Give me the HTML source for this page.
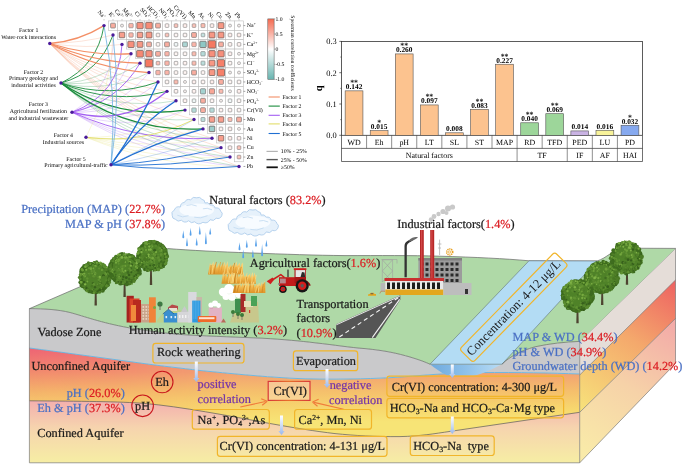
<!DOCTYPE html><html><head><meta charset="utf-8"><title>Cr(VI) factors</title><style>html,body{margin:0;padding:0;background:#fff;}svg{display:block;}text{font-family:'Liberation Serif', serif;text-rendering:geometricPrecision;}</style></head><body>
<svg width="685" height="466" viewBox="0 0 685 466">
<rect width="685" height="466" fill="#ffffff"/>
<path d="M49.80,43.50 Q81.91,43.04 113.00,34.99" fill="none" stroke="#f38f66" stroke-width="0.45" stroke-opacity="0.55"/>
<path d="M49.80,43.50 Q85.84,48.99 122.00,44.38" fill="none" stroke="#f38f66" stroke-width="0.45" stroke-opacity="0.55"/>
<path d="M49.80,43.50 Q99.29,75.70 158.00,81.94" fill="none" stroke="#f38f66" stroke-width="0.45" stroke-opacity="0.55"/>
<path d="M49.80,43.50 Q102.66,81.48 167.00,91.33" fill="none" stroke="#f38f66" stroke-width="0.45" stroke-opacity="0.55"/>
<path d="M49.80,43.50 Q106.03,87.25 176.00,100.72" fill="none" stroke="#f38f66" stroke-width="0.45" stroke-opacity="0.55"/>
<path d="M49.80,43.50 Q112.78,98.80 194.00,119.50" fill="none" stroke="#f38f66" stroke-width="0.45" stroke-opacity="0.55"/>
<path d="M49.80,43.50 Q119.53,110.35 212.00,138.28" fill="none" stroke="#f38f66" stroke-width="0.45" stroke-opacity="0.55"/>
<path d="M49.80,43.50 Q122.90,116.13 221.00,147.67" fill="none" stroke="#f38f66" stroke-width="0.45" stroke-opacity="0.55"/>
<path d="M49.80,43.50 Q126.27,121.90 230.00,157.06" fill="none" stroke="#f38f66" stroke-width="0.45" stroke-opacity="0.55"/>
<path d="M49.80,43.50 Q129.65,127.68 239.00,166.45" fill="none" stroke="#f38f66" stroke-width="0.45" stroke-opacity="0.55"/>
<path d="M61.00,83.00 Q101.85,82.39 131.00,53.77" fill="none" stroke="#1a8c3c" stroke-width="0.45" stroke-opacity="0.55"/>
<path d="M61.00,83.00 Q104.07,87.30 140.00,63.16" fill="none" stroke="#1a8c3c" stroke-width="0.45" stroke-opacity="0.55"/>
<path d="M61.00,83.00 Q106.88,93.62 149.00,72.55" fill="none" stroke="#1a8c3c" stroke-width="0.45" stroke-opacity="0.55"/>
<path d="M61.00,83.00 Q115.49,111.41 176.00,100.72" fill="none" stroke="#1a8c3c" stroke-width="0.45" stroke-opacity="0.55"/>
<path d="M61.00,83.00 Q121.30,123.86 194.00,119.50" fill="none" stroke="#1a8c3c" stroke-width="0.45" stroke-opacity="0.55"/>
<path d="M61.00,83.00 Q128.21,133.29 212.00,138.28" fill="none" stroke="#1a8c3c" stroke-width="0.45" stroke-opacity="0.55"/>
<path d="M61.00,83.00 Q131.30,139.34 221.00,147.67" fill="none" stroke="#1a8c3c" stroke-width="0.45" stroke-opacity="0.55"/>
<path d="M61.00,83.00 Q134.39,145.38 230.00,157.06" fill="none" stroke="#1a8c3c" stroke-width="0.45" stroke-opacity="0.55"/>
<path d="M61.00,83.00 Q137.48,151.43 239.00,166.45" fill="none" stroke="#1a8c3c" stroke-width="0.45" stroke-opacity="0.55"/>
<path d="M72.00,112.20 Q115.66,85.89 113.00,34.99" fill="none" stroke="#a35ef2" stroke-width="0.45" stroke-opacity="0.55"/>
<path d="M72.00,112.20 Q119.03,100.69 131.00,53.77" fill="none" stroke="#a35ef2" stroke-width="0.45" stroke-opacity="0.55"/>
<path d="M72.00,112.20 Q119.22,109.31 149.00,72.55" fill="none" stroke="#a35ef2" stroke-width="0.45" stroke-opacity="0.55"/>
<path d="M72.00,112.20 Q121.05,114.27 158.00,81.94" fill="none" stroke="#a35ef2" stroke-width="0.45" stroke-opacity="0.55"/>
<path d="M72.00,112.20 Q126.30,127.26 176.00,100.72" fill="none" stroke="#a35ef2" stroke-width="0.45" stroke-opacity="0.55"/>
<path d="M72.00,112.20 Q128.92,133.75 185.00,110.11" fill="none" stroke="#a35ef2" stroke-width="0.45" stroke-opacity="0.55"/>
<path d="M72.00,112.20 Q142.24,147.81 221.00,147.67" fill="none" stroke="#a35ef2" stroke-width="0.45" stroke-opacity="0.55"/>
<path d="M72.00,112.20 Q145.62,153.59 230.00,157.06" fill="none" stroke="#a35ef2" stroke-width="0.45" stroke-opacity="0.55"/>
<path d="M72.00,112.20 Q148.99,159.37 239.00,166.45" fill="none" stroke="#a35ef2" stroke-width="0.45" stroke-opacity="0.55"/>
<path d="M86.00,137.30 Q111.78,89.39 113.00,34.99" fill="none" stroke="#e2de6a" stroke-width="0.45" stroke-opacity="0.55"/>
<path d="M86.00,137.30 Q139.58,138.56 185.00,110.11" fill="none" stroke="#e2de6a" stroke-width="0.45" stroke-opacity="0.55"/>
<path d="M86.00,137.30 Q145.34,144.80 203.00,128.89" fill="none" stroke="#e2de6a" stroke-width="0.45" stroke-opacity="0.55"/>
<path d="M86.00,137.30 Q148.90,150.39 212.00,138.28" fill="none" stroke="#e2de6a" stroke-width="0.45" stroke-opacity="0.55"/>
<path d="M86.00,137.30 Q152.46,155.99 221.00,147.67" fill="none" stroke="#e2de6a" stroke-width="0.45" stroke-opacity="0.55"/>
<path d="M86.00,137.30 Q156.02,161.58 230.00,157.06" fill="none" stroke="#e2de6a" stroke-width="0.45" stroke-opacity="0.55"/>
<path d="M86.00,137.30 Q159.59,167.18 239.00,166.45" fill="none" stroke="#e2de6a" stroke-width="0.45" stroke-opacity="0.55"/>
<path d="M111.00,164.80 Q153.41,143.81 194.00,119.50" fill="none" stroke="#1f6fd2" stroke-width="0.45" stroke-opacity="0.55"/>
<path d="M111.00,164.80 Q162.30,154.57 212.00,138.28" fill="none" stroke="#1f6fd2" stroke-width="0.45" stroke-opacity="0.55"/>
<path d="M61.00,83.00 Q97.42,65.48 104.00,25.60" fill="none" stroke="#1a8c3c" stroke-width="0.95" stroke-opacity="0.95"/>
<path d="M61.00,83.00 Q99.48,72.52 113.00,34.99" fill="none" stroke="#1a8c3c" stroke-width="0.95" stroke-opacity="0.95"/>
<path d="M61.00,83.00 Q109.68,98.96 158.00,81.94" fill="none" stroke="#1a8c3c" stroke-width="0.95" stroke-opacity="0.95"/>
<path d="M61.00,83.00 Q112.58,105.19 167.00,91.33" fill="none" stroke="#1a8c3c" stroke-width="0.95" stroke-opacity="0.95"/>
<path d="M72.00,112.20 Q119.38,94.79 122.00,44.38" fill="none" stroke="#a35ef2" stroke-width="0.95" stroke-opacity="0.95"/>
<path d="M72.00,112.20 Q116.79,102.64 140.00,63.16" fill="none" stroke="#a35ef2" stroke-width="0.95" stroke-opacity="0.95"/>
<path d="M72.00,112.20 Q138.87,142.04 212.00,138.28" fill="none" stroke="#a35ef2" stroke-width="0.95" stroke-opacity="0.95"/>
<path d="M86.00,137.30 Q142.67,144.60 194.00,119.50" fill="none" stroke="#e2de6a" stroke-width="0.95" stroke-opacity="0.95"/>
<path d="M111.00,164.80 Q166.86,161.74 221.00,147.67" fill="none" stroke="#1f6fd2" stroke-width="0.95" stroke-opacity="0.95"/>
<path d="M111.00,164.80 Q170.89,166.88 230.00,157.06" fill="none" stroke="#1f6fd2" stroke-width="0.95" stroke-opacity="0.95"/>
<path d="M111.00,164.80 Q174.92,172.03 239.00,166.45" fill="none" stroke="#1f6fd2" stroke-width="0.95" stroke-opacity="0.95"/>
<path d="M49.80,43.50 Q79.05,41.05 104.00,25.60" fill="none" stroke="#f38f66" stroke-width="1.3" stroke-opacity="1.0"/>
<path d="M49.80,43.50 Q89.48,55.94 131.00,53.77" fill="none" stroke="#f38f66" stroke-width="1.3" stroke-opacity="1.0"/>
<path d="M49.80,43.50 Q92.93,62.35 140.00,63.16" fill="none" stroke="#f38f66" stroke-width="1.3" stroke-opacity="1.0"/>
<path d="M49.80,43.50 Q96.20,68.94 149.00,72.55" fill="none" stroke="#f38f66" stroke-width="1.3" stroke-opacity="1.0"/>
<path d="M61.00,83.00 Q117.85,120.12 185.00,110.11" fill="none" stroke="#1a8c3c" stroke-width="1.3" stroke-opacity="1.0"/>
<path d="M61.00,83.00 Q123.28,132.93 203.00,128.89" fill="none" stroke="#1a8c3c" stroke-width="1.3" stroke-opacity="1.0"/>
<path d="M72.00,112.20 Q124.93,126.47 167.00,91.33" fill="none" stroke="#a35ef2" stroke-width="1.3" stroke-opacity="1.0"/>
<path d="M111.00,164.80 Q138.64,125.72 158.00,81.94" fill="none" stroke="#1f6fd2" stroke-width="1.3" stroke-opacity="1.0"/>
<path d="M111.00,164.80 Q137.09,126.26 176.00,100.72" fill="none" stroke="#1f6fd2" stroke-width="1.3" stroke-opacity="1.0"/>
<path d="M111.00,164.80 Q155.20,142.25 203.00,128.89" fill="none" stroke="#1f6fd2" stroke-width="1.3" stroke-opacity="1.0"/>
<path d="M111.00,164.80 Q117.24,94.71 104.00,25.60" fill="none" stroke="#5fa9de" stroke-width="0.85" stroke-opacity="0.85"/>
<path d="M111.00,164.80 Q121.09,100.04 113.00,34.99" fill="none" stroke="#5fa9de" stroke-width="0.85" stroke-opacity="0.85"/>
<circle cx="49.8" cy="43.5" r="1.7" fill="#4a1a9a"/>
<circle cx="61.0" cy="83.0" r="1.7" fill="#4a1a9a"/>
<circle cx="72.0" cy="112.2" r="1.7" fill="#4a1a9a"/>
<circle cx="86.0" cy="137.3" r="1.7" fill="#4a1a9a"/>
<circle cx="111.0" cy="164.8" r="1.7" fill="#4a1a9a"/>
<circle cx="104.00" cy="25.60" r="1.7" fill="#4a1a9a"/>
<circle cx="113.00" cy="34.99" r="1.7" fill="#4a1a9a"/>
<circle cx="122.00" cy="44.38" r="1.7" fill="#4a1a9a"/>
<circle cx="131.00" cy="53.77" r="1.7" fill="#4a1a9a"/>
<circle cx="140.00" cy="63.16" r="1.7" fill="#4a1a9a"/>
<circle cx="149.00" cy="72.55" r="1.7" fill="#4a1a9a"/>
<circle cx="158.00" cy="81.94" r="1.7" fill="#4a1a9a"/>
<circle cx="167.00" cy="91.33" r="1.7" fill="#4a1a9a"/>
<circle cx="176.00" cy="100.72" r="1.7" fill="#4a1a9a"/>
<circle cx="185.00" cy="110.11" r="1.7" fill="#4a1a9a"/>
<circle cx="194.00" cy="119.50" r="1.7" fill="#4a1a9a"/>
<circle cx="203.00" cy="128.89" r="1.7" fill="#4a1a9a"/>
<circle cx="212.00" cy="138.28" r="1.7" fill="#4a1a9a"/>
<circle cx="221.00" cy="147.67" r="1.7" fill="#4a1a9a"/>
<circle cx="230.00" cy="157.06" r="1.7" fill="#4a1a9a"/>
<circle cx="239.00" cy="166.45" r="1.7" fill="#4a1a9a"/>
<rect x="108.50" y="20.91" width="9.00" height="9.39" fill="#fff" stroke="#bdbdbd" stroke-width="0.6"/>
<rect x="117.50" y="20.91" width="9.00" height="9.39" fill="#fff" stroke="#bdbdbd" stroke-width="0.6"/>
<rect x="126.50" y="20.91" width="9.00" height="9.39" fill="#fff" stroke="#bdbdbd" stroke-width="0.6"/>
<rect x="135.50" y="20.91" width="9.00" height="9.39" fill="#fff" stroke="#bdbdbd" stroke-width="0.6"/>
<rect x="144.50" y="20.91" width="9.00" height="9.39" fill="#fff" stroke="#bdbdbd" stroke-width="0.6"/>
<rect x="153.50" y="20.91" width="9.00" height="9.39" fill="#fff" stroke="#bdbdbd" stroke-width="0.6"/>
<rect x="162.50" y="20.91" width="9.00" height="9.39" fill="#fff" stroke="#bdbdbd" stroke-width="0.6"/>
<rect x="171.50" y="20.91" width="9.00" height="9.39" fill="#fff" stroke="#bdbdbd" stroke-width="0.6"/>
<rect x="180.50" y="20.91" width="9.00" height="9.39" fill="#fff" stroke="#bdbdbd" stroke-width="0.6"/>
<rect x="189.50" y="20.91" width="9.00" height="9.39" fill="#fff" stroke="#bdbdbd" stroke-width="0.6"/>
<rect x="198.50" y="20.91" width="9.00" height="9.39" fill="#fff" stroke="#bdbdbd" stroke-width="0.6"/>
<rect x="207.50" y="20.91" width="9.00" height="9.39" fill="#fff" stroke="#bdbdbd" stroke-width="0.6"/>
<rect x="216.50" y="20.91" width="9.00" height="9.39" fill="#fff" stroke="#bdbdbd" stroke-width="0.6"/>
<rect x="225.50" y="20.91" width="9.00" height="9.39" fill="#fff" stroke="#bdbdbd" stroke-width="0.6"/>
<rect x="234.50" y="20.91" width="9.00" height="9.39" fill="#fff" stroke="#bdbdbd" stroke-width="0.6"/>
<rect x="117.50" y="30.30" width="9.00" height="9.39" fill="#fff" stroke="#bdbdbd" stroke-width="0.6"/>
<rect x="126.50" y="30.30" width="9.00" height="9.39" fill="#fff" stroke="#bdbdbd" stroke-width="0.6"/>
<rect x="135.50" y="30.30" width="9.00" height="9.39" fill="#fff" stroke="#bdbdbd" stroke-width="0.6"/>
<rect x="144.50" y="30.30" width="9.00" height="9.39" fill="#fff" stroke="#bdbdbd" stroke-width="0.6"/>
<rect x="153.50" y="30.30" width="9.00" height="9.39" fill="#fff" stroke="#bdbdbd" stroke-width="0.6"/>
<rect x="162.50" y="30.30" width="9.00" height="9.39" fill="#fff" stroke="#bdbdbd" stroke-width="0.6"/>
<rect x="171.50" y="30.30" width="9.00" height="9.39" fill="#fff" stroke="#bdbdbd" stroke-width="0.6"/>
<rect x="180.50" y="30.30" width="9.00" height="9.39" fill="#fff" stroke="#bdbdbd" stroke-width="0.6"/>
<rect x="189.50" y="30.30" width="9.00" height="9.39" fill="#fff" stroke="#bdbdbd" stroke-width="0.6"/>
<rect x="198.50" y="30.30" width="9.00" height="9.39" fill="#fff" stroke="#bdbdbd" stroke-width="0.6"/>
<rect x="207.50" y="30.30" width="9.00" height="9.39" fill="#fff" stroke="#bdbdbd" stroke-width="0.6"/>
<rect x="216.50" y="30.30" width="9.00" height="9.39" fill="#fff" stroke="#bdbdbd" stroke-width="0.6"/>
<rect x="225.50" y="30.30" width="9.00" height="9.39" fill="#fff" stroke="#bdbdbd" stroke-width="0.6"/>
<rect x="234.50" y="30.30" width="9.00" height="9.39" fill="#fff" stroke="#bdbdbd" stroke-width="0.6"/>
<rect x="126.50" y="39.69" width="9.00" height="9.39" fill="#fff" stroke="#bdbdbd" stroke-width="0.6"/>
<rect x="135.50" y="39.69" width="9.00" height="9.39" fill="#fff" stroke="#bdbdbd" stroke-width="0.6"/>
<rect x="144.50" y="39.69" width="9.00" height="9.39" fill="#fff" stroke="#bdbdbd" stroke-width="0.6"/>
<rect x="153.50" y="39.69" width="9.00" height="9.39" fill="#fff" stroke="#bdbdbd" stroke-width="0.6"/>
<rect x="162.50" y="39.69" width="9.00" height="9.39" fill="#fff" stroke="#bdbdbd" stroke-width="0.6"/>
<rect x="171.50" y="39.69" width="9.00" height="9.39" fill="#fff" stroke="#bdbdbd" stroke-width="0.6"/>
<rect x="180.50" y="39.69" width="9.00" height="9.39" fill="#fff" stroke="#bdbdbd" stroke-width="0.6"/>
<rect x="189.50" y="39.69" width="9.00" height="9.39" fill="#fff" stroke="#bdbdbd" stroke-width="0.6"/>
<rect x="198.50" y="39.69" width="9.00" height="9.39" fill="#fff" stroke="#bdbdbd" stroke-width="0.6"/>
<rect x="207.50" y="39.69" width="9.00" height="9.39" fill="#fff" stroke="#bdbdbd" stroke-width="0.6"/>
<rect x="216.50" y="39.69" width="9.00" height="9.39" fill="#fff" stroke="#bdbdbd" stroke-width="0.6"/>
<rect x="225.50" y="39.69" width="9.00" height="9.39" fill="#fff" stroke="#bdbdbd" stroke-width="0.6"/>
<rect x="234.50" y="39.69" width="9.00" height="9.39" fill="#fff" stroke="#bdbdbd" stroke-width="0.6"/>
<rect x="135.50" y="49.08" width="9.00" height="9.39" fill="#fff" stroke="#bdbdbd" stroke-width="0.6"/>
<rect x="144.50" y="49.08" width="9.00" height="9.39" fill="#fff" stroke="#bdbdbd" stroke-width="0.6"/>
<rect x="153.50" y="49.08" width="9.00" height="9.39" fill="#fff" stroke="#bdbdbd" stroke-width="0.6"/>
<rect x="162.50" y="49.08" width="9.00" height="9.39" fill="#fff" stroke="#bdbdbd" stroke-width="0.6"/>
<rect x="171.50" y="49.08" width="9.00" height="9.39" fill="#fff" stroke="#bdbdbd" stroke-width="0.6"/>
<rect x="180.50" y="49.08" width="9.00" height="9.39" fill="#fff" stroke="#bdbdbd" stroke-width="0.6"/>
<rect x="189.50" y="49.08" width="9.00" height="9.39" fill="#fff" stroke="#bdbdbd" stroke-width="0.6"/>
<rect x="198.50" y="49.08" width="9.00" height="9.39" fill="#fff" stroke="#bdbdbd" stroke-width="0.6"/>
<rect x="207.50" y="49.08" width="9.00" height="9.39" fill="#fff" stroke="#bdbdbd" stroke-width="0.6"/>
<rect x="216.50" y="49.08" width="9.00" height="9.39" fill="#fff" stroke="#bdbdbd" stroke-width="0.6"/>
<rect x="225.50" y="49.08" width="9.00" height="9.39" fill="#fff" stroke="#bdbdbd" stroke-width="0.6"/>
<rect x="234.50" y="49.08" width="9.00" height="9.39" fill="#fff" stroke="#bdbdbd" stroke-width="0.6"/>
<rect x="144.50" y="58.47" width="9.00" height="9.39" fill="#fff" stroke="#bdbdbd" stroke-width="0.6"/>
<rect x="153.50" y="58.47" width="9.00" height="9.39" fill="#fff" stroke="#bdbdbd" stroke-width="0.6"/>
<rect x="162.50" y="58.47" width="9.00" height="9.39" fill="#fff" stroke="#bdbdbd" stroke-width="0.6"/>
<rect x="171.50" y="58.47" width="9.00" height="9.39" fill="#fff" stroke="#bdbdbd" stroke-width="0.6"/>
<rect x="180.50" y="58.47" width="9.00" height="9.39" fill="#fff" stroke="#bdbdbd" stroke-width="0.6"/>
<rect x="189.50" y="58.47" width="9.00" height="9.39" fill="#fff" stroke="#bdbdbd" stroke-width="0.6"/>
<rect x="198.50" y="58.47" width="9.00" height="9.39" fill="#fff" stroke="#bdbdbd" stroke-width="0.6"/>
<rect x="207.50" y="58.47" width="9.00" height="9.39" fill="#fff" stroke="#bdbdbd" stroke-width="0.6"/>
<rect x="216.50" y="58.47" width="9.00" height="9.39" fill="#fff" stroke="#bdbdbd" stroke-width="0.6"/>
<rect x="225.50" y="58.47" width="9.00" height="9.39" fill="#fff" stroke="#bdbdbd" stroke-width="0.6"/>
<rect x="234.50" y="58.47" width="9.00" height="9.39" fill="#fff" stroke="#bdbdbd" stroke-width="0.6"/>
<rect x="153.50" y="67.86" width="9.00" height="9.39" fill="#fff" stroke="#bdbdbd" stroke-width="0.6"/>
<rect x="162.50" y="67.86" width="9.00" height="9.39" fill="#fff" stroke="#bdbdbd" stroke-width="0.6"/>
<rect x="171.50" y="67.86" width="9.00" height="9.39" fill="#fff" stroke="#bdbdbd" stroke-width="0.6"/>
<rect x="180.50" y="67.86" width="9.00" height="9.39" fill="#fff" stroke="#bdbdbd" stroke-width="0.6"/>
<rect x="189.50" y="67.86" width="9.00" height="9.39" fill="#fff" stroke="#bdbdbd" stroke-width="0.6"/>
<rect x="198.50" y="67.86" width="9.00" height="9.39" fill="#fff" stroke="#bdbdbd" stroke-width="0.6"/>
<rect x="207.50" y="67.86" width="9.00" height="9.39" fill="#fff" stroke="#bdbdbd" stroke-width="0.6"/>
<rect x="216.50" y="67.86" width="9.00" height="9.39" fill="#fff" stroke="#bdbdbd" stroke-width="0.6"/>
<rect x="225.50" y="67.86" width="9.00" height="9.39" fill="#fff" stroke="#bdbdbd" stroke-width="0.6"/>
<rect x="234.50" y="67.86" width="9.00" height="9.39" fill="#fff" stroke="#bdbdbd" stroke-width="0.6"/>
<rect x="162.50" y="77.25" width="9.00" height="9.39" fill="#fff" stroke="#bdbdbd" stroke-width="0.6"/>
<rect x="171.50" y="77.25" width="9.00" height="9.39" fill="#fff" stroke="#bdbdbd" stroke-width="0.6"/>
<rect x="180.50" y="77.25" width="9.00" height="9.39" fill="#fff" stroke="#bdbdbd" stroke-width="0.6"/>
<rect x="189.50" y="77.25" width="9.00" height="9.39" fill="#fff" stroke="#bdbdbd" stroke-width="0.6"/>
<rect x="198.50" y="77.25" width="9.00" height="9.39" fill="#fff" stroke="#bdbdbd" stroke-width="0.6"/>
<rect x="207.50" y="77.25" width="9.00" height="9.39" fill="#fff" stroke="#bdbdbd" stroke-width="0.6"/>
<rect x="216.50" y="77.25" width="9.00" height="9.39" fill="#fff" stroke="#bdbdbd" stroke-width="0.6"/>
<rect x="225.50" y="77.25" width="9.00" height="9.39" fill="#fff" stroke="#bdbdbd" stroke-width="0.6"/>
<rect x="234.50" y="77.25" width="9.00" height="9.39" fill="#fff" stroke="#bdbdbd" stroke-width="0.6"/>
<rect x="171.50" y="86.64" width="9.00" height="9.39" fill="#fff" stroke="#bdbdbd" stroke-width="0.6"/>
<rect x="180.50" y="86.64" width="9.00" height="9.39" fill="#fff" stroke="#bdbdbd" stroke-width="0.6"/>
<rect x="189.50" y="86.64" width="9.00" height="9.39" fill="#fff" stroke="#bdbdbd" stroke-width="0.6"/>
<rect x="198.50" y="86.64" width="9.00" height="9.39" fill="#fff" stroke="#bdbdbd" stroke-width="0.6"/>
<rect x="207.50" y="86.64" width="9.00" height="9.39" fill="#fff" stroke="#bdbdbd" stroke-width="0.6"/>
<rect x="216.50" y="86.64" width="9.00" height="9.39" fill="#fff" stroke="#bdbdbd" stroke-width="0.6"/>
<rect x="225.50" y="86.64" width="9.00" height="9.39" fill="#fff" stroke="#bdbdbd" stroke-width="0.6"/>
<rect x="234.50" y="86.64" width="9.00" height="9.39" fill="#fff" stroke="#bdbdbd" stroke-width="0.6"/>
<rect x="180.50" y="96.03" width="9.00" height="9.39" fill="#fff" stroke="#bdbdbd" stroke-width="0.6"/>
<rect x="189.50" y="96.03" width="9.00" height="9.39" fill="#fff" stroke="#bdbdbd" stroke-width="0.6"/>
<rect x="198.50" y="96.03" width="9.00" height="9.39" fill="#fff" stroke="#bdbdbd" stroke-width="0.6"/>
<rect x="207.50" y="96.03" width="9.00" height="9.39" fill="#fff" stroke="#bdbdbd" stroke-width="0.6"/>
<rect x="216.50" y="96.03" width="9.00" height="9.39" fill="#fff" stroke="#bdbdbd" stroke-width="0.6"/>
<rect x="225.50" y="96.03" width="9.00" height="9.39" fill="#fff" stroke="#bdbdbd" stroke-width="0.6"/>
<rect x="234.50" y="96.03" width="9.00" height="9.39" fill="#fff" stroke="#bdbdbd" stroke-width="0.6"/>
<rect x="189.50" y="105.42" width="9.00" height="9.39" fill="#fff" stroke="#bdbdbd" stroke-width="0.6"/>
<rect x="198.50" y="105.42" width="9.00" height="9.39" fill="#fff" stroke="#bdbdbd" stroke-width="0.6"/>
<rect x="207.50" y="105.42" width="9.00" height="9.39" fill="#fff" stroke="#bdbdbd" stroke-width="0.6"/>
<rect x="216.50" y="105.42" width="9.00" height="9.39" fill="#fff" stroke="#bdbdbd" stroke-width="0.6"/>
<rect x="225.50" y="105.42" width="9.00" height="9.39" fill="#fff" stroke="#bdbdbd" stroke-width="0.6"/>
<rect x="234.50" y="105.42" width="9.00" height="9.39" fill="#fff" stroke="#bdbdbd" stroke-width="0.6"/>
<rect x="198.50" y="114.81" width="9.00" height="9.39" fill="#fff" stroke="#bdbdbd" stroke-width="0.6"/>
<rect x="207.50" y="114.81" width="9.00" height="9.39" fill="#fff" stroke="#bdbdbd" stroke-width="0.6"/>
<rect x="216.50" y="114.81" width="9.00" height="9.39" fill="#fff" stroke="#bdbdbd" stroke-width="0.6"/>
<rect x="225.50" y="114.81" width="9.00" height="9.39" fill="#fff" stroke="#bdbdbd" stroke-width="0.6"/>
<rect x="234.50" y="114.81" width="9.00" height="9.39" fill="#fff" stroke="#bdbdbd" stroke-width="0.6"/>
<rect x="207.50" y="124.20" width="9.00" height="9.39" fill="#fff" stroke="#bdbdbd" stroke-width="0.6"/>
<rect x="216.50" y="124.20" width="9.00" height="9.39" fill="#fff" stroke="#bdbdbd" stroke-width="0.6"/>
<rect x="225.50" y="124.20" width="9.00" height="9.39" fill="#fff" stroke="#bdbdbd" stroke-width="0.6"/>
<rect x="234.50" y="124.20" width="9.00" height="9.39" fill="#fff" stroke="#bdbdbd" stroke-width="0.6"/>
<rect x="216.50" y="133.59" width="9.00" height="9.39" fill="#fff" stroke="#bdbdbd" stroke-width="0.6"/>
<rect x="225.50" y="133.59" width="9.00" height="9.39" fill="#fff" stroke="#bdbdbd" stroke-width="0.6"/>
<rect x="234.50" y="133.59" width="9.00" height="9.39" fill="#fff" stroke="#bdbdbd" stroke-width="0.6"/>
<rect x="225.50" y="142.98" width="9.00" height="9.39" fill="#fff" stroke="#bdbdbd" stroke-width="0.6"/>
<rect x="234.50" y="142.98" width="9.00" height="9.39" fill="#fff" stroke="#bdbdbd" stroke-width="0.6"/>
<rect x="234.50" y="152.37" width="9.00" height="9.39" fill="#fff" stroke="#bdbdbd" stroke-width="0.6"/>
<rect x="110.61" y="23.21" width="4.78" height="4.78" rx="0.7" fill="#f9ad9f" stroke="#7d7d7d" stroke-width="0.75"/>
<rect x="120.70" y="24.30" width="2.60" height="2.60" rx="0.7" fill="#fef7f6" stroke="#7d7d7d" stroke-width="0.6"/>
<rect x="128.80" y="23.40" width="4.40" height="4.40" rx="0.7" fill="#fab4a8" stroke="#7d7d7d" stroke-width="0.6"/>
<rect x="136.85" y="22.45" width="6.30" height="6.30" rx="0.7" fill="#f78f7c" stroke="#6e5f5b" stroke-width="0.75"/>
<rect x="145.74" y="22.34" width="6.53" height="6.53" rx="0.7" fill="#f68b76" stroke="#6e5f5b" stroke-width="0.75"/>
<rect x="155.61" y="23.21" width="4.78" height="4.78" rx="0.7" fill="#f9ad9f" stroke="#7d7d7d" stroke-width="0.75"/>
<rect x="165.20" y="23.80" width="3.60" height="3.60" rx="0.7" fill="#fef2f0" stroke="#7d7d7d" stroke-width="0.6"/>
<rect x="174.18" y="23.78" width="3.64" height="3.64" rx="0.7" fill="#fbc3b9" stroke="#7d7d7d" stroke-width="0.6"/>
<rect x="183.20" y="23.80" width="3.60" height="3.60" rx="0.7" fill="#feedea" stroke="#7d7d7d" stroke-width="0.6"/>
<rect x="192.18" y="23.78" width="3.64" height="3.64" rx="0.7" fill="#fbc3b9" stroke="#7d7d7d" stroke-width="0.6"/>
<rect x="200.99" y="23.59" width="4.02" height="4.02" rx="0.7" fill="#fabcb0" stroke="#7d7d7d" stroke-width="0.6"/>
<rect x="210.20" y="23.80" width="3.60" height="3.60" rx="0.7" fill="#feedea" stroke="#7d7d7d" stroke-width="0.6"/>
<rect x="218.04" y="22.64" width="5.92" height="5.92" rx="0.7" fill="#f79784" stroke="#6e5f5b" stroke-width="0.75"/>
<rect x="228.70" y="24.30" width="2.60" height="2.60" rx="0.7" fill="#fff9f8" stroke="#7d7d7d" stroke-width="0.6"/>
<rect x="237.70" y="24.30" width="2.60" height="2.60" rx="0.7" fill="#fef7f6" stroke="#7d7d7d" stroke-width="0.6"/>
<rect x="119.23" y="32.22" width="5.54" height="5.54" rx="0.7" fill="#f89e8d" stroke="#6e5f5b" stroke-width="0.75"/>
<rect x="128.80" y="32.79" width="4.40" height="4.40" rx="0.7" fill="#fab4a8" stroke="#7d7d7d" stroke-width="0.6"/>
<rect x="137.23" y="32.22" width="5.54" height="5.54" rx="0.7" fill="#f89e8d" stroke="#6e5f5b" stroke-width="0.75"/>
<rect x="146.04" y="32.03" width="5.92" height="5.92" rx="0.7" fill="#f79784" stroke="#6e5f5b" stroke-width="0.75"/>
<rect x="156.20" y="33.19" width="3.60" height="3.60" rx="0.7" fill="#feedea" stroke="#7d7d7d" stroke-width="0.6"/>
<rect x="165.18" y="33.17" width="3.64" height="3.64" rx="0.7" fill="#fbc3b9" stroke="#7d7d7d" stroke-width="0.6"/>
<rect x="174.20" y="33.19" width="3.60" height="3.60" rx="0.7" fill="#fef5f3" stroke="#7d7d7d" stroke-width="0.6"/>
<rect x="183.20" y="33.19" width="3.60" height="3.60" rx="0.7" fill="#fef5f3" stroke="#7d7d7d" stroke-width="0.6"/>
<rect x="191.61" y="32.60" width="4.78" height="4.78" rx="0.7" fill="#f9ad9f" stroke="#7d7d7d" stroke-width="0.75"/>
<rect x="201.18" y="33.17" width="3.64" height="3.64" rx="0.7" fill="#c3e1df" stroke="#7d7d7d" stroke-width="0.6"/>
<rect x="209.04" y="32.03" width="5.92" height="5.92" rx="0.7" fill="#f79784" stroke="#6e5f5b" stroke-width="0.75"/>
<rect x="218.04" y="32.03" width="5.92" height="5.92" rx="0.7" fill="#f79784" stroke="#6e5f5b" stroke-width="0.75"/>
<rect x="228.20" y="33.19" width="3.60" height="3.60" rx="0.7" fill="#feedea" stroke="#7d7d7d" stroke-width="0.6"/>
<rect x="237.20" y="33.19" width="3.60" height="3.60" rx="0.7" fill="#feedea" stroke="#7d7d7d" stroke-width="0.6"/>
<rect x="127.85" y="41.23" width="6.30" height="6.30" rx="0.7" fill="#f78f7c" stroke="#6e5f5b" stroke-width="0.75"/>
<rect x="137.04" y="41.42" width="5.92" height="5.92" rx="0.7" fill="#f79784" stroke="#6e5f5b" stroke-width="0.75"/>
<rect x="146.61" y="41.99" width="4.78" height="4.78" rx="0.7" fill="#f9ad9f" stroke="#7d7d7d" stroke-width="0.75"/>
<rect x="156.20" y="42.58" width="3.60" height="3.60" rx="0.7" fill="#fef5f3" stroke="#7d7d7d" stroke-width="0.6"/>
<rect x="164.61" y="41.99" width="4.78" height="4.78" rx="0.7" fill="#f9ad9f" stroke="#7d7d7d" stroke-width="0.75"/>
<rect x="174.20" y="42.58" width="3.60" height="3.60" rx="0.7" fill="#f2f8f8" stroke="#7d7d7d" stroke-width="0.6"/>
<rect x="182.61" y="41.99" width="4.78" height="4.78" rx="0.7" fill="#acd6d4" stroke="#7d7d7d" stroke-width="0.75"/>
<rect x="191.80" y="42.18" width="4.40" height="4.40" rx="0.7" fill="#fab4a8" stroke="#7d7d7d" stroke-width="0.6"/>
<rect x="199.85" y="41.23" width="6.30" height="6.30" rx="0.7" fill="#8ec7c4" stroke="#6e5f5b" stroke-width="0.75"/>
<rect x="208.28" y="40.66" width="7.44" height="7.44" rx="0.7" fill="#f57962" stroke="#6e5f5b" stroke-width="0.75"/>
<rect x="218.61" y="41.99" width="4.78" height="4.78" rx="0.7" fill="#f9ad9f" stroke="#7d7d7d" stroke-width="0.75"/>
<rect x="228.20" y="42.58" width="3.60" height="3.60" rx="0.7" fill="#fef2f0" stroke="#7d7d7d" stroke-width="0.6"/>
<rect x="237.20" y="42.58" width="3.60" height="3.60" rx="0.7" fill="#fef2f0" stroke="#7d7d7d" stroke-width="0.6"/>
<rect x="136.66" y="50.43" width="6.68" height="6.68" rx="0.7" fill="#f68873" stroke="#6e5f5b" stroke-width="0.75"/>
<rect x="145.85" y="50.62" width="6.30" height="6.30" rx="0.7" fill="#f78f7c" stroke="#6e5f5b" stroke-width="0.75"/>
<rect x="155.61" y="51.38" width="4.78" height="4.78" rx="0.7" fill="#f9ad9f" stroke="#7d7d7d" stroke-width="0.75"/>
<rect x="164.80" y="51.57" width="4.40" height="4.40" rx="0.7" fill="#fab4a8" stroke="#7d7d7d" stroke-width="0.6"/>
<rect x="174.20" y="51.97" width="3.60" height="3.60" rx="0.7" fill="#fef5f3" stroke="#7d7d7d" stroke-width="0.6"/>
<rect x="183.20" y="51.97" width="3.60" height="3.60" rx="0.7" fill="#fef5f3" stroke="#7d7d7d" stroke-width="0.6"/>
<rect x="191.99" y="51.76" width="4.02" height="4.02" rx="0.7" fill="#fabcb0" stroke="#7d7d7d" stroke-width="0.6"/>
<rect x="200.80" y="51.57" width="4.40" height="4.40" rx="0.7" fill="#b4dad8" stroke="#7d7d7d" stroke-width="0.6"/>
<rect x="208.85" y="50.62" width="6.30" height="6.30" rx="0.7" fill="#f78f7c" stroke="#6e5f5b" stroke-width="0.75"/>
<rect x="217.85" y="50.62" width="6.30" height="6.30" rx="0.7" fill="#f78f7c" stroke="#6e5f5b" stroke-width="0.75"/>
<rect x="228.20" y="51.97" width="3.60" height="3.60" rx="0.7" fill="#feefed" stroke="#7d7d7d" stroke-width="0.6"/>
<rect x="237.70" y="52.47" width="2.60" height="2.60" rx="0.7" fill="#fef7f6" stroke="#7d7d7d" stroke-width="0.6"/>
<rect x="145.28" y="59.44" width="7.44" height="7.44" rx="0.7" fill="#f57962" stroke="#6e5f5b" stroke-width="0.75"/>
<rect x="156.18" y="61.34" width="3.64" height="3.64" rx="0.7" fill="#fbc3b9" stroke="#7d7d7d" stroke-width="0.6"/>
<rect x="164.80" y="60.96" width="4.40" height="4.40" rx="0.7" fill="#fab4a8" stroke="#7d7d7d" stroke-width="0.6"/>
<rect x="174.20" y="61.36" width="3.60" height="3.60" rx="0.7" fill="#fef5f3" stroke="#7d7d7d" stroke-width="0.6"/>
<rect x="183.20" y="61.36" width="3.60" height="3.60" rx="0.7" fill="#fef2f0" stroke="#7d7d7d" stroke-width="0.6"/>
<rect x="191.99" y="61.15" width="4.02" height="4.02" rx="0.7" fill="#fabcb0" stroke="#7d7d7d" stroke-width="0.6"/>
<rect x="200.99" y="61.15" width="4.02" height="4.02" rx="0.7" fill="#bbdddb" stroke="#7d7d7d" stroke-width="0.6"/>
<rect x="209.04" y="60.20" width="5.92" height="5.92" rx="0.7" fill="#f79784" stroke="#6e5f5b" stroke-width="0.75"/>
<rect x="217.47" y="59.63" width="7.06" height="7.06" rx="0.7" fill="#f6806a" stroke="#6e5f5b" stroke-width="0.75"/>
<rect x="228.20" y="61.36" width="3.60" height="3.60" rx="0.7" fill="#fef5f3" stroke="#7d7d7d" stroke-width="0.6"/>
<rect x="237.70" y="61.86" width="2.60" height="2.60" rx="0.7" fill="#fef7f6" stroke="#7d7d7d" stroke-width="0.6"/>
<rect x="155.80" y="70.35" width="4.40" height="4.40" rx="0.7" fill="#fab4a8" stroke="#7d7d7d" stroke-width="0.6"/>
<rect x="164.80" y="70.35" width="4.40" height="4.40" rx="0.7" fill="#fab4a8" stroke="#7d7d7d" stroke-width="0.6"/>
<rect x="174.20" y="70.75" width="3.60" height="3.60" rx="0.7" fill="#fef5f3" stroke="#7d7d7d" stroke-width="0.6"/>
<rect x="183.20" y="70.75" width="3.60" height="3.60" rx="0.7" fill="#fef5f3" stroke="#7d7d7d" stroke-width="0.6"/>
<rect x="191.61" y="70.16" width="4.78" height="4.78" rx="0.7" fill="#f9ad9f" stroke="#7d7d7d" stroke-width="0.75"/>
<rect x="201.20" y="70.75" width="3.60" height="3.60" rx="0.7" fill="#fef5f3" stroke="#7d7d7d" stroke-width="0.6"/>
<rect x="209.04" y="69.59" width="5.92" height="5.92" rx="0.7" fill="#f79784" stroke="#6e5f5b" stroke-width="0.75"/>
<rect x="217.47" y="69.02" width="7.06" height="7.06" rx="0.7" fill="#f6806a" stroke="#6e5f5b" stroke-width="0.75"/>
<rect x="228.70" y="71.25" width="2.60" height="2.60" rx="0.7" fill="#fef7f6" stroke="#7d7d7d" stroke-width="0.6"/>
<rect x="237.70" y="71.25" width="2.60" height="2.60" rx="0.7" fill="#fef7f6" stroke="#7d7d7d" stroke-width="0.6"/>
<rect x="165.20" y="80.14" width="3.60" height="3.60" rx="0.7" fill="#fef5f3" stroke="#7d7d7d" stroke-width="0.6"/>
<rect x="173.99" y="79.93" width="4.02" height="4.02" rx="0.7" fill="#fabcb0" stroke="#7d7d7d" stroke-width="0.6"/>
<rect x="183.70" y="80.64" width="2.60" height="2.60" rx="0.7" fill="#fef7f6" stroke="#7d7d7d" stroke-width="0.6"/>
<rect x="192.20" y="80.14" width="3.60" height="3.60" rx="0.7" fill="#feefed" stroke="#7d7d7d" stroke-width="0.6"/>
<rect x="201.20" y="80.14" width="3.60" height="3.60" rx="0.7" fill="#fef5f3" stroke="#7d7d7d" stroke-width="0.6"/>
<rect x="210.20" y="80.14" width="3.60" height="3.60" rx="0.7" fill="#feedea" stroke="#7d7d7d" stroke-width="0.6"/>
<rect x="218.61" y="79.55" width="4.78" height="4.78" rx="0.7" fill="#f9ad9f" stroke="#7d7d7d" stroke-width="0.75"/>
<rect x="228.20" y="80.14" width="3.60" height="3.60" rx="0.7" fill="#fef5f3" stroke="#7d7d7d" stroke-width="0.6"/>
<rect x="237.20" y="80.14" width="3.60" height="3.60" rx="0.7" fill="#fef5f3" stroke="#7d7d7d" stroke-width="0.6"/>
<rect x="174.20" y="89.53" width="3.60" height="3.60" rx="0.7" fill="#fef2f0" stroke="#7d7d7d" stroke-width="0.6"/>
<rect x="183.70" y="90.03" width="2.60" height="2.60" rx="0.7" fill="#fef7f6" stroke="#7d7d7d" stroke-width="0.6"/>
<rect x="192.20" y="89.53" width="3.60" height="3.60" rx="0.7" fill="#fef2f0" stroke="#7d7d7d" stroke-width="0.6"/>
<rect x="200.42" y="88.75" width="5.16" height="5.16" rx="0.7" fill="#a4d2d0" stroke="#7d7d7d" stroke-width="0.75"/>
<rect x="209.42" y="88.75" width="5.16" height="5.16" rx="0.7" fill="#f8a696" stroke="#7d7d7d" stroke-width="0.75"/>
<rect x="218.99" y="89.32" width="4.02" height="4.02" rx="0.7" fill="#fabcb0" stroke="#7d7d7d" stroke-width="0.6"/>
<rect x="228.70" y="90.03" width="2.60" height="2.60" rx="0.7" fill="#fef7f6" stroke="#7d7d7d" stroke-width="0.6"/>
<rect x="237.20" y="89.53" width="3.60" height="3.60" rx="0.7" fill="#feefed" stroke="#7d7d7d" stroke-width="0.6"/>
<rect x="183.20" y="98.92" width="3.60" height="3.60" rx="0.7" fill="#fef2f0" stroke="#7d7d7d" stroke-width="0.6"/>
<rect x="192.20" y="98.92" width="3.60" height="3.60" rx="0.7" fill="#edf6f5" stroke="#7d7d7d" stroke-width="0.6"/>
<rect x="200.61" y="98.33" width="4.78" height="4.78" rx="0.7" fill="#f9ad9f" stroke="#7d7d7d" stroke-width="0.75"/>
<rect x="210.20" y="98.92" width="3.60" height="3.60" rx="0.7" fill="#fef5f3" stroke="#7d7d7d" stroke-width="0.6"/>
<rect x="219.70" y="99.42" width="2.60" height="2.60" rx="0.7" fill="#fef7f6" stroke="#7d7d7d" stroke-width="0.6"/>
<rect x="228.20" y="98.92" width="3.60" height="3.60" rx="0.7" fill="#f2f8f8" stroke="#7d7d7d" stroke-width="0.6"/>
<rect x="237.20" y="98.92" width="3.60" height="3.60" rx="0.7" fill="#fef5f3" stroke="#7d7d7d" stroke-width="0.6"/>
<rect x="191.80" y="107.91" width="4.40" height="4.40" rx="0.7" fill="#b4dad8" stroke="#7d7d7d" stroke-width="0.6"/>
<rect x="200.61" y="107.72" width="4.78" height="4.78" rx="0.7" fill="#f9ad9f" stroke="#7d7d7d" stroke-width="0.75"/>
<rect x="209.80" y="107.91" width="4.40" height="4.40" rx="0.7" fill="#b4dad8" stroke="#7d7d7d" stroke-width="0.6"/>
<rect x="219.20" y="108.31" width="3.60" height="3.60" rx="0.7" fill="#fef2f0" stroke="#7d7d7d" stroke-width="0.6"/>
<rect x="228.20" y="108.31" width="3.60" height="3.60" rx="0.7" fill="#fef2f0" stroke="#7d7d7d" stroke-width="0.6"/>
<rect x="237.20" y="108.31" width="3.60" height="3.60" rx="0.7" fill="#fef5f3" stroke="#7d7d7d" stroke-width="0.6"/>
<rect x="200.99" y="117.49" width="4.02" height="4.02" rx="0.7" fill="#bbdddb" stroke="#7d7d7d" stroke-width="0.6"/>
<rect x="209.23" y="116.73" width="5.54" height="5.54" rx="0.7" fill="#f89e8d" stroke="#6e5f5b" stroke-width="0.75"/>
<rect x="218.23" y="116.73" width="5.54" height="5.54" rx="0.7" fill="#f89e8d" stroke="#6e5f5b" stroke-width="0.75"/>
<rect x="227.99" y="117.49" width="4.02" height="4.02" rx="0.7" fill="#fabcb0" stroke="#7d7d7d" stroke-width="0.6"/>
<rect x="236.61" y="117.11" width="4.78" height="4.78" rx="0.7" fill="#f9ad9f" stroke="#7d7d7d" stroke-width="0.75"/>
<rect x="209.23" y="126.12" width="5.54" height="5.54" rx="0.7" fill="#9dcecc" stroke="#6e5f5b" stroke-width="0.75"/>
<rect x="219.20" y="127.09" width="3.60" height="3.60" rx="0.7" fill="#fef2f0" stroke="#7d7d7d" stroke-width="0.6"/>
<rect x="228.20" y="127.09" width="3.60" height="3.60" rx="0.7" fill="#feefed" stroke="#7d7d7d" stroke-width="0.6"/>
<rect x="237.70" y="127.59" width="2.60" height="2.60" rx="0.7" fill="#fef7f6" stroke="#7d7d7d" stroke-width="0.6"/>
<rect x="218.23" y="135.51" width="5.54" height="5.54" rx="0.7" fill="#f89e8d" stroke="#6e5f5b" stroke-width="0.75"/>
<rect x="228.20" y="136.48" width="3.60" height="3.60" rx="0.7" fill="#feedea" stroke="#7d7d7d" stroke-width="0.6"/>
<rect x="237.20" y="136.48" width="3.60" height="3.60" rx="0.7" fill="#feedea" stroke="#7d7d7d" stroke-width="0.6"/>
<rect x="228.20" y="145.87" width="3.60" height="3.60" rx="0.7" fill="#feefed" stroke="#7d7d7d" stroke-width="0.6"/>
<rect x="237.18" y="145.85" width="3.64" height="3.64" rx="0.7" fill="#fbc3b9" stroke="#7d7d7d" stroke-width="0.6"/>
<rect x="237.18" y="155.24" width="3.64" height="3.64" rx="0.7" fill="#fbc3b9" stroke="#7d7d7d" stroke-width="0.6"/>
<line x1="243.5" y1="25.60" x2="245.3" y2="25.60" stroke="#444" stroke-width="0.5"/>
<text x="246.8" y="27.40" font-size="5.9">Na<tspan baseline-shift="2.01" font-size="3.66">+</tspan></text>
<line x1="243.5" y1="34.99" x2="245.3" y2="34.99" stroke="#444" stroke-width="0.5"/>
<text x="246.8" y="36.79" font-size="5.9">K<tspan baseline-shift="2.01" font-size="3.66">+</tspan></text>
<line x1="243.5" y1="44.38" x2="245.3" y2="44.38" stroke="#444" stroke-width="0.5"/>
<text x="246.8" y="46.18" font-size="5.9">Ca<tspan baseline-shift="2.01" font-size="3.66">2+</tspan></text>
<line x1="243.5" y1="53.77" x2="245.3" y2="53.77" stroke="#444" stroke-width="0.5"/>
<text x="246.8" y="55.57" font-size="5.9">Mg<tspan baseline-shift="2.01" font-size="3.66">2+</tspan></text>
<line x1="243.5" y1="63.16" x2="245.3" y2="63.16" stroke="#444" stroke-width="0.5"/>
<text x="246.8" y="64.96" font-size="5.9">Cl<tspan baseline-shift="2.01" font-size="3.66">−</tspan></text>
<line x1="243.5" y1="72.55" x2="245.3" y2="72.55" stroke="#444" stroke-width="0.5"/>
<text x="246.8" y="74.35" font-size="5.9">SO<tspan baseline-shift="-0.83" font-size="3.78">4</tspan><tspan baseline-shift="2.01" font-size="3.66">2-</tspan></text>
<line x1="243.5" y1="81.94" x2="245.3" y2="81.94" stroke="#444" stroke-width="0.5"/>
<text x="246.8" y="83.74" font-size="5.9">HCO<tspan baseline-shift="-0.83" font-size="3.78">3</tspan><tspan baseline-shift="2.01" font-size="3.66">-</tspan></text>
<line x1="243.5" y1="91.33" x2="245.3" y2="91.33" stroke="#444" stroke-width="0.5"/>
<text x="246.8" y="93.13" font-size="5.9">NO<tspan baseline-shift="-0.83" font-size="3.78">3</tspan><tspan baseline-shift="2.01" font-size="3.66">-</tspan></text>
<line x1="243.5" y1="100.72" x2="245.3" y2="100.72" stroke="#444" stroke-width="0.5"/>
<text x="246.8" y="102.52" font-size="5.9">PO<tspan baseline-shift="-0.83" font-size="3.78">4</tspan><tspan baseline-shift="2.01" font-size="3.66">3-</tspan></text>
<line x1="243.5" y1="110.11" x2="245.3" y2="110.11" stroke="#444" stroke-width="0.5"/>
<text x="246.8" y="111.91" font-size="5.9">Cr(VI)</text>
<line x1="243.5" y1="119.50" x2="245.3" y2="119.50" stroke="#444" stroke-width="0.5"/>
<text x="246.8" y="121.30" font-size="5.9">Mn</text>
<line x1="243.5" y1="128.89" x2="245.3" y2="128.89" stroke="#444" stroke-width="0.5"/>
<text x="246.8" y="130.69" font-size="5.9">As</text>
<line x1="243.5" y1="138.28" x2="245.3" y2="138.28" stroke="#444" stroke-width="0.5"/>
<text x="246.8" y="140.08" font-size="5.9">Ni</text>
<line x1="243.5" y1="147.67" x2="245.3" y2="147.67" stroke="#444" stroke-width="0.5"/>
<text x="246.8" y="149.47" font-size="5.9">Cu</text>
<line x1="243.5" y1="157.06" x2="245.3" y2="157.06" stroke="#444" stroke-width="0.5"/>
<text x="246.8" y="158.86" font-size="5.9">Zn</text>
<line x1="243.5" y1="166.45" x2="245.3" y2="166.45" stroke="#444" stroke-width="0.5"/>
<text x="246.8" y="168.25" font-size="5.9">Pb</text>
<line x1="104.00" y1="19.2" x2="104.00" y2="20.4" stroke="#666" stroke-width="0.4"/>
<text transform="translate(103.60,18.8) rotate(45)" text-anchor="end" font-size="5.9">Na<tspan baseline-shift="2.01" font-size="3.66">+</tspan></text>
<line x1="113.00" y1="19.2" x2="113.00" y2="20.4" stroke="#666" stroke-width="0.4"/>
<text transform="translate(112.60,18.8) rotate(45)" text-anchor="end" font-size="5.9">K<tspan baseline-shift="2.01" font-size="3.66">+</tspan></text>
<line x1="122.00" y1="19.2" x2="122.00" y2="20.4" stroke="#666" stroke-width="0.4"/>
<text transform="translate(121.60,18.8) rotate(45)" text-anchor="end" font-size="5.9">Ca<tspan baseline-shift="2.01" font-size="3.66">2+</tspan></text>
<line x1="131.00" y1="19.2" x2="131.00" y2="20.4" stroke="#666" stroke-width="0.4"/>
<text transform="translate(130.60,18.8) rotate(45)" text-anchor="end" font-size="5.9">Mg<tspan baseline-shift="2.01" font-size="3.66">2+</tspan></text>
<line x1="140.00" y1="19.2" x2="140.00" y2="20.4" stroke="#666" stroke-width="0.4"/>
<text transform="translate(139.60,18.8) rotate(45)" text-anchor="end" font-size="5.9">Cl<tspan baseline-shift="2.01" font-size="3.66">−</tspan></text>
<line x1="149.00" y1="19.2" x2="149.00" y2="20.4" stroke="#666" stroke-width="0.4"/>
<text transform="translate(148.60,18.8) rotate(45)" text-anchor="end" font-size="5.9">SO<tspan baseline-shift="-0.83" font-size="3.78">4</tspan><tspan baseline-shift="2.01" font-size="3.66">2-</tspan></text>
<line x1="158.00" y1="19.2" x2="158.00" y2="20.4" stroke="#666" stroke-width="0.4"/>
<text transform="translate(157.60,18.8) rotate(45)" text-anchor="end" font-size="5.9">HCO<tspan baseline-shift="-0.83" font-size="3.78">3</tspan><tspan baseline-shift="2.01" font-size="3.66">-</tspan></text>
<line x1="167.00" y1="19.2" x2="167.00" y2="20.4" stroke="#666" stroke-width="0.4"/>
<text transform="translate(166.60,18.8) rotate(45)" text-anchor="end" font-size="5.9">NO<tspan baseline-shift="-0.83" font-size="3.78">3</tspan><tspan baseline-shift="2.01" font-size="3.66">-</tspan></text>
<line x1="176.00" y1="19.2" x2="176.00" y2="20.4" stroke="#666" stroke-width="0.4"/>
<text transform="translate(175.60,18.8) rotate(45)" text-anchor="end" font-size="5.9">PO<tspan baseline-shift="-0.83" font-size="3.78">4</tspan><tspan baseline-shift="2.01" font-size="3.66">3-</tspan></text>
<line x1="185.00" y1="19.2" x2="185.00" y2="20.4" stroke="#666" stroke-width="0.4"/>
<text transform="translate(184.60,18.8) rotate(45)" text-anchor="end" font-size="5.9">Cr(VI)</text>
<line x1="194.00" y1="19.2" x2="194.00" y2="20.4" stroke="#666" stroke-width="0.4"/>
<text transform="translate(193.60,18.8) rotate(45)" text-anchor="end" font-size="5.9">Mn</text>
<line x1="203.00" y1="19.2" x2="203.00" y2="20.4" stroke="#666" stroke-width="0.4"/>
<text transform="translate(202.60,18.8) rotate(45)" text-anchor="end" font-size="5.9">As</text>
<line x1="212.00" y1="19.2" x2="212.00" y2="20.4" stroke="#666" stroke-width="0.4"/>
<text transform="translate(211.60,18.8) rotate(45)" text-anchor="end" font-size="5.9">Ni</text>
<line x1="221.00" y1="19.2" x2="221.00" y2="20.4" stroke="#666" stroke-width="0.4"/>
<text transform="translate(220.60,18.8) rotate(45)" text-anchor="end" font-size="5.9">Cu</text>
<line x1="230.00" y1="19.2" x2="230.00" y2="20.4" stroke="#666" stroke-width="0.4"/>
<text transform="translate(229.60,18.8) rotate(45)" text-anchor="end" font-size="5.9">Zn</text>
<line x1="239.00" y1="19.2" x2="239.00" y2="20.4" stroke="#666" stroke-width="0.4"/>
<text transform="translate(238.60,18.8) rotate(45)" text-anchor="end" font-size="5.9">Pb</text>
<text x="28.7" y="32.4" text-anchor="middle" font-size="5.85">Factor 1</text>
<text x="28.7" y="38.6" text-anchor="middle" font-size="5.85">Water-rock interactions</text>
<text x="33.5" y="73.5" text-anchor="middle" font-size="5.85">Factor 2</text>
<text x="33.5" y="80.3" text-anchor="middle" font-size="5.85">Primary geology and</text>
<text x="33.5" y="86.9" text-anchor="middle" font-size="5.85">industrial activities</text>
<text x="38.4" y="106.4" text-anchor="middle" font-size="5.85">Factor 3</text>
<text x="38.4" y="113.2" text-anchor="middle" font-size="5.85">Agricultural fertilization</text>
<text x="38.4" y="120.0" text-anchor="middle" font-size="5.85">and industrial wastewater</text>
<text x="63.4" y="137.0" text-anchor="middle" font-size="5.85">Factor 4</text>
<text x="63.4" y="143.7" text-anchor="middle" font-size="5.85">Industrial sources</text>
<text x="76.0" y="160.5" text-anchor="middle" font-size="5.85">Factor 5</text>
<text x="76.0" y="167.3" text-anchor="middle" font-size="5.85">Primary agricultural-traffic</text>
<defs><linearGradient id="cb" x1="0" y1="0" x2="0" y2="1"><stop offset="0" stop-color="#f46a50"/><stop offset="0.5" stop-color="#ffffff"/><stop offset="1" stop-color="#68b4b0"/></linearGradient></defs>
<rect x="267.8" y="18.9" width="6.3" height="60.5" fill="url(#cb)" stroke="#555" stroke-width="0.5"/>
<line x1="274.1" y1="18.90" x2="275.3" y2="18.90" stroke="#555" stroke-width="0.4"/>
<text x="275.4" y="20.90" font-size="5.7">1.0</text>
<line x1="274.1" y1="34.02" x2="275.3" y2="34.02" stroke="#555" stroke-width="0.4"/>
<text x="275.4" y="36.02" font-size="5.7">0.5</text>
<line x1="274.1" y1="49.15" x2="275.3" y2="49.15" stroke="#555" stroke-width="0.4"/>
<text x="275.4" y="51.15" font-size="5.7">0</text>
<line x1="274.1" y1="64.28" x2="275.3" y2="64.28" stroke="#555" stroke-width="0.4"/>
<text x="275.4" y="66.28" font-size="5.7">-0.5</text>
<line x1="274.1" y1="79.40" x2="275.3" y2="79.40" stroke="#555" stroke-width="0.4"/>
<text x="275.4" y="81.40" font-size="5.7">-1.0</text>
<text transform="translate(290.6,15.3) rotate(90)" font-size="5.6">Spearman correlation coefficients</text>
<line x1="268.6" y1="97.0" x2="279.8" y2="97.0" stroke="#f38f66" stroke-width="1.1"/>
<text x="282.4" y="99.00" font-size="5.75">Factor 1</text>
<line x1="268.6" y1="106.1" x2="279.8" y2="106.1" stroke="#1a8c3c" stroke-width="1.1"/>
<text x="282.4" y="108.10" font-size="5.75">Factor 2</text>
<line x1="268.6" y1="115.3" x2="279.8" y2="115.3" stroke="#a35ef2" stroke-width="1.1"/>
<text x="282.4" y="117.30" font-size="5.75">Factor 3</text>
<line x1="268.6" y1="123.9" x2="279.8" y2="123.9" stroke="#e2de6a" stroke-width="1.1"/>
<text x="282.4" y="125.90" font-size="5.75">Factor 4</text>
<line x1="268.6" y1="133.5" x2="279.8" y2="133.5" stroke="#1f6fd2" stroke-width="1.1"/>
<text x="282.4" y="135.50" font-size="5.75">Factor 5</text>
<line x1="266.5" y1="151.4" x2="277.8" y2="151.4" stroke="#b4b4b4" stroke-width="1.2"/>
<text x="280.8" y="153.40" font-size="5.8">10% - 25%</text>
<line x1="266.5" y1="159.6" x2="277.8" y2="159.6" stroke="#5a5a5a" stroke-width="1.4"/>
<text x="280.8" y="161.60" font-size="5.8">25% - 50%</text>
<line x1="266.5" y1="167.3" x2="277.8" y2="167.3" stroke="#111111" stroke-width="1.8"/>
<text x="280.8" y="169.30" font-size="5.8">≥50%</text>
<rect x="341.5" y="41.4" width="301.0" height="93.9" fill="none" stroke="#333" stroke-width="0.8"/>
<rect x="345.14" y="90.85" width="17.8" height="44.45" fill="#fcc38f" stroke="#555" stroke-width="0.6"/>
<text x="354.04" y="89" text-anchor="middle" font-weight="bold" font-size="7.4">0.142</text>
<text x="354.04" y="85" text-anchor="middle" font-weight="bold" font-size="7.8">**</text>
<text x="354.04" y="144.6" text-anchor="middle" font-size="7.9">WD</text>
<rect x="370.23" y="130.61" width="17.8" height="4.69" fill="#fcc38f" stroke="#555" stroke-width="0.6"/>
<text x="379.12" y="129" text-anchor="middle" font-weight="bold" font-size="7.4">0.015</text>
<text x="379.12" y="125" text-anchor="middle" font-weight="bold" font-size="7.8">*</text>
<text x="379.12" y="144.6" text-anchor="middle" font-size="7.9">Eh</text>
<rect x="395.31" y="53.92" width="17.8" height="81.38" fill="#fcc38f" stroke="#555" stroke-width="0.6"/>
<text x="404.21" y="52" text-anchor="middle" font-weight="bold" font-size="7.4">0.260</text>
<text x="404.21" y="48" text-anchor="middle" font-weight="bold" font-size="7.8">**</text>
<text x="404.21" y="144.6" text-anchor="middle" font-size="7.9">pH</text>
<rect x="420.39" y="104.94" width="17.8" height="30.36" fill="#fcc38f" stroke="#555" stroke-width="0.6"/>
<text x="429.29" y="103" text-anchor="middle" font-weight="bold" font-size="7.4">0.097</text>
<text x="429.29" y="99" text-anchor="middle" font-weight="bold" font-size="7.8">**</text>
<text x="429.29" y="144.6" text-anchor="middle" font-size="7.9">LT</text>
<rect x="445.48" y="132.80" width="17.8" height="2.50" fill="#fcc38f" stroke="#555" stroke-width="0.6"/>
<text x="454.38" y="131" text-anchor="middle" font-weight="bold" font-size="7.4">0.008</text>
<text x="454.38" y="144.6" text-anchor="middle" font-size="7.9">SL</text>
<rect x="470.56" y="109.32" width="17.8" height="25.98" fill="#fcc38f" stroke="#555" stroke-width="0.6"/>
<text x="479.46" y="108" text-anchor="middle" font-weight="bold" font-size="7.4">0.083</text>
<text x="479.46" y="104" text-anchor="middle" font-weight="bold" font-size="7.8">**</text>
<text x="479.46" y="144.6" text-anchor="middle" font-size="7.9">ST</text>
<rect x="495.64" y="64.25" width="17.8" height="71.05" fill="#fcc38f" stroke="#555" stroke-width="0.6"/>
<text x="504.54" y="63" text-anchor="middle" font-weight="bold" font-size="7.4">0.227</text>
<text x="504.54" y="59" text-anchor="middle" font-weight="bold" font-size="7.8">**</text>
<text x="504.54" y="144.6" text-anchor="middle" font-size="7.9">MAP</text>
<rect x="520.73" y="122.78" width="17.8" height="12.52" fill="#9dd69a" stroke="#555" stroke-width="0.6"/>
<text x="529.62" y="121" text-anchor="middle" font-weight="bold" font-size="7.4">0.040</text>
<text x="529.62" y="117" text-anchor="middle" font-weight="bold" font-size="7.8">**</text>
<text x="529.62" y="144.6" text-anchor="middle" font-size="7.9">RD</text>
<rect x="545.81" y="113.70" width="17.8" height="21.60" fill="#9dd69a" stroke="#555" stroke-width="0.6"/>
<text x="554.71" y="112" text-anchor="middle" font-weight="bold" font-size="7.4">0.069</text>
<text x="554.71" y="108" text-anchor="middle" font-weight="bold" font-size="7.8">**</text>
<text x="554.71" y="144.6" text-anchor="middle" font-size="7.9">TFD</text>
<rect x="570.89" y="130.92" width="17.8" height="4.38" fill="#c9b3e3" stroke="#555" stroke-width="0.6"/>
<text x="579.79" y="129" text-anchor="middle" font-weight="bold" font-size="7.4">0.014</text>
<text x="579.79" y="144.6" text-anchor="middle" font-size="7.9">PED</text>
<rect x="595.98" y="130.29" width="17.8" height="5.01" fill="#f8f39a" stroke="#555" stroke-width="0.6"/>
<text x="604.88" y="129" text-anchor="middle" font-weight="bold" font-size="7.4">0.016</text>
<text x="604.88" y="144.6" text-anchor="middle" font-size="7.9">LU</text>
<rect x="621.06" y="125.28" width="17.8" height="10.02" fill="#86a9ef" stroke="#555" stroke-width="0.6"/>
<text x="629.96" y="124" text-anchor="middle" font-weight="bold" font-size="7.4">0.032</text>
<text x="629.96" y="120" text-anchor="middle" font-weight="bold" font-size="7.8">*</text>
<text x="629.96" y="144.6" text-anchor="middle" font-size="7.9">PD</text>
<path d="M341.5,135.3 V161.5 H642.5 V135.3 M341.5,148.4 H642.5" fill="none" stroke="#333" stroke-width="0.7"/>
<line x1="366.58" y1="135.3" x2="366.58" y2="148.4" stroke="#444" stroke-width="0.6"/>
<line x1="391.67" y1="135.3" x2="391.67" y2="148.4" stroke="#444" stroke-width="0.6"/>
<line x1="416.75" y1="135.3" x2="416.75" y2="148.4" stroke="#444" stroke-width="0.6"/>
<line x1="441.83" y1="135.3" x2="441.83" y2="148.4" stroke="#444" stroke-width="0.6"/>
<line x1="466.92" y1="135.3" x2="466.92" y2="148.4" stroke="#444" stroke-width="0.6"/>
<line x1="492.00" y1="135.3" x2="492.00" y2="148.4" stroke="#444" stroke-width="0.6"/>
<line x1="517.08" y1="135.3" x2="517.08" y2="148.4" stroke="#444" stroke-width="0.6"/>
<line x1="542.17" y1="135.3" x2="542.17" y2="148.4" stroke="#444" stroke-width="0.6"/>
<line x1="567.25" y1="135.3" x2="567.25" y2="148.4" stroke="#444" stroke-width="0.6"/>
<line x1="592.33" y1="135.3" x2="592.33" y2="148.4" stroke="#444" stroke-width="0.6"/>
<line x1="617.42" y1="135.3" x2="617.42" y2="148.4" stroke="#444" stroke-width="0.6"/>
<line x1="517.08" y1="148.4" x2="517.08" y2="161.5" stroke="#444" stroke-width="0.6"/>
<line x1="567.25" y1="148.4" x2="567.25" y2="161.5" stroke="#444" stroke-width="0.6"/>
<line x1="592.33" y1="148.4" x2="592.33" y2="161.5" stroke="#444" stroke-width="0.6"/>
<line x1="617.42" y1="148.4" x2="617.42" y2="161.5" stroke="#444" stroke-width="0.6"/>
<text x="429.29" y="157.7" text-anchor="middle" font-size="7.9">Natural factors</text>
<text x="542.17" y="157.7" text-anchor="middle" font-size="7.9">TF</text>
<text x="579.79" y="157.7" text-anchor="middle" font-size="7.9">IF</text>
<text x="604.88" y="157.7" text-anchor="middle" font-size="7.9">AF</text>
<text x="629.96" y="157.7" text-anchor="middle" font-size="7.9">HAI</text>
<line x1="339.3" y1="135.30" x2="341.5" y2="135.30" stroke="#333" stroke-width="0.7"/>
<text x="336.8" y="138.20" text-anchor="end" font-size="8.4">0.0</text>
<line x1="340.3" y1="119.65" x2="341.5" y2="119.65" stroke="#333" stroke-width="0.6"/>
<line x1="339.3" y1="104.00" x2="341.5" y2="104.00" stroke="#333" stroke-width="0.7"/>
<text x="336.8" y="106.90" text-anchor="end" font-size="8.4">0.1</text>
<line x1="340.3" y1="88.35" x2="341.5" y2="88.35" stroke="#333" stroke-width="0.6"/>
<line x1="339.3" y1="72.70" x2="341.5" y2="72.70" stroke="#333" stroke-width="0.7"/>
<text x="336.8" y="75.60" text-anchor="end" font-size="8.4">0.2</text>
<line x1="340.3" y1="57.05" x2="341.5" y2="57.05" stroke="#333" stroke-width="0.6"/>
<line x1="339.3" y1="41.40" x2="341.5" y2="41.40" stroke="#333" stroke-width="0.7"/>
<text x="336.8" y="44.30" text-anchor="end" font-size="8.4">0.3</text>
<text transform="translate(321.8,88.4) rotate(-90)" text-anchor="middle" font-weight="bold" font-size="10.5">q</text>
<defs>
<linearGradient id="gUnc" gradientUnits="userSpaceOnUse" x1="0" y1="350" x2="0" y2="402">
 <stop offset="0" stop-color="#ee6674"/><stop offset="0.4" stop-color="#f1886e"/><stop offset="0.8" stop-color="#f4b26a"/><stop offset="1" stop-color="#f6c46c"/>
</linearGradient>
<linearGradient id="gUncR" gradientUnits="userSpaceOnUse" x1="0" y1="372" x2="0" y2="422">
 <stop offset="0" stop-color="#f3a072"/><stop offset="0.38" stop-color="#f5bf6c"/><stop offset="0.75" stop-color="#f7d86e"/><stop offset="1" stop-color="#f7e476"/>
</linearGradient>
<linearGradient id="gUncMask" gradientUnits="userSpaceOnUse" x1="29" y1="0" x2="230" y2="0">
 <stop offset="0" stop-color="#fff" stop-opacity="1"/><stop offset="0.4" stop-color="#fff" stop-opacity="0.8"/><stop offset="1" stop-color="#fff" stop-opacity="0"/>
</linearGradient>
<mask id="mUnc"><rect x="0" y="300" width="685" height="170" fill="url(#gUncMask)"/></mask>
<linearGradient id="gCon" gradientUnits="userSpaceOnUse" x1="0" y1="400" x2="0" y2="462">
 <stop offset="0" stop-color="#f3aeae"/><stop offset="0.45" stop-color="#f6d4ae"/><stop offset="1" stop-color="#f6eda4"/>
</linearGradient>
<linearGradient id="gSideU" gradientUnits="userSpaceOnUse" x1="672" y1="282" x2="585" y2="410">
 <stop offset="0" stop-color="#ee6462"/><stop offset="0.45" stop-color="#f4a86c"/><stop offset="1" stop-color="#f7e07a"/>
</linearGradient>
<linearGradient id="gSideC" gradientUnits="userSpaceOnUse" x1="672" y1="322" x2="590" y2="455">
 <stop offset="0" stop-color="#f3aaa8"/><stop offset="0.5" stop-color="#f6d2a8"/><stop offset="1" stop-color="#f9eaa8"/>
</linearGradient>
<linearGradient id="gBowl" gradientUnits="userSpaceOnUse" x1="430" y1="0" x2="502" y2="0">
 <stop offset="0" stop-color="#6eaade"/><stop offset="0.5" stop-color="#8fc1ea"/><stop offset="1" stop-color="#b8dcf5"/>
</linearGradient>
<linearGradient id="gWheat" x1="0" y1="0" x2="0" y2="1"><stop offset="0" stop-color="#fbe199"/><stop offset="0.45" stop-color="#f4bd55"/><stop offset="1" stop-color="#de9328"/></linearGradient>
<linearGradient id="gArr" x1="0" y1="0" x2="0" y2="1">
 <stop offset="0" stop-color="#ffffff"/><stop offset="0.6" stop-color="#c4d6f4"/><stop offset="1" stop-color="#98b6ec"/>
</linearGradient>
</defs>
<rect x="29.4" y="395" width="550.3" height="67.8" fill="url(#gCon)"/>
<path d="M29.4,348 C60,352 100,357.5 140,363 C165,366.5 180,368 200,370.5 C230,373.5 260,376.5 290,378.2 C310,379.2 330,379.4 350,379 C380,378.5 400,377.3 420,375.5 C440,373.8 460,373 480,372.6 C520,372.2 550,373 579.7,374 L579.7,412.3 L450,431.4 C435,433.6 420,436.2 400,436.6 C375,436.8 355,435.6 335,433.6 C315,431.2 295,428 270,423.5 C230,416 180,406.5 145,403.5 C120,401.4 80,401.3 29.4,400.8 Z" fill="url(#gUncR)"/>
<path d="M29.4,348 C60,352 100,357.5 140,363 C165,366.5 180,368 200,370.5 C230,373.5 260,376.5 290,378.2 C310,379.2 330,379.4 350,379 C380,378.5 400,377.3 420,375.5 C440,373.8 460,373 480,372.6 C520,372.2 550,373 579.7,374 L579.7,412.3 L450,431.4 C435,433.6 420,436.2 400,436.6 C375,436.8 355,435.6 335,433.6 C315,431.2 295,428 270,423.5 C230,416 180,406.5 145,403.5 C120,401.4 80,401.3 29.4,400.8 Z" fill="url(#gUnc)" mask="url(#mUnc)"/>
<path d="M29.4,308.6 C45,308.8 58,309.5 70,312.5 C85,316.5 100,322.5 129,327.8 C150,331 165,333.5 185,334.8 C215,336.5 240,337.2 262,338.2 C285,339.5 300,341 315,342.8 C335,345 350,347.5 365,348.6 C385,350.5 398,353.5 410,357 C420,360 425,362 430,364.2 L502,364.2 C510,356.5 520,351 535,346.8 C550,343.5 565,342 579.7,341.4 L579.7,374 C550,373 520,372.2 480,372.6 C460,373 440,373.8 420,375.5 C400,377.3 380,378.5 350,379 C330,379.4 310,379.2 290,378.2 C260,376.5 230,373.5 200,370.5 C180,368 165,366.5 140,363 C100,357.5 60,352 29.4,348 Z" fill="#c9c9cb"/>
<path d="M29.4,348 C60,352 100,357.5 140,363 C165,366.5 180,368 200,370.5 C230,373.5 260,376.5 290,378.2 C310,379.2 330,379.4 350,379 C380,378.5 400,377.3 420,375.5 C440,373.8 460,373 480,372.6 C520,372.2 550,373 579.7,374" fill="none" stroke="#63b4e2" stroke-width="0.9"/>
<path d="M29.4,400.8 C80,401.3 120,401.4 145,403.5 C180,406.5 230,416 270,423.5 C295,428 315,431.2 335,433.6 C355,435.6 375,436.8 400,436.6 C420,436.2 435,433.6 450,431.4 L579.7,412.3" fill="none" stroke="#5a5a5a" stroke-width="0.7"/>
<path d="M430,364.2 L502,364.2 C492,369 482,374.5 474,375.6 L447.5,375.6 C440,372 435,368 430,364.2 Z" fill="url(#gBowl)"/>
<path d="M579.7,341.4 L675.5,248.4 L675.5,280 L579.7,375 Z" fill="#e5ddd8"/>
<path d="M579.7,375 L675.5,280 L675.5,318.5 L579.7,412.3 Z" fill="url(#gSideU)"/>
<path d="M579.7,412.3 L675.5,318.5 L675.5,363.4 L579.7,462.8 Z" fill="url(#gSideC)"/>
<path d="M579.7,341.4 L675.5,248.4 L675.5,363.4 L579.7,462.8 M579.7,375 L675.5,280 M579.7,412.3 L675.5,318.5" fill="none" stroke="#6a6a6a" stroke-width="0.6"/>
<path d="M29.4,308.7 L168,248.6 C190,250.3 220,251.9 250,252.9 C285,254.2 315,255.3 345,255.6 C380,255.6 410,255.3 440,256.2 C475,257.2 505,258.6 529,260.8 L597,261 C607,258 612,250 624,248.2 L675.5,248.4 L579.7,341.4 C565,342 550,343.5 535,346.8 C520,351 510,356.5 502,364.2 L430,364.2 C425,362 420,360 410,357 C398,353.5 385,350.5 365,348.6 C350,347.5 335,345 315,342.8 C300,341 285,339.5 262,338.2 C240,337.2 215,336.5 185,334.8 C165,333.5 150,331 129,327.8 C100,322.5 85,316.5 70,312.5 C58,309.5 45,308.8 29.4,308.6 Z" fill="#afd9a7"/>
<path d="M29.4,308.7 L168,248.6 C190,250.3 220,251.9 250,252.9 C285,254.2 315,255.3 345,255.6 C380,255.6 410,255.3 440,256.2 C475,257.2 505,258.6 529,260.8 L597,261 C607,258 612,250 624,248.2 L675.5,248.4" fill="none" stroke="#666" stroke-width="0.7"/>
<path d="M430,364.2 L502,364.2 L597,261 L529,260.8 Z" fill="#b3dcf4" stroke="#55606a" stroke-width="0.5"/>
<path d="M29.4,308.6 C45,308.8 58,309.5 70,312.5 C85,316.5 100,322.5 129,327.8 C150,331 165,333.5 185,334.8 C215,336.5 240,337.2 262,338.2 C285,339.5 300,341 315,342.8 C335,345 350,347.5 365,348.6 C385,350.5 398,353.5 410,357 C420,360 425,362 430,364.2" fill="none" stroke="#555" stroke-width="0.6"/>
<path d="M502,364.2 C510,356.5 520,351 535,346.8 C550,343.5 565,342 579.7,341.4" fill="none" stroke="#555" stroke-width="0.6"/>
<path d="M29.4,308.6 V462.8 H579.7 V341.4" fill="none" stroke="#7a7a7a" stroke-width="0.7"/>
<path d="M336.1,337.9 L336.1,324.2 L400.3,295.2 L400.3,299.8 L375.5,337.9 Z" fill="#555555"/>
<path d="M336.3,324.8 L399.8,296.2" stroke="#f4f4f4" stroke-width="0.9" fill="none"/>
<path d="M372.3,337.6 L399.6,299.4" stroke="#f4f4f4" stroke-width="1.1" fill="none"/>
<path d="M339.3,337 L399,297.2" stroke="#f4f4f4" stroke-width="1.1" stroke-dasharray="4.2 3.2" fill="none"/>
<circle cx="431" cy="219.5" r="2.2" fill="#c9c9c9"/>
<circle cx="434" cy="216.5" r="2.4" fill="#c9c9c9"/>
<circle cx="438.5" cy="214" r="2.2" fill="#c9c9c9"/>
<circle cx="443" cy="211.5" r="2.6" fill="#c9c9c9"/>
<circle cx="448" cy="208.5" r="3" fill="#c9c9c9"/>
<circle cx="452.5" cy="207" r="2.6" fill="#c9c9c9"/>
<circle cx="446.5" cy="213" r="2" fill="#c9c9c9"/>
<path d="M382.3,282 V259.8 H392.6 V282 M382.3,259.8 L392.6,271 L382.3,282 M392.6,259.8 L382.3,271 L392.6,282 M381.5,259.5 H397 V263.5" fill="none" stroke="#a0a0a0" stroke-width="0.6"/>
<rect x="380.6" y="283" width="4.6" height="8" fill="#b8b8b8"/>
<path d="M379.8,293.5 L381,291.2 H385 L386.2,293.5" fill="none" stroke="#c07050" stroke-width="0.7"/>
<rect x="418.4" y="258" width="43.6" height="31" fill="#9c9c9c"/>
<rect x="418.4" y="258" width="43.6" height="2.5" fill="#808080"/>
<rect x="420.5" y="262.5" width="3" height="3" fill="#2a2a2a"/>
<rect x="425.5" y="262.5" width="3" height="3" fill="#2a2a2a"/>
<rect x="430.5" y="262.5" width="3" height="3" fill="#2a2a2a"/>
<rect x="435.5" y="262.5" width="3" height="3" fill="#2a2a2a"/>
<rect x="440.5" y="262.5" width="3" height="3" fill="#2a2a2a"/>
<rect x="445.5" y="262.5" width="3" height="3" fill="#2a2a2a"/>
<rect x="450.5" y="262.5" width="3" height="3" fill="#2a2a2a"/>
<rect x="455.5" y="262.5" width="3" height="3" fill="#2a2a2a"/>
<rect x="420.5" y="268" width="3" height="3" fill="#2a2a2a"/>
<rect x="425.5" y="268" width="3" height="3" fill="#2a2a2a"/>
<rect x="430.5" y="268" width="3" height="3" fill="#2a2a2a"/>
<rect x="435.5" y="268" width="3" height="3" fill="#2a2a2a"/>
<rect x="440.5" y="268" width="3" height="3" fill="#2a2a2a"/>
<rect x="445.5" y="268" width="3" height="3" fill="#2a2a2a"/>
<rect x="450.5" y="268" width="3" height="3" fill="#2a2a2a"/>
<rect x="455.5" y="268" width="3" height="3" fill="#2a2a2a"/>
<rect x="420.5" y="273.5" width="3" height="3" fill="#2a2a2a"/>
<rect x="425.5" y="273.5" width="3" height="3" fill="#2a2a2a"/>
<rect x="430.5" y="273.5" width="3" height="3" fill="#2a2a2a"/>
<rect x="435.5" y="273.5" width="3" height="3" fill="#2a2a2a"/>
<rect x="440.5" y="273.5" width="3" height="3" fill="#2a2a2a"/>
<rect x="445.5" y="273.5" width="3" height="3" fill="#2a2a2a"/>
<rect x="450.5" y="273.5" width="3" height="3" fill="#2a2a2a"/>
<rect x="455.5" y="273.5" width="3" height="3" fill="#2a2a2a"/>
<rect x="420.5" y="279" width="3" height="3" fill="#2a2a2a"/>
<rect x="425.5" y="279" width="3" height="3" fill="#2a2a2a"/>
<rect x="430.5" y="279" width="3" height="3" fill="#2a2a2a"/>
<rect x="435.5" y="279" width="3" height="3" fill="#2a2a2a"/>
<rect x="440.5" y="279" width="3" height="3" fill="#2a2a2a"/>
<rect x="445.5" y="279" width="3" height="3" fill="#2a2a2a"/>
<rect x="450.5" y="279" width="3" height="3" fill="#2a2a2a"/>
<rect x="455.5" y="279" width="3" height="3" fill="#2a2a2a"/>
<rect x="443.2" y="283" width="28.3" height="12" fill="#bdbdbd"/>
<rect x="465" y="289" width="3" height="5" fill="#333"/>
<path d="M439.6,255 V239.6 M437.8,244 H441.4 M438.2,248 H441" stroke="#b0b0b0" stroke-width="0.8"/>
<circle cx="449.7" cy="252" r="3" fill="none" stroke="#e8a020" stroke-width="1.6" stroke-dasharray="1.2 0.7"/>
<circle cx="449.7" cy="252" r="1.2" fill="none" stroke="#e8a020" stroke-width="0.7"/>
<path d="M404.5,277.3 V246 C404.7,241.5 408,240.5 412,239 L412.8,240.8 C409.2,242.4 406.8,243.5 406.8,247 V277.3 Z" fill="#333"/>
<path d="M409,240.5 C412,237 416,236.5 418,237.5 C415,240 412,241 409,241.5 Z" fill="#6a6a6a"/>
<rect x="420" y="230" width="3.8" height="49" fill="#b82828"/>
<rect x="430.2" y="230" width="4" height="49" fill="#b82828"/>
<rect x="421.2" y="230" width="1" height="49" fill="#d85050"/>
<rect x="431.4" y="230" width="1" height="49" fill="#d85050"/>
<rect x="385.3" y="278.5" width="57.9" height="16.5" fill="#e8e8e8"/>
<rect x="384.5" y="278" width="59.5" height="3" fill="#c83030"/>
<rect x="387" y="282.5" width="3" height="6.5" fill="#1e1e1e"/>
<rect x="392" y="282.5" width="3" height="6.5" fill="#1e1e1e"/>
<rect x="397" y="282.5" width="3" height="6.5" fill="#1e1e1e"/>
<rect x="402" y="282.5" width="3" height="6.5" fill="#1e1e1e"/>
<rect x="407" y="282.5" width="3" height="6.5" fill="#1e1e1e"/>
<rect x="412" y="282.5" width="3" height="6.5" fill="#1e1e1e"/>
<rect x="417" y="282.5" width="3" height="6.5" fill="#1e1e1e"/>
<rect x="422" y="282.5" width="3" height="6.5" fill="#1e1e1e"/>
<rect x="427" y="282.5" width="3" height="6.5" fill="#1e1e1e"/>
<rect x="432" y="282.5" width="3" height="6.5" fill="#1e1e1e"/>
<rect x="437" y="282.5" width="3" height="6.5" fill="#1e1e1e"/>
<rect x="385.3" y="289.5" width="57.9" height="5.5" fill="#e3a71f"/>
<path d="M368,295.8 v-1.3 l1.6,-0.4 l1.3,-1.3 h2.6 l1.2,1.3 h1.3 v1.7 Z" fill="#e5a51c"/><rect x="370.6" y="293.3" width="2.6" height="0.9" fill="#555"/>
<path d="M156,322.5 C160,314 168,308 176,309 C184,310 188,316 190,322.5 Z" fill="#bcd28e"/>
<path d="M230,322.5 C235,306 245,300 258,302 L259,322.5 Z" fill="#c8c88c"/>
<rect x="126.6" y="295.8" width="7.2" height="26.7" fill="#a52420"/>
<rect x="129.5" y="298.5" width="10" height="24" fill="#d9442a"/>
<rect x="133" y="300" width="8" height="22.5" fill="#b8291f"/>
<rect x="131" y="305" width="5" height="16" fill="#f08a3c"/>
<rect x="141" y="304" width="13.5" height="18.5" fill="#c9a48a"/>
<rect x="142.5" y="306" width="1.6" height="1.8" fill="#e9d3c0"/>
<rect x="145.5" y="306" width="1.6" height="1.8" fill="#e9d3c0"/>
<rect x="148.5" y="306" width="1.6" height="1.8" fill="#e9d3c0"/>
<rect x="151.5" y="306" width="1.6" height="1.8" fill="#e9d3c0"/>
<rect x="142.5" y="309" width="1.6" height="1.8" fill="#e9d3c0"/>
<rect x="145.5" y="309" width="1.6" height="1.8" fill="#e9d3c0"/>
<rect x="148.5" y="309" width="1.6" height="1.8" fill="#e9d3c0"/>
<rect x="151.5" y="309" width="1.6" height="1.8" fill="#e9d3c0"/>
<rect x="142.5" y="312" width="1.6" height="1.8" fill="#e9d3c0"/>
<rect x="145.5" y="312" width="1.6" height="1.8" fill="#e9d3c0"/>
<rect x="148.5" y="312" width="1.6" height="1.8" fill="#e9d3c0"/>
<rect x="151.5" y="312" width="1.6" height="1.8" fill="#e9d3c0"/>
<rect x="142.5" y="315" width="1.6" height="1.8" fill="#e9d3c0"/>
<rect x="145.5" y="315" width="1.6" height="1.8" fill="#e9d3c0"/>
<rect x="148.5" y="315" width="1.6" height="1.8" fill="#e9d3c0"/>
<rect x="151.5" y="315" width="1.6" height="1.8" fill="#e9d3c0"/>
<rect x="142.5" y="318" width="1.6" height="1.8" fill="#e9d3c0"/>
<rect x="145.5" y="318" width="1.6" height="1.8" fill="#e9d3c0"/>
<rect x="148.5" y="318" width="1.6" height="1.8" fill="#e9d3c0"/>
<rect x="151.5" y="318" width="1.6" height="1.8" fill="#e9d3c0"/>
<rect x="149" y="297.3" width="6.8" height="25.2" fill="#f0843a"/>
<circle cx="160" cy="304" r="2.6" fill="#3d7a43"/><rect x="159.6" y="305" width="0.8" height="5" fill="#555"/>
<circle cx="154.5" cy="307.5" r="1.5" fill="#7ba843"/>
<path d="M168,307.5 l4,-3 l6,1.5 l0,3.5 l-10,0 Z" fill="#b84a4a"/><rect x="169" y="308" width="8" height="3" fill="#e7e0d0"/>
<path d="M163.8,322.5 V313.5 L168.5,309.5 L173,313 H177.4 V322.5 Z" fill="#3a8fd0"/>
<path d="M162.8,314 L168.5,309.2 L174,314" fill="none" stroke="#1e5f9a" stroke-width="0.8"/>
<rect x="165.5" y="316" width="1.6" height="2.2" fill="#dfeefa"/>
<rect x="170.5" y="316" width="1.6" height="2.2" fill="#dfeefa"/>
<rect x="174.5" y="316" width="1.6" height="2.2" fill="#dfeefa"/>
<rect x="177.4" y="312" width="13.6" height="10.5" fill="#d5d5d8"/>
<path d="M181,312 L184.5,306 L188,312 Z" fill="#c8c8cc"/>
<rect x="179" y="315" width="1.4" height="3" fill="#f2f2f4"/>
<rect x="182" y="315" width="1.4" height="3" fill="#f2f2f4"/>
<rect x="185" y="315" width="1.4" height="3" fill="#f2f2f4"/>
<rect x="188" y="315" width="1.4" height="3" fill="#f2f2f4"/>
<rect x="188.2" y="292" width="8.4" height="30.5" fill="#d9d9de"/>
<rect x="196.5" y="297" width="5.5" height="25.5" fill="#c7b7a8"/>
<rect x="192.2" y="300.6" width="8.2" height="21.9" fill="#2e9be0"/>
<line x1="193.3" y1="302" x2="199.3" y2="302" stroke="#9ed3f6" stroke-width="0.5" stroke-dasharray="1 0.6"/>
<line x1="193.3" y1="304" x2="199.3" y2="304" stroke="#9ed3f6" stroke-width="0.5" stroke-dasharray="1 0.6"/>
<line x1="193.3" y1="306" x2="199.3" y2="306" stroke="#9ed3f6" stroke-width="0.5" stroke-dasharray="1 0.6"/>
<line x1="193.3" y1="308" x2="199.3" y2="308" stroke="#9ed3f6" stroke-width="0.5" stroke-dasharray="1 0.6"/>
<line x1="193.3" y1="310" x2="199.3" y2="310" stroke="#9ed3f6" stroke-width="0.5" stroke-dasharray="1 0.6"/>
<line x1="193.3" y1="312" x2="199.3" y2="312" stroke="#9ed3f6" stroke-width="0.5" stroke-dasharray="1 0.6"/>
<line x1="193.3" y1="314" x2="199.3" y2="314" stroke="#9ed3f6" stroke-width="0.5" stroke-dasharray="1 0.6"/>
<line x1="193.3" y1="316" x2="199.3" y2="316" stroke="#9ed3f6" stroke-width="0.5" stroke-dasharray="1 0.6"/>
<line x1="193.3" y1="318" x2="199.3" y2="318" stroke="#9ed3f6" stroke-width="0.5" stroke-dasharray="1 0.6"/>
<rect x="208.7" y="307.5" width="13.2" height="15" fill="#e2b3c5"/>
<rect x="210" y="304" width="3" height="5" fill="#d8a5b8"/>
<rect x="197.7" y="316" width="18.6" height="6" rx="1" fill="#f06a2a"/>
<rect x="199" y="317.2" width="15.5" height="2" fill="#fde3d0"/>
<circle cx="211" cy="305" r="2.6" fill="#ffffff"/>
<circle cx="215" cy="303.5" r="3" fill="#ffffff"/>
<circle cx="218.5" cy="305.5" r="2.4" fill="#ffffff"/>
<circle cx="223" cy="292" r="4.2" fill="#ffffff"/>
<circle cx="229" cy="289" r="5" fill="#ffffff"/>
<circle cx="235" cy="291" r="4.4" fill="#ffffff"/>
<circle cx="238.5" cy="295" r="3" fill="#ffffff"/>
<circle cx="226" cy="296.5" r="3.5" fill="#ffffff"/>
<circle cx="232" cy="297" r="3.8" fill="#ffffff"/>
<rect x="235" y="299" width="6" height="14" fill="#3f8f4f"/>
<rect x="240.5" y="294" width="5" height="18" fill="#a82a28"/>
<rect x="244" y="301" width="9" height="6" fill="#e7e0b8"/>
<rect x="251" y="296" width="6" height="10" fill="#4aa257"/>
<circle cx="233" cy="312" r="2" fill="#3a7c3a"/><rect x="232.7" y="313" width="0.6" height="4" fill="#555"/>
<circle cx="238" cy="314" r="2" fill="#3a7c3a"/><rect x="237.7" y="315" width="0.6" height="4" fill="#555"/>
<circle cx="242" cy="315" r="2" fill="#3a7c3a"/><rect x="241.7" y="316" width="0.6" height="4" fill="#555"/>
<rect x="249" y="310" width="1.2" height="3" fill="#d03a2a"/>
<path d="M221,322.5 l2.5,-4 l2.5,4 Z" fill="#b86a5a"/>
<path d="M208.00,274.50 L209.99,262.84 L210.92,266.72 L213.58,261.22 L213.83,265.76 L215.73,261.79 L216.75,268.41 L219.05,262.61 L219.67,267.45 L222.25,263.93 L222.58,267.14 L225.08,261.22 L225.50,267.77 L227.45,261.10 L228.42,268.06 L231.27,263.97 L231.33,267.65 L233.81,263.70 L234.25,266.93 L236.66,261.33 L237.17,266.09 L239.75,262.47 L240.08,267.42 L242.38,262.30 L243.00,266.67 L243.00,274.50 Z" fill="url(#gWheat)"/>
<path d="M228.27,274.00 Q228.64,270.53 230.14,266.56" stroke="#f9d77a" stroke-width="0.7" fill="none"/>
<path d="M237.23,274.00 Q237.59,270.76 239.07,267.03" stroke="#fbe08e" stroke-width="0.7" fill="none"/>
<path d="M232.03,274.00 Q232.35,268.97 233.62,263.44" stroke="#f9d77a" stroke-width="0.7" fill="none"/>
<path d="M232.53,274.00 Q232.97,268.66 234.70,262.82" stroke="#c9801e" stroke-width="0.7" fill="none"/>
<path d="M218.43,274.00 Q218.87,268.26 220.63,262.02" stroke="#e39a2c" stroke-width="0.7" fill="none"/>
<path d="M211.96,274.00 Q212.23,270.25 213.28,266.00" stroke="#fbe08e" stroke-width="0.7" fill="none"/>
<path d="M209.71,274.00 Q209.98,269.24 211.04,263.98" stroke="#f9d77a" stroke-width="0.7" fill="none"/>
<path d="M210.50,274.00 Q210.62,269.75 211.09,264.99" stroke="#c9801e" stroke-width="0.7" fill="none"/>
<path d="M227.17,274.00 Q227.38,270.58 228.23,266.65" stroke="#fbe08e" stroke-width="0.7" fill="none"/>
<path d="M241.90,274.00 Q242.03,268.92 242.55,263.35" stroke="#f9d77a" stroke-width="0.7" fill="none"/>
<path d="M240.27,274.00 Q240.49,270.71 241.35,266.92" stroke="#c9801e" stroke-width="0.7" fill="none"/>
<path d="M214.19,274.00 Q214.64,268.20 216.42,261.90" stroke="#c9801e" stroke-width="0.7" fill="none"/>
<path d="M220.90,274.00 Q221.35,268.46 223.12,262.42" stroke="#e39a2c" stroke-width="0.7" fill="none"/>
<path d="M224.20,274.00 Q224.56,269.49 225.99,264.48" stroke="#f9d77a" stroke-width="0.7" fill="none"/>
<path d="M229.45,274.00 Q229.75,270.63 230.97,266.75" stroke="#e39a2c" stroke-width="0.7" fill="none"/>
<path d="M229.92,274.00 Q230.39,270.02 232.29,265.54" stroke="#e39a2c" stroke-width="0.7" fill="none"/>
<path d="M241.22,274.00 Q241.54,269.49 242.82,264.49" stroke="#f9d77a" stroke-width="0.7" fill="none"/>
<path d="M234.99,274.00 Q235.21,270.75 236.12,267.01" stroke="#e39a2c" stroke-width="0.7" fill="none"/>
<path d="M221.50,283.70 L223.06,271.81 L224.38,276.74 L226.31,272.72 L227.25,278.01 L229.55,272.18 L230.12,277.08 L232.30,271.82 L233.00,276.29 L235.31,273.96 L235.88,277.72 L238.15,273.41 L238.75,277.56 L241.55,271.76 L241.62,277.25 L243.45,272.04 L244.50,276.93 L247.03,274.14 L247.38,277.11 L250.37,273.25 L250.25,277.92 L252.39,272.76 L253.12,277.23 L254.49,272.43 L256.00,277.75 L256.00,283.70 Z" fill="url(#gWheat)"/>
<path d="M224.04,283.20 Q224.25,279.43 225.10,275.17" stroke="#e39a2c" stroke-width="0.7" fill="none"/>
<path d="M245.26,283.20 Q245.63,278.26 247.11,272.82" stroke="#f9d77a" stroke-width="0.7" fill="none"/>
<path d="M235.92,283.20 Q236.27,278.40 237.69,273.10" stroke="#c9801e" stroke-width="0.7" fill="none"/>
<path d="M228.49,283.20 Q228.83,278.97 230.17,274.24" stroke="#fbe08e" stroke-width="0.7" fill="none"/>
<path d="M251.86,283.20 Q251.99,278.15 252.49,272.60" stroke="#fbe08e" stroke-width="0.7" fill="none"/>
<path d="M231.53,283.20 Q231.98,279.33 233.76,274.95" stroke="#f9d77a" stroke-width="0.7" fill="none"/>
<path d="M233.27,283.20 Q233.56,278.34 234.69,272.98" stroke="#f9d77a" stroke-width="0.7" fill="none"/>
<path d="M234.12,283.20 Q234.60,278.11 236.54,272.51" stroke="#c9801e" stroke-width="0.7" fill="none"/>
<path d="M246.37,283.20 Q246.47,280.25 246.90,276.79" stroke="#c9801e" stroke-width="0.7" fill="none"/>
<path d="M232.97,283.20 Q233.33,278.28 234.77,272.86" stroke="#f9d77a" stroke-width="0.7" fill="none"/>
<path d="M232.05,283.20 Q232.33,278.37 233.44,273.04" stroke="#fbe08e" stroke-width="0.7" fill="none"/>
<path d="M230.64,283.20 Q230.81,279.37 231.46,275.03" stroke="#f9d77a" stroke-width="0.7" fill="none"/>
<path d="M234.32,283.20 Q234.56,279.01 235.55,274.33" stroke="#c9801e" stroke-width="0.7" fill="none"/>
<path d="M254.87,283.20 Q255.15,279.30 256.25,274.90" stroke="#fbe08e" stroke-width="0.7" fill="none"/>
<path d="M236.28,283.20 Q236.41,278.41 236.90,273.12" stroke="#f9d77a" stroke-width="0.7" fill="none"/>
<path d="M246.44,283.20 Q246.93,279.36 248.88,275.02" stroke="#f9d77a" stroke-width="0.7" fill="none"/>
<path d="M240.25,283.20 Q240.48,279.33 241.39,274.95" stroke="#f9d77a" stroke-width="0.7" fill="none"/>
<path d="M226.50,283.20 Q226.91,279.20 228.55,274.69" stroke="#e39a2c" stroke-width="0.7" fill="none"/>
<path d="M232.70,293.00 L235.36,282.98 L235.42,286.96 L237.79,283.54 L238.15,285.08 L240.45,282.70 L240.88,287.22 L243.02,281.46 L243.60,286.34 L245.50,281.37 L246.32,285.69 L248.43,281.19 L249.05,286.97 L251.64,281.09 L251.77,285.01 L253.87,281.36 L254.50,287.42 L256.52,283.66 L257.22,286.33 L259.40,283.59 L259.95,286.70 L262.23,281.62 L262.67,285.89 L264.46,280.90 L265.40,285.75 L265.40,293.00 Z" fill="url(#gWheat)"/>
<path d="M233.78,292.50 Q234.02,288.83 234.96,284.65" stroke="#c9801e" stroke-width="0.7" fill="none"/>
<path d="M244.60,292.50 Q244.98,287.91 246.50,282.82" stroke="#fbe08e" stroke-width="0.7" fill="none"/>
<path d="M248.47,292.50 Q248.60,288.89 249.09,284.78" stroke="#f9d77a" stroke-width="0.7" fill="none"/>
<path d="M262.86,292.50 Q263.12,288.04 264.17,283.07" stroke="#e39a2c" stroke-width="0.7" fill="none"/>
<path d="M244.94,292.50 Q245.04,288.58 245.45,284.16" stroke="#f9d77a" stroke-width="0.7" fill="none"/>
<path d="M255.44,292.50 Q255.92,288.69 257.84,284.38" stroke="#f9d77a" stroke-width="0.7" fill="none"/>
<path d="M256.91,292.50 Q257.39,289.44 259.29,285.89" stroke="#c9801e" stroke-width="0.7" fill="none"/>
<path d="M249.43,292.50 Q249.63,289.35 250.44,285.71" stroke="#e39a2c" stroke-width="0.7" fill="none"/>
<path d="M237.00,292.50 Q237.42,289.00 239.10,285.00" stroke="#c9801e" stroke-width="0.7" fill="none"/>
<path d="M234.81,292.50 Q234.94,289.48 235.49,285.97" stroke="#c9801e" stroke-width="0.7" fill="none"/>
<path d="M249.45,292.50 Q249.61,288.05 250.24,283.10" stroke="#c9801e" stroke-width="0.7" fill="none"/>
<path d="M262.09,292.50 Q262.31,288.50 263.21,284.00" stroke="#c9801e" stroke-width="0.7" fill="none"/>
<path d="M243.09,292.50 Q243.44,289.12 244.85,285.24" stroke="#c9801e" stroke-width="0.7" fill="none"/>
<path d="M264.32,292.50 Q264.44,287.55 264.92,282.11" stroke="#e39a2c" stroke-width="0.7" fill="none"/>
<path d="M234.66,292.50 Q234.90,288.98 235.85,284.96" stroke="#c9801e" stroke-width="0.7" fill="none"/>
<path d="M247.69,292.50 Q247.81,288.20 248.30,283.39" stroke="#f9d77a" stroke-width="0.7" fill="none"/>
<path d="M258.32,292.50 Q258.51,287.98 259.24,282.96" stroke="#fbe08e" stroke-width="0.7" fill="none"/>
<path d="M253.06,292.50 Q253.20,289.10 253.77,285.19" stroke="#e39a2c" stroke-width="0.7" fill="none"/>
<path d="M266.7,281.2 L272.5,277.6 L274.2,279.6 L270.5,284.2 Z" fill="#d01f1f"/>
<path d="M271.5,280.5 L280.8,274.6 L284.5,277.5" fill="none" stroke="#cc1c1c" stroke-width="1.5" stroke-linejoin="round"/>
<rect x="287.4" y="269.6" width="1.2" height="7.6" fill="#2a2a2a"/>
<path d="M279,277.2 H296.5 V286 H279 Z" fill="#c21a1a"/>
<rect x="280" y="278.6" width="5.8" height="4.8" fill="#b78a8e"/>
<rect x="278.2" y="283" width="1.4" height="2" fill="#888"/>
<path d="M294.5,269.8 H306 V283 H294.5 Z" fill="#a81616"/>
<rect x="295.6" y="270.1" width="9.6" height="6.9" fill="#e6e6e6"/>
<path d="M300.5,277 L302,272 L304.5,272.6 L305.2,277 Z" fill="#2a2a2a"/>
<rect x="293.8" y="268.2" width="12.6" height="1.8" fill="#cf2020"/>
<path d="M295.5,283.5 C296,277.5 308,277.5 310.8,285.5 L309,285.8 C306.5,280 298.5,280 297.5,284 Z" fill="#8e1010"/>
<circle cx="302.2" cy="285.8" r="6.6" fill="#161616"/><circle cx="302.2" cy="285.8" r="4.2" fill="#d41c1c"/><circle cx="302.2" cy="285.8" r="1.7" fill="#5a5a5a"/>
<circle cx="282.9" cy="289.2" r="3.8" fill="#161616"/><circle cx="282.9" cy="289.2" r="2.4" fill="#d41c1c"/><circle cx="282.9" cy="289.2" r="0.9" fill="#5a5a5a"/>
<path d="M94.50,305.50 L95.00,284.64 L96.40,284.64 L96.90,305.50 Z" fill="#4e4330"/>
<circle cx="105.48" cy="277.45" r="6.26" fill="#3c6a1d"/>
<circle cx="103.77" cy="282.65" r="6.13" fill="#3c6a1d"/>
<circle cx="101.46" cy="285.17" r="6.29" fill="#3c6a1d"/>
<circle cx="98.18" cy="286.92" r="6.19" fill="#3c6a1d"/>
<circle cx="92.08" cy="287.09" r="6.58" fill="#3c6a1d"/>
<circle cx="89.28" cy="285.89" r="5.90" fill="#3c6a1d"/>
<circle cx="85.91" cy="282.61" r="6.60" fill="#3c6a1d"/>
<circle cx="84.23" cy="276.99" r="5.55" fill="#3c6a1d"/>
<circle cx="86.04" cy="271.69" r="6.81" fill="#3c6a1d"/>
<circle cx="88.61" cy="269.05" r="6.33" fill="#3c6a1d"/>
<circle cx="91.43" cy="267.60" r="5.51" fill="#3c6a1d"/>
<circle cx="97.30" cy="267.33" r="5.57" fill="#3c6a1d"/>
<circle cx="100.68" cy="268.77" r="5.82" fill="#3c6a1d"/>
<circle cx="103.69" cy="271.73" r="6.12" fill="#3c6a1d"/>
<circle cx="110.70" cy="277.42" r="2.03" fill="#4a7a25"/>
<circle cx="109.25" cy="279.81" r="1.79" fill="#5a8c30"/>
<circle cx="108.08" cy="285.17" r="1.70" fill="#3f6d1f"/>
<circle cx="105.65" cy="286.80" r="1.48" fill="#3f6d1f"/>
<circle cx="102.53" cy="290.41" r="2.24" fill="#3f6d1f"/>
<circle cx="101.37" cy="289.81" r="1.76" fill="#5a8c30"/>
<circle cx="96.90" cy="291.93" r="2.17" fill="#4a7a25"/>
<circle cx="93.53" cy="290.95" r="1.79" fill="#3f6d1f"/>
<circle cx="90.39" cy="290.39" r="1.85" fill="#4a7a25"/>
<circle cx="86.95" cy="289.60" r="1.57" fill="#5a8c30"/>
<circle cx="83.00" cy="285.94" r="1.78" fill="#3f6d1f"/>
<circle cx="81.59" cy="285.44" r="1.98" fill="#3f6d1f"/>
<circle cx="80.44" cy="282.30" r="2.03" fill="#3f6d1f"/>
<circle cx="80.25" cy="278.99" r="1.38" fill="#5a8c30"/>
<circle cx="80.26" cy="274.60" r="1.46" fill="#5a8c30"/>
<circle cx="82.26" cy="270.23" r="2.01" fill="#3f6d1f"/>
<circle cx="84.42" cy="266.34" r="2.26" fill="#3f6d1f"/>
<circle cx="86.68" cy="265.18" r="2.00" fill="#5a8c30"/>
<circle cx="88.39" cy="262.94" r="1.57" fill="#4a7a25"/>
<circle cx="94.16" cy="262.44" r="1.48" fill="#3f6d1f"/>
<circle cx="96.68" cy="261.99" r="1.77" fill="#4a7a25"/>
<circle cx="101.24" cy="264.00" r="1.55" fill="#5a8c30"/>
<circle cx="104.27" cy="265.91" r="2.04" fill="#5a8c30"/>
<circle cx="106.22" cy="267.24" r="1.58" fill="#3f6d1f"/>
<circle cx="107.58" cy="269.58" r="1.42" fill="#4a7a25"/>
<circle cx="109.69" cy="273.72" r="1.74" fill="#4a7a25"/>
<ellipse cx="94.85" cy="277.60" rx="12.35" ry="12.67" fill="#4f8228"/>
<circle cx="107.5" cy="276.0" r="1.4" fill="#507f29"/>
<circle cx="82.0" cy="269.3" r="1.2" fill="#6c9f38"/>
<circle cx="97.1" cy="277.1" r="0.7" fill="#609232"/>
<circle cx="92.7" cy="283.1" r="1.1" fill="#365f1c"/>
<circle cx="93.6" cy="262.3" r="0.8" fill="#80b247"/>
<circle cx="103.8" cy="275.4" r="1.3" fill="#365f1c"/>
<circle cx="101.9" cy="270.0" r="1.1" fill="#6c9f38"/>
<circle cx="87.9" cy="270.5" r="0.8" fill="#80b247"/>
<circle cx="99.4" cy="280.6" r="1.2" fill="#365f1c"/>
<circle cx="84.5" cy="286.6" r="1.0" fill="#609232"/>
<circle cx="83.9" cy="274.6" r="1.1" fill="#609232"/>
<circle cx="87.3" cy="278.5" r="1.2" fill="#609232"/>
<circle cx="89.0" cy="268.1" r="0.9" fill="#6c9f38"/>
<circle cx="91.8" cy="271.0" r="1.2" fill="#609232"/>
<circle cx="80.9" cy="283.1" r="0.9" fill="#507f29"/>
<circle cx="85.4" cy="266.8" r="1.3" fill="#76a93f"/>
<circle cx="85.8" cy="285.8" r="0.8" fill="#3e6b20"/>
<circle cx="86.0" cy="290.0" r="1.4" fill="#3e6b20"/>
<circle cx="93.8" cy="284.2" r="1.3" fill="#609232"/>
<circle cx="99.6" cy="268.9" r="0.9" fill="#507f29"/>
<circle cx="103.2" cy="264.0" r="1.3" fill="#58892e"/>
<circle cx="92.7" cy="290.0" r="1.1" fill="#609232"/>
<circle cx="89.8" cy="291.0" r="1.0" fill="#3e6b20"/>
<circle cx="100.0" cy="290.8" r="1.3" fill="#3e6b20"/>
<circle cx="100.2" cy="277.0" r="1.2" fill="#477723"/>
<circle cx="100.3" cy="262.8" r="1.3" fill="#76a93f"/>
<circle cx="94.3" cy="291.3" r="1.2" fill="#507f29"/>
<circle cx="98.4" cy="285.2" r="1.4" fill="#477723"/>
<circle cx="79.1" cy="277.6" r="1.3" fill="#507f29"/>
<circle cx="107.9" cy="285.7" r="1.0" fill="#58892e"/>
<circle cx="99.7" cy="292.0" r="1.1" fill="#477723"/>
<circle cx="105.1" cy="267.7" r="0.9" fill="#6c9f38"/>
<circle cx="99.8" cy="277.0" r="1.3" fill="#80b247"/>
<circle cx="100.4" cy="283.2" r="1.4" fill="#3e6b20"/>
<circle cx="81.2" cy="274.3" r="1.3" fill="#507f29"/>
<circle cx="92.2" cy="281.4" r="1.0" fill="#507f29"/>
<circle cx="92.5" cy="292.9" r="1.0" fill="#3e6b20"/>
<circle cx="106.1" cy="280.2" r="1.0" fill="#58892e"/>
<circle cx="109.8" cy="277.6" r="1.2" fill="#507f29"/>
<circle cx="105.3" cy="273.8" r="1.2" fill="#76a93f"/>
<circle cx="83.9" cy="282.1" r="1.1" fill="#80b247"/>
<circle cx="80.5" cy="275.5" r="1.2" fill="#609232"/>
<circle cx="109.0" cy="273.4" r="1.3" fill="#609232"/>
<circle cx="106.0" cy="275.3" r="1.0" fill="#58892e"/>
<circle cx="95.7" cy="278.3" r="1.4" fill="#507f29"/>
<circle cx="84.9" cy="276.6" r="0.8" fill="#80b247"/>
<circle cx="100.2" cy="281.3" r="1.0" fill="#609232"/>
<circle cx="109.5" cy="273.4" r="1.0" fill="#609232"/>
<circle cx="86.9" cy="290.6" r="1.1" fill="#609232"/>
<circle cx="102.8" cy="284.2" r="0.8" fill="#365f1c"/>
<circle cx="95.3" cy="275.2" r="0.7" fill="#58892e"/>
<circle cx="92.0" cy="291.1" r="0.8" fill="#365f1c"/>
<circle cx="94.2" cy="272.0" r="1.2" fill="#609232"/>
<circle cx="90.4" cy="263.1" r="1.0" fill="#507f29"/>
<circle cx="88.7" cy="276.4" r="1.1" fill="#507f29"/>
<circle cx="96.3" cy="285.0" r="1.3" fill="#507f29"/>
<circle cx="96.3" cy="291.5" r="0.9" fill="#58892e"/>
<circle cx="88.8" cy="291.9" r="1.3" fill="#3e6b20"/>
<circle cx="100.0" cy="283.5" r="1.0" fill="#609232"/>
<circle cx="80.8" cy="283.9" r="0.8" fill="#507f29"/>
<circle cx="84.2" cy="285.3" r="1.1" fill="#3e6b20"/>
<circle cx="85.9" cy="289.0" r="1.1" fill="#477723"/>
<circle cx="95.4" cy="266.1" r="1.3" fill="#76a93f"/>
<circle cx="92.4" cy="277.9" r="1.1" fill="#507f29"/>
<circle cx="89.4" cy="275.0" r="0.8" fill="#58892e"/>
<circle cx="99.4" cy="284.8" r="0.7" fill="#507f29"/>
<circle cx="105.1" cy="274.3" r="1.0" fill="#609232"/>
<circle cx="86.4" cy="281.9" r="0.7" fill="#365f1c"/>
<circle cx="90.5" cy="263.4" r="1.0" fill="#609232"/>
<circle cx="84.5" cy="288.9" r="1.1" fill="#58892e"/>
<circle cx="109.7" cy="279.1" r="1.3" fill="#507f29"/>
<circle cx="107.7" cy="269.1" r="1.1" fill="#58892e"/>
<circle cx="108.9" cy="276.0" r="1.2" fill="#3e6b20"/>
<circle cx="97.3" cy="263.2" r="1.3" fill="#609232"/>
<circle cx="90.2" cy="264.3" r="0.8" fill="#6c9f38"/>
<circle cx="100.5" cy="290.9" r="0.7" fill="#3e6b20"/>
<circle cx="87.1" cy="287.8" r="0.9" fill="#58892e"/>
<circle cx="103.2" cy="275.5" r="1.1" fill="#365f1c"/>
<circle cx="85.2" cy="275.5" r="0.8" fill="#80b247"/>
<circle cx="102.1" cy="284.6" r="1.1" fill="#58892e"/>
<circle cx="94.3" cy="269.4" r="1.2" fill="#58892e"/>
<circle cx="93.9" cy="276.3" r="1.3" fill="#609232"/>
<circle cx="84.2" cy="274.0" r="1.3" fill="#80b247"/>
<circle cx="103.4" cy="283.9" r="1.1" fill="#507f29"/>
<circle cx="95.0" cy="274.2" r="1.0" fill="#76a93f"/>
<circle cx="109.2" cy="274.8" r="0.7" fill="#507f29"/>
<circle cx="104.5" cy="274.1" r="0.9" fill="#507f29"/>
<circle cx="84.1" cy="275.5" r="1.2" fill="#609232"/>
<circle cx="94.8" cy="274.9" r="0.7" fill="#80b247"/>
<circle cx="102.4" cy="289.3" r="1.2" fill="#365f1c"/>
<circle cx="109.8" cy="282.6" r="1.3" fill="#58892e"/>
<circle cx="97.1" cy="291.1" r="0.7" fill="#3e6b20"/>
<circle cx="106.4" cy="286.1" r="1.4" fill="#58892e"/>
<circle cx="99.8" cy="266.1" r="1.0" fill="#507f29"/>
<circle cx="105.7" cy="287.7" r="0.8" fill="#3e6b20"/>
<circle cx="82.8" cy="282.2" r="1.1" fill="#609232"/>
<circle cx="90.9" cy="268.7" r="1.4" fill="#76a93f"/>
<circle cx="94.1" cy="269.7" r="1.2" fill="#609232"/>
<circle cx="88.2" cy="270.7" r="1.2" fill="#507f29"/>
<circle cx="92.7" cy="270.9" r="0.8" fill="#58892e"/>
<circle cx="95.0" cy="293.6" r="0.7" fill="#507f29"/>
<circle cx="102.5" cy="280.7" r="0.7" fill="#507f29"/>
<circle cx="96.3" cy="286.0" r="0.8" fill="#507f29"/>
<circle cx="96.3" cy="293.6" r="0.8" fill="#365f1c"/>
<circle cx="87.3" cy="289.2" r="1.3" fill="#58892e"/>
<circle cx="81.3" cy="282.4" r="1.0" fill="#76a93f"/>
<circle cx="94.7" cy="267.5" r="1.2" fill="#58892e"/>
<circle cx="103.8" cy="277.0" r="1.3" fill="#507f29"/>
<circle cx="100.0" cy="289.6" r="1.3" fill="#365f1c"/>
<circle cx="98.9" cy="279.8" r="1.3" fill="#609232"/>
<circle cx="80.9" cy="280.9" r="0.8" fill="#365f1c"/>
<circle cx="92.5" cy="273.7" r="1.2" fill="#507f29"/>
<circle cx="87.9" cy="291.0" r="1.2" fill="#477723"/>
<circle cx="91.2" cy="281.7" r="1.1" fill="#507f29"/>
<circle cx="105.5" cy="269.9" r="1.3" fill="#507f29"/>
<circle cx="91.9" cy="286.2" r="1.3" fill="#477723"/>
<circle cx="95.0" cy="287.3" r="1.2" fill="#365f1c"/>
<circle cx="82.7" cy="270.3" r="1.3" fill="#6c9f38"/>
<circle cx="80.9" cy="273.9" r="0.8" fill="#76a93f"/>
<circle cx="80.9" cy="281.8" r="1.1" fill="#76a93f"/>
<circle cx="83.4" cy="274.3" r="1.3" fill="#80b247"/>
<circle cx="84.2" cy="283.4" r="0.8" fill="#507f29"/>
<circle cx="106.7" cy="284.4" r="0.7" fill="#58892e"/>
<circle cx="92.0" cy="273.4" r="0.9" fill="#6c9f38"/>
<circle cx="97.4" cy="291.5" r="1.0" fill="#365f1c"/>
<circle cx="86.7" cy="291.2" r="1.0" fill="#609232"/>
<circle cx="96.3" cy="273.5" r="1.0" fill="#58892e"/>
<circle cx="100.8" cy="265.9" r="1.3" fill="#6c9f38"/>
<circle cx="106.7" cy="267.4" r="1.0" fill="#80b247"/>
<circle cx="100.1" cy="277.9" r="0.9" fill="#76a93f"/>
<circle cx="101.4" cy="288.6" r="0.8" fill="#609232"/>
<circle cx="87.3" cy="281.6" r="1.0" fill="#76a93f"/>
<circle cx="93.8" cy="268.7" r="1.3" fill="#58892e"/>
<circle cx="94.9" cy="275.5" r="0.9" fill="#58892e"/>
<circle cx="97.9" cy="286.8" r="1.2" fill="#507f29"/>
<circle cx="88.7" cy="273.3" r="1.0" fill="#609232"/>
<circle cx="107.8" cy="269.3" r="1.0" fill="#507f29"/>
<circle cx="93.9" cy="292.8" r="1.2" fill="#609232"/>
<circle cx="95.5" cy="272.7" r="0.7" fill="#6c9f38"/>
<circle cx="108.2" cy="272.9" r="1.3" fill="#507f29"/>
<circle cx="97.0" cy="263.4" r="1.3" fill="#58892e"/>
<circle cx="105.4" cy="266.6" r="1.2" fill="#58892e"/>
<circle cx="89.9" cy="273.6" r="0.8" fill="#609232"/>
<circle cx="106.7" cy="269.6" r="1.4" fill="#507f29"/>
<circle cx="93.7" cy="289.4" r="0.7" fill="#3e6b20"/>
<circle cx="101.1" cy="264.2" r="0.9" fill="#76a93f"/>
<circle cx="86.2" cy="269.8" r="1.0" fill="#80b247"/>
<circle cx="106.5" cy="274.2" r="0.7" fill="#6c9f38"/>
<circle cx="97.5" cy="284.2" r="0.8" fill="#609232"/>
<circle cx="83.8" cy="274.4" r="0.9" fill="#609232"/>
<circle cx="85.1" cy="284.4" r="1.2" fill="#80b247"/>
<circle cx="86.5" cy="288.0" r="1.2" fill="#365f1c"/>
<circle cx="94.6" cy="263.3" r="0.7" fill="#609232"/>
<circle cx="85.3" cy="287.1" r="0.8" fill="#477723"/>
<circle cx="96.8" cy="262.8" r="0.8" fill="#80b247"/>
<circle cx="88.5" cy="271.8" r="1.2" fill="#507f29"/>
<circle cx="108.0" cy="273.6" r="0.9" fill="#58892e"/>
<circle cx="99.0" cy="290.8" r="1.1" fill="#365f1c"/>
<circle cx="93.4" cy="268.4" r="0.8" fill="#76a93f"/>
<circle cx="90.7" cy="273.5" r="0.8" fill="#58892e"/>
<circle cx="83.1" cy="286.1" r="0.8" fill="#58892e"/>
<circle cx="110.2" cy="280.8" r="0.9" fill="#3e6b20"/>
<circle cx="101.6" cy="263.6" r="1.2" fill="#58892e"/>
<circle cx="99.1" cy="268.5" r="1.1" fill="#609232"/>
<circle cx="93.1" cy="265.1" r="1.2" fill="#58892e"/>
<circle cx="93.2" cy="276.2" r="0.9" fill="#609232"/>
<circle cx="83.9" cy="282.0" r="1.3" fill="#365f1c"/>
<circle cx="100.5" cy="266.3" r="1.3" fill="#507f29"/>
<circle cx="85.9" cy="274.7" r="1.1" fill="#58892e"/>
<circle cx="99.7" cy="292.4" r="1.3" fill="#507f29"/>
<path d="M123.40,297.00 L123.90,276.70 L125.30,276.70 L125.80,297.00 Z" fill="#4e4330"/>
<circle cx="134.85" cy="269.42" r="6.22" fill="#3c6a1d"/>
<circle cx="133.59" cy="273.95" r="5.53" fill="#3c6a1d"/>
<circle cx="132.07" cy="276.15" r="5.84" fill="#3c6a1d"/>
<circle cx="127.48" cy="279.12" r="6.43" fill="#3c6a1d"/>
<circle cx="121.62" cy="279.15" r="6.15" fill="#3c6a1d"/>
<circle cx="117.90" cy="277.10" r="6.23" fill="#3c6a1d"/>
<circle cx="115.70" cy="274.47" r="5.93" fill="#3c6a1d"/>
<circle cx="114.20" cy="269.87" r="6.55" fill="#3c6a1d"/>
<circle cx="114.66" cy="266.14" r="6.44" fill="#3c6a1d"/>
<circle cx="117.07" cy="261.98" r="6.26" fill="#3c6a1d"/>
<circle cx="121.71" cy="259.10" r="5.88" fill="#3c6a1d"/>
<circle cx="127.83" cy="259.27" r="5.37" fill="#3c6a1d"/>
<circle cx="129.84" cy="260.24" r="6.57" fill="#3c6a1d"/>
<circle cx="133.84" cy="264.84" r="5.47" fill="#3c6a1d"/>
<circle cx="140.03" cy="270.96" r="1.76" fill="#3f6d1f"/>
<circle cx="139.52" cy="273.39" r="2.31" fill="#3f6d1f"/>
<circle cx="137.59" cy="275.49" r="1.94" fill="#5a8c30"/>
<circle cx="135.41" cy="278.89" r="1.37" fill="#5a8c30"/>
<circle cx="133.61" cy="280.92" r="1.60" fill="#4a7a25"/>
<circle cx="128.69" cy="283.10" r="1.59" fill="#4a7a25"/>
<circle cx="126.70" cy="284.46" r="1.84" fill="#3f6d1f"/>
<circle cx="123.00" cy="283.17" r="1.36" fill="#5a8c30"/>
<circle cx="119.50" cy="283.60" r="1.44" fill="#5a8c30"/>
<circle cx="117.12" cy="281.44" r="1.77" fill="#4a7a25"/>
<circle cx="113.52" cy="278.61" r="1.80" fill="#3f6d1f"/>
<circle cx="111.63" cy="276.31" r="2.19" fill="#3f6d1f"/>
<circle cx="110.35" cy="271.96" r="1.70" fill="#3f6d1f"/>
<circle cx="110.13" cy="268.66" r="2.29" fill="#4a7a25"/>
<circle cx="109.39" cy="266.73" r="1.58" fill="#3f6d1f"/>
<circle cx="111.37" cy="260.91" r="1.36" fill="#4a7a25"/>
<circle cx="113.96" cy="258.54" r="1.45" fill="#5a8c30"/>
<circle cx="116.07" cy="256.82" r="2.02" fill="#4a7a25"/>
<circle cx="120.50" cy="254.83" r="2.21" fill="#4a7a25"/>
<circle cx="122.11" cy="253.78" r="1.78" fill="#3f6d1f"/>
<circle cx="126.99" cy="254.90" r="1.34" fill="#3f6d1f"/>
<circle cx="128.92" cy="254.63" r="1.58" fill="#4a7a25"/>
<circle cx="132.46" cy="256.46" r="2.06" fill="#4a7a25"/>
<circle cx="136.02" cy="259.64" r="2.24" fill="#3f6d1f"/>
<circle cx="137.54" cy="262.55" r="2.07" fill="#5a8c30"/>
<circle cx="138.96" cy="264.92" r="1.37" fill="#3f6d1f"/>
<ellipse cx="124.50" cy="269.50" rx="12.02" ry="12.96" fill="#4f8228"/>
<circle cx="136.2" cy="260.0" r="1.3" fill="#609232"/>
<circle cx="122.9" cy="262.5" r="1.2" fill="#507f29"/>
<circle cx="112.5" cy="270.2" r="1.2" fill="#507f29"/>
<circle cx="118.5" cy="274.6" r="0.8" fill="#609232"/>
<circle cx="118.2" cy="281.4" r="1.2" fill="#609232"/>
<circle cx="125.3" cy="256.1" r="0.8" fill="#6c9f38"/>
<circle cx="127.6" cy="282.1" r="1.2" fill="#3e6b20"/>
<circle cx="120.4" cy="276.3" r="0.7" fill="#3e6b20"/>
<circle cx="119.3" cy="276.2" r="0.9" fill="#365f1c"/>
<circle cx="118.6" cy="268.8" r="0.8" fill="#6c9f38"/>
<circle cx="112.8" cy="272.3" r="1.0" fill="#76a93f"/>
<circle cx="125.3" cy="265.9" r="1.1" fill="#6c9f38"/>
<circle cx="125.2" cy="259.1" r="0.7" fill="#80b247"/>
<circle cx="133.6" cy="277.2" r="0.7" fill="#477723"/>
<circle cx="126.8" cy="254.0" r="0.8" fill="#76a93f"/>
<circle cx="126.2" cy="281.6" r="1.0" fill="#3e6b20"/>
<circle cx="118.0" cy="277.4" r="1.0" fill="#609232"/>
<circle cx="134.7" cy="258.3" r="0.9" fill="#58892e"/>
<circle cx="136.7" cy="272.2" r="1.0" fill="#609232"/>
<circle cx="118.7" cy="263.8" r="1.0" fill="#609232"/>
<circle cx="137.4" cy="264.0" r="1.3" fill="#3e6b20"/>
<circle cx="130.6" cy="274.9" r="1.3" fill="#507f29"/>
<circle cx="128.5" cy="260.6" r="1.2" fill="#6c9f38"/>
<circle cx="129.9" cy="262.3" r="1.3" fill="#80b247"/>
<circle cx="132.9" cy="270.9" r="0.8" fill="#3e6b20"/>
<circle cx="129.0" cy="283.6" r="1.2" fill="#58892e"/>
<circle cx="122.3" cy="268.8" r="1.2" fill="#6c9f38"/>
<circle cx="114.5" cy="267.0" r="0.8" fill="#507f29"/>
<circle cx="116.1" cy="276.7" r="1.1" fill="#365f1c"/>
<circle cx="116.9" cy="276.4" r="1.3" fill="#507f29"/>
<circle cx="130.5" cy="270.3" r="1.2" fill="#609232"/>
<circle cx="136.7" cy="265.8" r="1.4" fill="#609232"/>
<circle cx="121.6" cy="272.6" r="0.7" fill="#6c9f38"/>
<circle cx="128.0" cy="272.5" r="1.4" fill="#3e6b20"/>
<circle cx="137.0" cy="272.2" r="1.4" fill="#507f29"/>
<circle cx="124.2" cy="253.4" r="1.1" fill="#58892e"/>
<circle cx="128.5" cy="257.1" r="1.0" fill="#609232"/>
<circle cx="116.2" cy="267.0" r="1.2" fill="#58892e"/>
<circle cx="122.6" cy="272.9" r="1.4" fill="#507f29"/>
<circle cx="119.1" cy="276.4" r="0.8" fill="#80b247"/>
<circle cx="123.3" cy="276.7" r="1.2" fill="#365f1c"/>
<circle cx="130.6" cy="256.7" r="1.2" fill="#609232"/>
<circle cx="134.7" cy="259.4" r="1.1" fill="#507f29"/>
<circle cx="121.7" cy="266.6" r="1.1" fill="#609232"/>
<circle cx="132.4" cy="278.2" r="0.9" fill="#507f29"/>
<circle cx="116.0" cy="283.2" r="1.1" fill="#477723"/>
<circle cx="129.8" cy="280.3" r="0.9" fill="#507f29"/>
<circle cx="119.7" cy="278.2" r="1.4" fill="#609232"/>
<circle cx="121.2" cy="266.9" r="1.4" fill="#58892e"/>
<circle cx="115.7" cy="260.6" r="0.9" fill="#76a93f"/>
<circle cx="118.3" cy="281.2" r="0.9" fill="#477723"/>
<circle cx="110.8" cy="266.0" r="0.8" fill="#609232"/>
<circle cx="119.9" cy="270.0" r="0.9" fill="#609232"/>
<circle cx="136.1" cy="275.1" r="1.1" fill="#365f1c"/>
<circle cx="116.8" cy="259.8" r="1.0" fill="#6c9f38"/>
<circle cx="133.4" cy="265.5" r="0.9" fill="#609232"/>
<circle cx="130.1" cy="265.3" r="1.0" fill="#507f29"/>
<circle cx="117.5" cy="257.7" r="0.9" fill="#6c9f38"/>
<circle cx="123.7" cy="271.9" r="1.0" fill="#6c9f38"/>
<circle cx="138.8" cy="266.3" r="1.0" fill="#477723"/>
<circle cx="121.4" cy="277.3" r="0.8" fill="#58892e"/>
<circle cx="113.8" cy="273.0" r="0.8" fill="#58892e"/>
<circle cx="129.2" cy="260.6" r="0.8" fill="#507f29"/>
<circle cx="129.5" cy="283.7" r="1.3" fill="#477723"/>
<circle cx="134.7" cy="264.5" r="0.8" fill="#58892e"/>
<circle cx="128.2" cy="284.2" r="0.9" fill="#3e6b20"/>
<circle cx="110.2" cy="266.2" r="1.1" fill="#507f29"/>
<circle cx="135.8" cy="266.7" r="1.0" fill="#76a93f"/>
<circle cx="135.2" cy="271.1" r="0.8" fill="#365f1c"/>
<circle cx="110.5" cy="265.0" r="1.0" fill="#507f29"/>
<circle cx="135.4" cy="270.1" r="0.7" fill="#58892e"/>
<circle cx="127.7" cy="258.0" r="0.9" fill="#6c9f38"/>
<circle cx="113.0" cy="277.6" r="0.8" fill="#507f29"/>
<circle cx="123.1" cy="266.3" r="1.2" fill="#609232"/>
<circle cx="117.4" cy="280.5" r="1.4" fill="#58892e"/>
<circle cx="132.1" cy="279.4" r="1.1" fill="#477723"/>
<circle cx="130.7" cy="283.0" r="1.3" fill="#58892e"/>
<circle cx="130.3" cy="270.3" r="1.2" fill="#609232"/>
<circle cx="124.6" cy="254.5" r="1.0" fill="#6c9f38"/>
<circle cx="125.1" cy="262.0" r="0.9" fill="#80b247"/>
<circle cx="121.3" cy="282.0" r="0.9" fill="#365f1c"/>
<circle cx="114.2" cy="264.6" r="1.3" fill="#507f29"/>
<circle cx="120.2" cy="284.2" r="1.3" fill="#3e6b20"/>
<circle cx="125.3" cy="281.7" r="1.3" fill="#58892e"/>
<circle cx="137.3" cy="278.0" r="1.0" fill="#507f29"/>
<circle cx="129.8" cy="257.1" r="1.0" fill="#76a93f"/>
<circle cx="131.8" cy="264.6" r="1.2" fill="#365f1c"/>
<circle cx="117.6" cy="270.4" r="1.3" fill="#58892e"/>
<circle cx="119.2" cy="259.3" r="1.1" fill="#76a93f"/>
<circle cx="119.6" cy="259.5" r="0.9" fill="#80b247"/>
<circle cx="129.8" cy="284.3" r="0.8" fill="#477723"/>
<circle cx="114.4" cy="271.5" r="1.2" fill="#3e6b20"/>
<circle cx="126.3" cy="277.7" r="1.4" fill="#365f1c"/>
<circle cx="120.1" cy="258.6" r="1.3" fill="#609232"/>
<circle cx="131.4" cy="282.8" r="1.2" fill="#3e6b20"/>
<circle cx="131.5" cy="279.1" r="1.1" fill="#365f1c"/>
<circle cx="122.8" cy="266.6" r="1.2" fill="#609232"/>
<circle cx="133.9" cy="281.7" r="1.1" fill="#609232"/>
<circle cx="120.5" cy="257.9" r="1.3" fill="#609232"/>
<circle cx="138.8" cy="266.6" r="0.9" fill="#507f29"/>
<circle cx="129.5" cy="263.0" r="1.1" fill="#3e6b20"/>
<circle cx="134.3" cy="263.3" r="1.0" fill="#58892e"/>
<circle cx="138.0" cy="273.4" r="1.1" fill="#3e6b20"/>
<circle cx="125.8" cy="257.2" r="1.3" fill="#80b247"/>
<circle cx="137.6" cy="270.2" r="1.1" fill="#365f1c"/>
<circle cx="135.0" cy="276.6" r="1.3" fill="#507f29"/>
<circle cx="110.8" cy="268.5" r="1.3" fill="#58892e"/>
<circle cx="133.3" cy="271.0" r="0.8" fill="#76a93f"/>
<circle cx="137.9" cy="270.4" r="1.2" fill="#365f1c"/>
<circle cx="133.6" cy="278.6" r="1.3" fill="#477723"/>
<circle cx="135.1" cy="277.4" r="1.0" fill="#609232"/>
<circle cx="122.8" cy="279.3" r="0.9" fill="#365f1c"/>
<circle cx="119.7" cy="254.8" r="1.0" fill="#609232"/>
<circle cx="129.0" cy="269.6" r="1.0" fill="#3e6b20"/>
<circle cx="113.2" cy="269.6" r="1.3" fill="#6c9f38"/>
<circle cx="125.4" cy="259.3" r="1.1" fill="#58892e"/>
<circle cx="132.0" cy="283.8" r="0.9" fill="#609232"/>
<circle cx="120.6" cy="283.0" r="0.9" fill="#3e6b20"/>
<circle cx="117.8" cy="275.3" r="1.3" fill="#58892e"/>
<circle cx="127.8" cy="259.4" r="1.4" fill="#609232"/>
<circle cx="134.9" cy="269.9" r="0.9" fill="#609232"/>
<circle cx="133.3" cy="270.7" r="0.7" fill="#3e6b20"/>
<circle cx="134.3" cy="281.5" r="1.3" fill="#507f29"/>
<circle cx="124.0" cy="261.6" r="1.2" fill="#507f29"/>
<circle cx="123.9" cy="267.2" r="1.0" fill="#58892e"/>
<circle cx="129.3" cy="279.1" r="1.3" fill="#3e6b20"/>
<circle cx="111.4" cy="263.9" r="0.8" fill="#507f29"/>
<circle cx="114.5" cy="269.7" r="0.9" fill="#58892e"/>
<circle cx="125.0" cy="253.6" r="0.7" fill="#58892e"/>
<circle cx="123.2" cy="255.1" r="0.8" fill="#6c9f38"/>
<circle cx="115.8" cy="274.5" r="0.7" fill="#3e6b20"/>
<circle cx="137.1" cy="268.1" r="1.0" fill="#76a93f"/>
<circle cx="118.2" cy="261.2" r="1.2" fill="#6c9f38"/>
<circle cx="110.4" cy="271.2" r="1.0" fill="#507f29"/>
<circle cx="129.1" cy="274.9" r="1.2" fill="#365f1c"/>
<circle cx="118.2" cy="281.8" r="0.9" fill="#365f1c"/>
<circle cx="113.3" cy="261.3" r="1.3" fill="#58892e"/>
<circle cx="135.2" cy="271.1" r="1.0" fill="#507f29"/>
<circle cx="126.5" cy="282.1" r="0.8" fill="#365f1c"/>
<circle cx="136.8" cy="261.1" r="1.0" fill="#80b247"/>
<circle cx="118.4" cy="255.0" r="1.4" fill="#76a93f"/>
<circle cx="110.6" cy="265.7" r="0.9" fill="#507f29"/>
<circle cx="122.0" cy="257.4" r="1.4" fill="#80b247"/>
<circle cx="120.9" cy="271.2" r="1.1" fill="#58892e"/>
<circle cx="120.5" cy="254.7" r="0.7" fill="#80b247"/>
<circle cx="125.5" cy="257.5" r="1.3" fill="#76a93f"/>
<circle cx="131.3" cy="276.7" r="1.1" fill="#58892e"/>
<circle cx="132.8" cy="256.3" r="0.7" fill="#609232"/>
<circle cx="129.2" cy="267.8" r="1.1" fill="#507f29"/>
<circle cx="119.7" cy="274.5" r="0.9" fill="#609232"/>
<circle cx="130.7" cy="266.0" r="1.3" fill="#609232"/>
<circle cx="131.2" cy="268.3" r="1.1" fill="#3e6b20"/>
<circle cx="134.3" cy="276.3" r="1.0" fill="#365f1c"/>
<circle cx="112.6" cy="269.1" r="1.2" fill="#507f29"/>
<circle cx="131.3" cy="272.2" r="1.0" fill="#365f1c"/>
<circle cx="118.6" cy="256.1" r="0.9" fill="#58892e"/>
<circle cx="112.4" cy="269.4" r="0.7" fill="#76a93f"/>
<circle cx="122.4" cy="271.0" r="0.9" fill="#6c9f38"/>
<circle cx="125.4" cy="270.8" r="1.0" fill="#80b247"/>
<circle cx="116.0" cy="262.7" r="1.1" fill="#76a93f"/>
<circle cx="132.6" cy="270.1" r="1.0" fill="#507f29"/>
<circle cx="131.6" cy="278.2" r="1.3" fill="#507f29"/>
<circle cx="129.4" cy="268.7" r="1.2" fill="#609232"/>
<circle cx="130.8" cy="265.6" r="1.0" fill="#80b247"/>
<circle cx="125.6" cy="255.9" r="1.0" fill="#609232"/>
<circle cx="136.7" cy="263.2" r="1.2" fill="#80b247"/>
<circle cx="130.3" cy="269.0" r="0.7" fill="#58892e"/>
<circle cx="126.7" cy="275.3" r="0.8" fill="#609232"/>
<circle cx="127.5" cy="265.1" r="0.9" fill="#58892e"/>
<circle cx="112.0" cy="271.2" r="1.4" fill="#609232"/>
<path d="M149.80,285.00 L150.30,263.48 L151.70,263.48 L152.20,285.00 Z" fill="#4e4330"/>
<circle cx="162.46" cy="255.85" r="6.13" fill="#3c6a1d"/>
<circle cx="161.23" cy="260.90" r="6.34" fill="#3c6a1d"/>
<circle cx="159.39" cy="263.34" r="5.53" fill="#3c6a1d"/>
<circle cx="155.64" cy="265.67" r="5.53" fill="#3c6a1d"/>
<circle cx="149.41" cy="265.79" r="5.40" fill="#3c6a1d"/>
<circle cx="145.96" cy="263.92" r="5.51" fill="#3c6a1d"/>
<circle cx="143.50" cy="260.95" r="5.80" fill="#3c6a1d"/>
<circle cx="142.26" cy="255.56" r="6.03" fill="#3c6a1d"/>
<circle cx="142.68" cy="253.52" r="5.59" fill="#3c6a1d"/>
<circle cx="145.23" cy="249.26" r="6.37" fill="#3c6a1d"/>
<circle cx="151.02" cy="246.37" r="6.29" fill="#3c6a1d"/>
<circle cx="155.56" cy="246.81" r="6.21" fill="#3c6a1d"/>
<circle cx="159.68" cy="249.47" r="6.27" fill="#3c6a1d"/>
<circle cx="161.14" cy="251.46" r="6.34" fill="#3c6a1d"/>
<circle cx="167.32" cy="256.56" r="1.73" fill="#4a7a25"/>
<circle cx="166.38" cy="260.35" r="1.65" fill="#5a8c30"/>
<circle cx="165.49" cy="263.47" r="1.85" fill="#5a8c30"/>
<circle cx="162.19" cy="266.82" r="1.83" fill="#4a7a25"/>
<circle cx="161.34" cy="267.02" r="1.76" fill="#5a8c30"/>
<circle cx="158.35" cy="269.43" r="1.85" fill="#5a8c30"/>
<circle cx="154.78" cy="270.08" r="1.38" fill="#5a8c30"/>
<circle cx="150.23" cy="269.52" r="1.72" fill="#3f6d1f"/>
<circle cx="147.95" cy="270.16" r="1.74" fill="#4a7a25"/>
<circle cx="144.99" cy="268.98" r="2.18" fill="#4a7a25"/>
<circle cx="141.64" cy="265.99" r="2.01" fill="#3f6d1f"/>
<circle cx="138.66" cy="261.26" r="1.79" fill="#5a8c30"/>
<circle cx="138.29" cy="260.20" r="1.88" fill="#5a8c30"/>
<circle cx="138.14" cy="257.06" r="1.98" fill="#3f6d1f"/>
<circle cx="139.06" cy="251.91" r="1.89" fill="#5a8c30"/>
<circle cx="139.07" cy="248.85" r="1.94" fill="#5a8c30"/>
<circle cx="139.89" cy="248.22" r="1.60" fill="#4a7a25"/>
<circle cx="144.06" cy="243.55" r="1.82" fill="#3f6d1f"/>
<circle cx="145.99" cy="243.21" r="2.26" fill="#5a8c30"/>
<circle cx="151.56" cy="242.16" r="2.09" fill="#4a7a25"/>
<circle cx="154.19" cy="241.34" r="1.56" fill="#5a8c30"/>
<circle cx="158.19" cy="243.10" r="1.54" fill="#3f6d1f"/>
<circle cx="160.77" cy="244.25" r="1.73" fill="#4a7a25"/>
<circle cx="162.55" cy="246.15" r="1.90" fill="#3f6d1f"/>
<circle cx="165.15" cy="250.09" r="2.28" fill="#4a7a25"/>
<circle cx="166.02" cy="252.57" r="1.44" fill="#3f6d1f"/>
<ellipse cx="152.35" cy="256.60" rx="11.77" ry="12.38" fill="#4f8228"/>
<circle cx="162.8" cy="265.9" r="1.1" fill="#365f1c"/>
<circle cx="150.1" cy="265.6" r="1.0" fill="#365f1c"/>
<circle cx="163.0" cy="245.6" r="0.9" fill="#507f29"/>
<circle cx="155.6" cy="255.9" r="1.2" fill="#477723"/>
<circle cx="164.0" cy="248.0" r="0.8" fill="#80b247"/>
<circle cx="143.3" cy="257.9" r="0.7" fill="#58892e"/>
<circle cx="153.4" cy="271.0" r="0.8" fill="#365f1c"/>
<circle cx="149.6" cy="258.9" r="0.8" fill="#58892e"/>
<circle cx="159.5" cy="265.4" r="1.0" fill="#507f29"/>
<circle cx="158.9" cy="266.0" r="0.7" fill="#365f1c"/>
<circle cx="164.9" cy="259.2" r="0.9" fill="#477723"/>
<circle cx="159.7" cy="261.5" r="1.1" fill="#58892e"/>
<circle cx="158.7" cy="245.0" r="0.8" fill="#58892e"/>
<circle cx="147.0" cy="271.3" r="0.8" fill="#365f1c"/>
<circle cx="157.2" cy="263.6" r="0.9" fill="#507f29"/>
<circle cx="145.2" cy="269.9" r="1.0" fill="#365f1c"/>
<circle cx="165.5" cy="256.0" r="0.8" fill="#609232"/>
<circle cx="139.4" cy="249.3" r="1.2" fill="#6c9f38"/>
<circle cx="153.6" cy="254.2" r="1.3" fill="#6c9f38"/>
<circle cx="154.4" cy="261.2" r="0.8" fill="#609232"/>
<circle cx="161.7" cy="249.8" r="0.9" fill="#76a93f"/>
<circle cx="152.0" cy="243.9" r="0.7" fill="#507f29"/>
<circle cx="156.0" cy="252.0" r="1.2" fill="#76a93f"/>
<circle cx="151.2" cy="246.3" r="1.0" fill="#76a93f"/>
<circle cx="146.6" cy="251.7" r="1.1" fill="#58892e"/>
<circle cx="163.5" cy="247.1" r="0.7" fill="#80b247"/>
<circle cx="149.3" cy="246.8" r="0.7" fill="#80b247"/>
<circle cx="148.4" cy="261.1" r="1.3" fill="#609232"/>
<circle cx="147.0" cy="244.4" r="0.8" fill="#80b247"/>
<circle cx="151.1" cy="251.1" r="0.7" fill="#58892e"/>
<circle cx="145.0" cy="247.0" r="1.3" fill="#6c9f38"/>
<circle cx="142.4" cy="266.3" r="1.1" fill="#507f29"/>
<circle cx="165.1" cy="262.6" r="0.9" fill="#609232"/>
<circle cx="145.6" cy="243.2" r="1.1" fill="#6c9f38"/>
<circle cx="153.8" cy="241.4" r="1.4" fill="#58892e"/>
<circle cx="143.2" cy="259.9" r="0.7" fill="#507f29"/>
<circle cx="152.3" cy="257.5" r="1.3" fill="#609232"/>
<circle cx="142.7" cy="254.6" r="0.8" fill="#58892e"/>
<circle cx="156.8" cy="255.8" r="1.4" fill="#3e6b20"/>
<circle cx="141.1" cy="252.4" r="0.8" fill="#58892e"/>
<circle cx="153.8" cy="260.0" r="1.2" fill="#58892e"/>
<circle cx="149.1" cy="243.8" r="0.8" fill="#80b247"/>
<circle cx="163.5" cy="260.8" r="1.2" fill="#507f29"/>
<circle cx="152.3" cy="251.8" r="1.0" fill="#6c9f38"/>
<circle cx="152.6" cy="265.0" r="1.0" fill="#507f29"/>
<circle cx="149.7" cy="270.0" r="0.8" fill="#477723"/>
<circle cx="157.3" cy="258.2" r="1.3" fill="#58892e"/>
<circle cx="153.9" cy="265.2" r="1.1" fill="#365f1c"/>
<circle cx="166.0" cy="260.9" r="1.2" fill="#58892e"/>
<circle cx="153.3" cy="265.7" r="1.2" fill="#3e6b20"/>
<circle cx="139.8" cy="257.4" r="1.0" fill="#6c9f38"/>
<circle cx="147.4" cy="259.4" r="0.8" fill="#477723"/>
<circle cx="146.7" cy="265.1" r="1.0" fill="#609232"/>
<circle cx="152.5" cy="242.9" r="0.8" fill="#507f29"/>
<circle cx="157.1" cy="265.6" r="1.0" fill="#477723"/>
<circle cx="159.2" cy="263.7" r="1.1" fill="#3e6b20"/>
<circle cx="150.8" cy="258.2" r="1.3" fill="#609232"/>
<circle cx="148.9" cy="259.2" r="1.3" fill="#3e6b20"/>
<circle cx="143.0" cy="250.0" r="0.8" fill="#6c9f38"/>
<circle cx="158.8" cy="247.5" r="1.3" fill="#58892e"/>
<circle cx="141.9" cy="252.4" r="1.4" fill="#58892e"/>
<circle cx="159.9" cy="258.9" r="0.8" fill="#609232"/>
<circle cx="160.3" cy="251.1" r="1.2" fill="#609232"/>
<circle cx="142.1" cy="261.6" r="0.9" fill="#365f1c"/>
<circle cx="148.9" cy="250.7" r="0.7" fill="#76a93f"/>
<circle cx="149.2" cy="246.6" r="1.0" fill="#80b247"/>
<circle cx="161.6" cy="250.9" r="0.8" fill="#6c9f38"/>
<circle cx="163.7" cy="254.3" r="1.1" fill="#507f29"/>
<circle cx="148.7" cy="256.4" r="0.8" fill="#80b247"/>
<circle cx="151.9" cy="254.0" r="1.3" fill="#507f29"/>
<circle cx="149.6" cy="257.2" r="0.9" fill="#76a93f"/>
<circle cx="155.8" cy="245.7" r="1.3" fill="#58892e"/>
<circle cx="152.0" cy="254.6" r="0.8" fill="#609232"/>
<circle cx="145.8" cy="257.6" r="1.1" fill="#76a93f"/>
<circle cx="152.4" cy="267.4" r="1.1" fill="#477723"/>
<circle cx="142.8" cy="265.2" r="1.2" fill="#3e6b20"/>
<circle cx="147.3" cy="261.4" r="1.2" fill="#6c9f38"/>
<circle cx="158.0" cy="256.4" r="1.2" fill="#507f29"/>
<circle cx="162.6" cy="246.9" r="1.2" fill="#507f29"/>
<circle cx="148.6" cy="254.7" r="1.3" fill="#80b247"/>
<circle cx="144.5" cy="262.6" r="1.0" fill="#609232"/>
<circle cx="152.4" cy="251.4" r="1.2" fill="#58892e"/>
<circle cx="154.6" cy="250.2" r="1.4" fill="#365f1c"/>
<circle cx="141.5" cy="252.1" r="1.1" fill="#80b247"/>
<circle cx="165.6" cy="256.6" r="0.9" fill="#609232"/>
<circle cx="154.4" cy="256.4" r="0.8" fill="#58892e"/>
<circle cx="159.6" cy="249.3" r="0.8" fill="#3e6b20"/>
<circle cx="144.5" cy="265.9" r="1.2" fill="#58892e"/>
<circle cx="141.0" cy="257.7" r="1.0" fill="#58892e"/>
<circle cx="149.3" cy="241.5" r="1.4" fill="#507f29"/>
<circle cx="160.8" cy="261.4" r="1.1" fill="#3e6b20"/>
<circle cx="158.0" cy="254.7" r="1.0" fill="#58892e"/>
<circle cx="149.6" cy="267.4" r="1.0" fill="#507f29"/>
<circle cx="154.5" cy="263.2" r="0.9" fill="#609232"/>
<circle cx="161.3" cy="261.6" r="1.2" fill="#3e6b20"/>
<circle cx="148.8" cy="258.5" r="1.1" fill="#58892e"/>
<circle cx="142.3" cy="248.7" r="1.4" fill="#609232"/>
<circle cx="158.4" cy="257.4" r="1.2" fill="#609232"/>
<circle cx="151.9" cy="246.2" r="1.2" fill="#76a93f"/>
<circle cx="144.3" cy="261.1" r="1.2" fill="#365f1c"/>
<circle cx="148.9" cy="249.6" r="1.0" fill="#80b247"/>
<circle cx="160.7" cy="257.9" r="0.9" fill="#3e6b20"/>
<circle cx="143.5" cy="268.3" r="1.1" fill="#507f29"/>
<circle cx="165.2" cy="257.6" r="1.4" fill="#365f1c"/>
<circle cx="164.1" cy="262.0" r="1.0" fill="#3e6b20"/>
<circle cx="141.7" cy="265.4" r="0.7" fill="#365f1c"/>
<circle cx="141.6" cy="262.5" r="1.0" fill="#76a93f"/>
<circle cx="152.5" cy="260.7" r="0.8" fill="#3e6b20"/>
<circle cx="162.6" cy="263.5" r="1.1" fill="#3e6b20"/>
<circle cx="150.6" cy="260.6" r="1.0" fill="#609232"/>
<circle cx="144.0" cy="261.3" r="1.1" fill="#609232"/>
<circle cx="151.4" cy="270.6" r="0.7" fill="#477723"/>
<circle cx="160.8" cy="268.1" r="1.1" fill="#477723"/>
<circle cx="146.0" cy="249.9" r="1.2" fill="#6c9f38"/>
<circle cx="147.8" cy="260.7" r="1.3" fill="#507f29"/>
<circle cx="157.7" cy="243.0" r="0.8" fill="#507f29"/>
<circle cx="146.5" cy="245.6" r="1.1" fill="#507f29"/>
<circle cx="155.5" cy="268.1" r="1.2" fill="#609232"/>
<circle cx="166.0" cy="257.3" r="1.3" fill="#609232"/>
<circle cx="161.3" cy="254.5" r="1.3" fill="#609232"/>
<circle cx="154.1" cy="242.4" r="1.2" fill="#58892e"/>
<circle cx="165.1" cy="253.8" r="1.3" fill="#6c9f38"/>
<circle cx="158.2" cy="249.3" r="1.1" fill="#58892e"/>
<circle cx="143.7" cy="258.7" r="1.4" fill="#58892e"/>
<circle cx="166.9" cy="253.3" r="0.7" fill="#58892e"/>
<circle cx="147.0" cy="260.0" r="1.4" fill="#477723"/>
<circle cx="160.8" cy="254.6" r="1.1" fill="#609232"/>
<circle cx="160.7" cy="264.9" r="1.0" fill="#58892e"/>
<circle cx="148.5" cy="271.0" r="0.8" fill="#609232"/>
<circle cx="163.7" cy="266.8" r="1.3" fill="#3e6b20"/>
<circle cx="151.2" cy="246.1" r="1.1" fill="#58892e"/>
<circle cx="160.0" cy="248.4" r="1.3" fill="#609232"/>
<circle cx="146.3" cy="263.0" r="0.8" fill="#58892e"/>
<circle cx="154.9" cy="266.6" r="0.9" fill="#609232"/>
<circle cx="147.2" cy="251.9" r="1.2" fill="#58892e"/>
<circle cx="140.5" cy="264.8" r="1.2" fill="#58892e"/>
<circle cx="145.4" cy="269.5" r="1.1" fill="#58892e"/>
<circle cx="155.4" cy="258.4" r="1.2" fill="#507f29"/>
<circle cx="155.2" cy="268.0" r="1.0" fill="#365f1c"/>
<circle cx="152.8" cy="258.3" r="1.3" fill="#76a93f"/>
<circle cx="144.2" cy="256.3" r="1.3" fill="#507f29"/>
<circle cx="146.3" cy="242.5" r="1.0" fill="#6c9f38"/>
<circle cx="162.7" cy="246.1" r="1.3" fill="#507f29"/>
<circle cx="146.7" cy="255.8" r="1.3" fill="#477723"/>
<circle cx="150.0" cy="255.9" r="0.9" fill="#58892e"/>
<circle cx="144.5" cy="247.3" r="0.9" fill="#58892e"/>
<circle cx="153.7" cy="265.5" r="0.8" fill="#3e6b20"/>
<circle cx="137.9" cy="253.4" r="1.4" fill="#6c9f38"/>
<circle cx="144.9" cy="258.1" r="1.2" fill="#477723"/>
<circle cx="159.3" cy="260.2" r="1.2" fill="#609232"/>
<circle cx="148.2" cy="241.9" r="0.7" fill="#507f29"/>
<circle cx="145.0" cy="251.8" r="0.9" fill="#58892e"/>
<circle cx="152.1" cy="266.8" r="0.9" fill="#58892e"/>
<circle cx="157.4" cy="266.0" r="0.8" fill="#609232"/>
<circle cx="148.5" cy="252.1" r="0.9" fill="#507f29"/>
<circle cx="161.4" cy="263.7" r="1.0" fill="#507f29"/>
<circle cx="146.4" cy="266.7" r="1.1" fill="#3e6b20"/>
<circle cx="152.0" cy="245.4" r="1.1" fill="#609232"/>
<circle cx="155.7" cy="257.4" r="0.9" fill="#58892e"/>
<circle cx="154.3" cy="259.8" r="1.2" fill="#609232"/>
<circle cx="145.9" cy="243.6" r="1.1" fill="#6c9f38"/>
<circle cx="150.6" cy="249.5" r="1.2" fill="#80b247"/>
<circle cx="155.1" cy="254.8" r="1.4" fill="#609232"/>
<circle cx="150.3" cy="243.0" r="0.9" fill="#507f29"/>
<circle cx="150.6" cy="253.2" r="1.2" fill="#507f29"/>
<circle cx="151.6" cy="261.9" r="1.2" fill="#609232"/>
<circle cx="144.3" cy="259.3" r="1.2" fill="#477723"/>
<circle cx="144.8" cy="245.4" r="0.9" fill="#58892e"/>
<circle cx="144.7" cy="269.1" r="1.0" fill="#365f1c"/>
<circle cx="143.5" cy="266.1" r="0.8" fill="#507f29"/>
<path d="M625.80,284.70 L626.30,265.11 L627.70,265.11 L628.20,284.70 Z" fill="#4e4330"/>
<circle cx="636.62" cy="256.76" r="6.25" fill="#3c6a1d"/>
<circle cx="635.46" cy="262.24" r="5.97" fill="#3c6a1d"/>
<circle cx="633.45" cy="265.03" r="6.38" fill="#3c6a1d"/>
<circle cx="627.71" cy="267.92" r="6.01" fill="#3c6a1d"/>
<circle cx="624.04" cy="267.74" r="5.64" fill="#3c6a1d"/>
<circle cx="621.18" cy="266.55" r="5.82" fill="#3c6a1d"/>
<circle cx="616.94" cy="261.60" r="5.42" fill="#3c6a1d"/>
<circle cx="616.07" cy="256.89" r="5.64" fill="#3c6a1d"/>
<circle cx="616.72" cy="253.93" r="5.38" fill="#3c6a1d"/>
<circle cx="621.19" cy="248.42" r="6.31" fill="#3c6a1d"/>
<circle cx="625.20" cy="247.03" r="6.15" fill="#3c6a1d"/>
<circle cx="627.22" cy="247.00" r="5.77" fill="#3c6a1d"/>
<circle cx="632.78" cy="249.33" r="5.48" fill="#3c6a1d"/>
<circle cx="636.17" cy="254.49" r="5.82" fill="#3c6a1d"/>
<circle cx="641.66" cy="256.81" r="2.26" fill="#4a7a25"/>
<circle cx="641.32" cy="260.55" r="1.48" fill="#5a8c30"/>
<circle cx="640.61" cy="262.59" r="2.11" fill="#3f6d1f"/>
<circle cx="637.46" cy="267.83" r="2.28" fill="#5a8c30"/>
<circle cx="633.19" cy="270.67" r="1.89" fill="#4a7a25"/>
<circle cx="632.71" cy="271.81" r="1.74" fill="#4a7a25"/>
<circle cx="626.79" cy="272.21" r="1.82" fill="#4a7a25"/>
<circle cx="625.98" cy="272.94" r="2.32" fill="#4a7a25"/>
<circle cx="622.68" cy="272.18" r="1.85" fill="#5a8c30"/>
<circle cx="617.61" cy="269.74" r="1.51" fill="#3f6d1f"/>
<circle cx="614.59" cy="266.73" r="2.09" fill="#4a7a25"/>
<circle cx="614.07" cy="265.19" r="1.51" fill="#4a7a25"/>
<circle cx="611.76" cy="262.10" r="2.23" fill="#3f6d1f"/>
<circle cx="610.72" cy="258.16" r="1.92" fill="#4a7a25"/>
<circle cx="612.16" cy="254.21" r="2.21" fill="#3f6d1f"/>
<circle cx="613.40" cy="250.42" r="2.07" fill="#3f6d1f"/>
<circle cx="616.47" cy="246.92" r="1.62" fill="#4a7a25"/>
<circle cx="617.44" cy="244.79" r="1.98" fill="#3f6d1f"/>
<circle cx="622.35" cy="242.65" r="1.58" fill="#5a8c30"/>
<circle cx="624.60" cy="243.02" r="1.54" fill="#4a7a25"/>
<circle cx="629.11" cy="242.13" r="1.76" fill="#5a8c30"/>
<circle cx="632.69" cy="244.18" r="1.92" fill="#3f6d1f"/>
<circle cx="634.91" cy="245.09" r="2.29" fill="#3f6d1f"/>
<circle cx="636.76" cy="247.15" r="2.29" fill="#4a7a25"/>
<circle cx="638.99" cy="249.42" r="2.24" fill="#3f6d1f"/>
<circle cx="640.28" cy="253.16" r="1.97" fill="#3f6d1f"/>
<ellipse cx="626.35" cy="257.85" rx="11.99" ry="13.07" fill="#4f8228"/>
<circle cx="631.1" cy="260.4" r="1.1" fill="#365f1c"/>
<circle cx="621.5" cy="268.3" r="0.8" fill="#3e6b20"/>
<circle cx="630.7" cy="252.0" r="1.1" fill="#76a93f"/>
<circle cx="613.1" cy="257.4" r="1.0" fill="#3e6b20"/>
<circle cx="632.7" cy="249.9" r="0.9" fill="#507f29"/>
<circle cx="638.0" cy="254.9" r="1.0" fill="#58892e"/>
<circle cx="621.0" cy="272.6" r="1.3" fill="#477723"/>
<circle cx="614.8" cy="258.6" r="1.1" fill="#58892e"/>
<circle cx="624.9" cy="241.5" r="1.1" fill="#507f29"/>
<circle cx="626.7" cy="250.6" r="1.4" fill="#6c9f38"/>
<circle cx="621.0" cy="265.3" r="1.3" fill="#76a93f"/>
<circle cx="619.3" cy="247.1" r="1.1" fill="#6c9f38"/>
<circle cx="638.3" cy="253.4" r="1.1" fill="#609232"/>
<circle cx="618.9" cy="264.6" r="1.2" fill="#3e6b20"/>
<circle cx="634.1" cy="260.1" r="1.2" fill="#609232"/>
<circle cx="619.2" cy="260.1" r="0.9" fill="#609232"/>
<circle cx="637.0" cy="251.0" r="1.0" fill="#3e6b20"/>
<circle cx="623.4" cy="242.4" r="1.1" fill="#80b247"/>
<circle cx="616.8" cy="248.1" r="0.9" fill="#80b247"/>
<circle cx="615.6" cy="259.2" r="1.3" fill="#609232"/>
<circle cx="641.2" cy="254.1" r="0.8" fill="#365f1c"/>
<circle cx="635.6" cy="247.9" r="0.8" fill="#58892e"/>
<circle cx="621.5" cy="273.2" r="1.4" fill="#609232"/>
<circle cx="632.6" cy="257.5" r="0.9" fill="#507f29"/>
<circle cx="618.4" cy="247.1" r="0.9" fill="#58892e"/>
<circle cx="626.0" cy="273.2" r="1.1" fill="#477723"/>
<circle cx="627.3" cy="271.7" r="1.4" fill="#58892e"/>
<circle cx="616.4" cy="260.1" r="1.2" fill="#609232"/>
<circle cx="620.4" cy="246.4" r="0.7" fill="#58892e"/>
<circle cx="631.8" cy="242.9" r="0.8" fill="#76a93f"/>
<circle cx="617.9" cy="252.8" r="0.9" fill="#609232"/>
<circle cx="637.6" cy="258.4" r="0.8" fill="#365f1c"/>
<circle cx="625.8" cy="258.5" r="1.3" fill="#477723"/>
<circle cx="631.2" cy="246.9" r="1.0" fill="#58892e"/>
<circle cx="632.0" cy="252.3" r="1.3" fill="#507f29"/>
<circle cx="627.9" cy="256.4" r="1.0" fill="#58892e"/>
<circle cx="633.9" cy="243.4" r="0.7" fill="#76a93f"/>
<circle cx="631.1" cy="245.9" r="1.2" fill="#6c9f38"/>
<circle cx="623.7" cy="252.0" r="0.9" fill="#609232"/>
<circle cx="616.3" cy="246.6" r="0.8" fill="#58892e"/>
<circle cx="637.7" cy="266.6" r="0.7" fill="#365f1c"/>
<circle cx="636.8" cy="260.6" r="1.0" fill="#507f29"/>
<circle cx="633.6" cy="259.5" r="1.0" fill="#609232"/>
<circle cx="621.6" cy="244.6" r="0.9" fill="#76a93f"/>
<circle cx="628.4" cy="269.5" r="1.1" fill="#507f29"/>
<circle cx="621.9" cy="252.8" r="1.0" fill="#6c9f38"/>
<circle cx="633.0" cy="249.5" r="1.2" fill="#365f1c"/>
<circle cx="629.1" cy="272.3" r="1.1" fill="#507f29"/>
<circle cx="632.9" cy="263.9" r="1.4" fill="#365f1c"/>
<circle cx="626.8" cy="256.1" r="0.9" fill="#507f29"/>
<circle cx="635.6" cy="259.5" r="1.4" fill="#58892e"/>
<circle cx="612.3" cy="254.3" r="1.1" fill="#507f29"/>
<circle cx="628.5" cy="243.7" r="1.3" fill="#6c9f38"/>
<circle cx="627.1" cy="270.8" r="1.3" fill="#477723"/>
<circle cx="622.8" cy="262.5" r="1.4" fill="#365f1c"/>
<circle cx="626.8" cy="241.3" r="0.8" fill="#80b247"/>
<circle cx="636.3" cy="252.6" r="0.9" fill="#80b247"/>
<circle cx="633.0" cy="269.4" r="1.2" fill="#609232"/>
<circle cx="626.5" cy="244.4" r="1.3" fill="#609232"/>
<circle cx="628.2" cy="269.2" r="0.8" fill="#365f1c"/>
<circle cx="628.5" cy="248.5" r="1.2" fill="#609232"/>
<circle cx="624.5" cy="241.3" r="0.7" fill="#6c9f38"/>
<circle cx="628.8" cy="242.5" r="0.8" fill="#609232"/>
<circle cx="628.2" cy="272.0" r="1.2" fill="#609232"/>
<circle cx="640.8" cy="260.6" r="1.0" fill="#365f1c"/>
<circle cx="617.0" cy="266.3" r="0.7" fill="#507f29"/>
<circle cx="626.1" cy="263.2" r="1.2" fill="#507f29"/>
<circle cx="630.3" cy="242.3" r="1.3" fill="#609232"/>
<circle cx="633.9" cy="262.2" r="1.2" fill="#58892e"/>
<circle cx="630.9" cy="255.7" r="0.9" fill="#507f29"/>
<circle cx="629.2" cy="269.2" r="0.7" fill="#58892e"/>
<circle cx="638.3" cy="248.5" r="0.8" fill="#58892e"/>
<circle cx="628.7" cy="261.0" r="0.7" fill="#609232"/>
<circle cx="626.8" cy="244.9" r="0.9" fill="#80b247"/>
<circle cx="623.3" cy="246.7" r="1.0" fill="#80b247"/>
<circle cx="618.3" cy="247.8" r="1.0" fill="#609232"/>
<circle cx="614.8" cy="262.5" r="0.9" fill="#507f29"/>
<circle cx="626.9" cy="255.6" r="1.3" fill="#609232"/>
<circle cx="628.6" cy="242.2" r="1.0" fill="#6c9f38"/>
<circle cx="633.3" cy="270.7" r="0.9" fill="#365f1c"/>
<circle cx="636.4" cy="255.4" r="1.1" fill="#3e6b20"/>
<circle cx="630.5" cy="251.4" r="1.2" fill="#507f29"/>
<circle cx="622.6" cy="253.6" r="1.2" fill="#507f29"/>
<circle cx="622.0" cy="256.7" r="1.1" fill="#507f29"/>
<circle cx="626.7" cy="268.8" r="1.2" fill="#507f29"/>
<circle cx="630.1" cy="248.1" r="1.0" fill="#80b247"/>
<circle cx="627.0" cy="254.8" r="1.2" fill="#609232"/>
<circle cx="620.6" cy="254.4" r="1.2" fill="#76a93f"/>
<circle cx="625.9" cy="269.3" r="0.9" fill="#3e6b20"/>
<circle cx="618.9" cy="266.3" r="0.7" fill="#365f1c"/>
<circle cx="625.3" cy="262.7" r="1.2" fill="#3e6b20"/>
<circle cx="631.4" cy="265.3" r="1.2" fill="#477723"/>
<circle cx="629.2" cy="255.8" r="1.1" fill="#609232"/>
<circle cx="638.2" cy="268.0" r="1.2" fill="#365f1c"/>
<circle cx="638.0" cy="261.7" r="0.8" fill="#609232"/>
<circle cx="634.9" cy="252.2" r="0.9" fill="#58892e"/>
<circle cx="634.0" cy="272.0" r="1.3" fill="#3e6b20"/>
<circle cx="633.8" cy="256.0" r="0.8" fill="#609232"/>
<circle cx="622.0" cy="242.8" r="1.0" fill="#609232"/>
<circle cx="619.5" cy="271.7" r="0.9" fill="#58892e"/>
<circle cx="626.4" cy="243.9" r="1.3" fill="#76a93f"/>
<circle cx="626.7" cy="274.5" r="1.3" fill="#365f1c"/>
<circle cx="629.0" cy="244.0" r="0.9" fill="#507f29"/>
<circle cx="624.9" cy="272.6" r="0.9" fill="#507f29"/>
<circle cx="628.1" cy="259.7" r="1.4" fill="#365f1c"/>
<circle cx="613.5" cy="257.9" r="1.2" fill="#58892e"/>
<circle cx="615.0" cy="263.6" r="1.1" fill="#58892e"/>
<circle cx="638.7" cy="262.1" r="1.0" fill="#58892e"/>
<circle cx="626.6" cy="254.2" r="0.8" fill="#58892e"/>
<circle cx="615.6" cy="251.1" r="1.0" fill="#6c9f38"/>
<circle cx="616.2" cy="266.8" r="0.7" fill="#365f1c"/>
<circle cx="614.9" cy="265.9" r="1.1" fill="#6c9f38"/>
<circle cx="621.4" cy="270.8" r="1.1" fill="#58892e"/>
<circle cx="619.3" cy="247.1" r="1.3" fill="#58892e"/>
<circle cx="623.9" cy="272.4" r="0.7" fill="#365f1c"/>
<circle cx="629.5" cy="244.4" r="1.3" fill="#76a93f"/>
<circle cx="631.7" cy="269.1" r="1.3" fill="#3e6b20"/>
<circle cx="621.8" cy="253.1" r="0.8" fill="#76a93f"/>
<circle cx="625.2" cy="247.2" r="1.0" fill="#507f29"/>
<circle cx="630.0" cy="242.9" r="0.7" fill="#80b247"/>
<circle cx="624.1" cy="265.4" r="1.4" fill="#58892e"/>
<circle cx="639.4" cy="266.1" r="1.2" fill="#609232"/>
<circle cx="632.3" cy="255.0" r="1.4" fill="#609232"/>
<circle cx="637.0" cy="247.0" r="1.1" fill="#507f29"/>
<circle cx="638.6" cy="248.7" r="1.1" fill="#76a93f"/>
<circle cx="639.7" cy="258.7" r="0.8" fill="#80b247"/>
<circle cx="618.3" cy="247.9" r="0.8" fill="#609232"/>
<circle cx="613.7" cy="266.9" r="1.0" fill="#609232"/>
<circle cx="625.2" cy="270.4" r="0.9" fill="#58892e"/>
<circle cx="631.5" cy="255.1" r="0.9" fill="#80b247"/>
<circle cx="625.7" cy="267.7" r="1.0" fill="#58892e"/>
<circle cx="611.8" cy="256.8" r="1.0" fill="#76a93f"/>
<circle cx="615.5" cy="259.9" r="1.0" fill="#507f29"/>
<circle cx="628.0" cy="244.1" r="1.1" fill="#507f29"/>
<circle cx="616.5" cy="259.0" r="0.8" fill="#609232"/>
<circle cx="631.2" cy="268.9" r="0.8" fill="#58892e"/>
<circle cx="625.0" cy="249.4" r="1.1" fill="#6c9f38"/>
<circle cx="625.0" cy="269.6" r="1.2" fill="#477723"/>
<circle cx="622.8" cy="253.7" r="0.8" fill="#58892e"/>
<circle cx="613.9" cy="254.6" r="1.1" fill="#507f29"/>
<circle cx="630.0" cy="245.1" r="1.0" fill="#80b247"/>
<circle cx="621.3" cy="245.3" r="0.8" fill="#507f29"/>
<circle cx="630.9" cy="271.0" r="0.8" fill="#609232"/>
<circle cx="619.1" cy="243.2" r="1.2" fill="#80b247"/>
<circle cx="619.8" cy="263.2" r="0.7" fill="#58892e"/>
<circle cx="620.3" cy="265.6" r="1.1" fill="#365f1c"/>
<circle cx="625.8" cy="264.5" r="0.8" fill="#58892e"/>
<circle cx="618.2" cy="244.7" r="0.8" fill="#507f29"/>
<circle cx="615.6" cy="249.9" r="0.7" fill="#76a93f"/>
<circle cx="638.3" cy="262.2" r="1.1" fill="#507f29"/>
<circle cx="631.1" cy="267.0" r="1.2" fill="#609232"/>
<circle cx="632.2" cy="257.1" r="1.2" fill="#6c9f38"/>
<circle cx="617.1" cy="261.3" r="0.8" fill="#6c9f38"/>
<circle cx="620.4" cy="246.1" r="0.8" fill="#76a93f"/>
<circle cx="623.7" cy="262.7" r="0.9" fill="#507f29"/>
<circle cx="615.7" cy="266.1" r="1.3" fill="#477723"/>
<circle cx="639.0" cy="262.7" r="0.9" fill="#507f29"/>
<circle cx="619.6" cy="267.0" r="1.0" fill="#3e6b20"/>
<circle cx="617.6" cy="263.8" r="1.3" fill="#609232"/>
<circle cx="629.5" cy="247.7" r="1.2" fill="#76a93f"/>
<circle cx="625.7" cy="245.2" r="0.9" fill="#609232"/>
<circle cx="629.1" cy="247.4" r="1.2" fill="#80b247"/>
<circle cx="619.8" cy="264.5" r="0.9" fill="#76a93f"/>
<circle cx="630.8" cy="250.4" r="1.0" fill="#80b247"/>
<circle cx="630.8" cy="256.7" r="0.8" fill="#507f29"/>
<circle cx="614.0" cy="258.0" r="0.9" fill="#609232"/>
<circle cx="627.5" cy="266.3" r="0.8" fill="#58892e"/>
<circle cx="626.3" cy="253.2" r="1.1" fill="#609232"/>
<circle cx="637.1" cy="255.3" r="1.2" fill="#507f29"/>
<circle cx="634.8" cy="269.7" r="1.4" fill="#477723"/>
<path d="M601.00,305.00 L601.50,284.85 L602.90,284.85 L603.40,305.00 Z" fill="#4e4330"/>
<circle cx="612.57" cy="278.50" r="5.86" fill="#3c6a1d"/>
<circle cx="612.16" cy="280.25" r="7.08" fill="#3c6a1d"/>
<circle cx="609.32" cy="284.70" r="5.83" fill="#3c6a1d"/>
<circle cx="603.65" cy="287.52" r="6.15" fill="#3c6a1d"/>
<circle cx="598.03" cy="287.08" r="5.99" fill="#3c6a1d"/>
<circle cx="593.74" cy="284.38" r="6.12" fill="#3c6a1d"/>
<circle cx="591.67" cy="281.37" r="6.98" fill="#3c6a1d"/>
<circle cx="590.74" cy="277.16" r="6.97" fill="#3c6a1d"/>
<circle cx="592.13" cy="272.54" r="5.73" fill="#3c6a1d"/>
<circle cx="595.88" cy="268.72" r="6.50" fill="#3c6a1d"/>
<circle cx="598.65" cy="267.52" r="5.93" fill="#3c6a1d"/>
<circle cx="605.25" cy="267.67" r="6.49" fill="#3c6a1d"/>
<circle cx="609.61" cy="270.37" r="6.76" fill="#3c6a1d"/>
<circle cx="612.15" cy="274.50" r="6.47" fill="#3c6a1d"/>
<circle cx="617.64" cy="278.35" r="2.43" fill="#4a7a25"/>
<circle cx="617.27" cy="281.83" r="1.96" fill="#4a7a25"/>
<circle cx="615.40" cy="284.44" r="1.47" fill="#5a8c30"/>
<circle cx="612.52" cy="287.50" r="1.72" fill="#4a7a25"/>
<circle cx="611.35" cy="288.76" r="2.01" fill="#4a7a25"/>
<circle cx="606.92" cy="291.37" r="1.99" fill="#4a7a25"/>
<circle cx="602.84" cy="291.96" r="1.51" fill="#4a7a25"/>
<circle cx="600.26" cy="291.89" r="2.40" fill="#3f6d1f"/>
<circle cx="596.14" cy="290.44" r="2.37" fill="#3f6d1f"/>
<circle cx="594.11" cy="289.66" r="2.38" fill="#5a8c30"/>
<circle cx="591.15" cy="287.66" r="2.26" fill="#5a8c30"/>
<circle cx="587.17" cy="282.90" r="1.62" fill="#3f6d1f"/>
<circle cx="585.46" cy="280.44" r="2.32" fill="#4a7a25"/>
<circle cx="586.61" cy="277.12" r="2.14" fill="#4a7a25"/>
<circle cx="587.13" cy="274.04" r="2.43" fill="#3f6d1f"/>
<circle cx="588.08" cy="269.31" r="1.44" fill="#5a8c30"/>
<circle cx="590.19" cy="268.32" r="2.08" fill="#5a8c30"/>
<circle cx="592.82" cy="265.82" r="2.44" fill="#4a7a25"/>
<circle cx="596.36" cy="263.07" r="1.93" fill="#3f6d1f"/>
<circle cx="598.88" cy="263.27" r="1.92" fill="#3f6d1f"/>
<circle cx="603.23" cy="261.67" r="1.97" fill="#3f6d1f"/>
<circle cx="605.85" cy="262.27" r="1.45" fill="#3f6d1f"/>
<circle cx="611.44" cy="266.14" r="2.15" fill="#4a7a25"/>
<circle cx="613.09" cy="267.75" r="1.70" fill="#3f6d1f"/>
<circle cx="616.33" cy="272.00" r="2.44" fill="#4a7a25"/>
<circle cx="616.60" cy="272.68" r="1.46" fill="#4a7a25"/>
<ellipse cx="601.70" cy="277.75" rx="12.74" ry="12.78" fill="#4f8228"/>
<circle cx="599.1" cy="269.6" r="1.1" fill="#76a93f"/>
<circle cx="616.6" cy="276.4" r="1.0" fill="#477723"/>
<circle cx="596.6" cy="284.3" r="0.7" fill="#80b247"/>
<circle cx="592.2" cy="286.7" r="1.1" fill="#477723"/>
<circle cx="592.0" cy="289.2" r="0.9" fill="#58892e"/>
<circle cx="592.2" cy="276.2" r="1.2" fill="#6c9f38"/>
<circle cx="608.3" cy="263.1" r="0.9" fill="#609232"/>
<circle cx="604.9" cy="274.5" r="0.8" fill="#507f29"/>
<circle cx="603.6" cy="280.9" r="0.7" fill="#58892e"/>
<circle cx="586.9" cy="275.4" r="1.3" fill="#609232"/>
<circle cx="592.1" cy="270.9" r="0.8" fill="#76a93f"/>
<circle cx="598.0" cy="277.6" r="0.8" fill="#58892e"/>
<circle cx="608.0" cy="280.6" r="1.3" fill="#609232"/>
<circle cx="590.8" cy="284.5" r="0.9" fill="#609232"/>
<circle cx="595.2" cy="264.7" r="1.3" fill="#58892e"/>
<circle cx="596.4" cy="270.2" r="0.9" fill="#58892e"/>
<circle cx="608.4" cy="283.9" r="0.8" fill="#609232"/>
<circle cx="614.0" cy="269.6" r="1.0" fill="#76a93f"/>
<circle cx="593.4" cy="282.7" r="0.9" fill="#609232"/>
<circle cx="603.5" cy="290.5" r="1.0" fill="#58892e"/>
<circle cx="599.5" cy="289.6" r="1.2" fill="#3e6b20"/>
<circle cx="591.5" cy="274.0" r="1.3" fill="#58892e"/>
<circle cx="610.2" cy="285.1" r="1.0" fill="#507f29"/>
<circle cx="598.3" cy="271.1" r="1.1" fill="#507f29"/>
<circle cx="589.2" cy="281.1" r="1.0" fill="#477723"/>
<circle cx="608.2" cy="269.1" r="0.7" fill="#507f29"/>
<circle cx="607.3" cy="280.9" r="0.9" fill="#58892e"/>
<circle cx="588.9" cy="280.0" r="1.2" fill="#58892e"/>
<circle cx="609.3" cy="290.1" r="1.2" fill="#477723"/>
<circle cx="610.3" cy="273.9" r="1.2" fill="#507f29"/>
<circle cx="603.9" cy="264.6" r="0.9" fill="#609232"/>
<circle cx="611.5" cy="267.1" r="0.9" fill="#507f29"/>
<circle cx="600.8" cy="281.1" r="1.1" fill="#80b247"/>
<circle cx="592.8" cy="289.3" r="1.1" fill="#3e6b20"/>
<circle cx="603.2" cy="288.2" r="0.8" fill="#477723"/>
<circle cx="590.7" cy="274.1" r="0.8" fill="#76a93f"/>
<circle cx="595.9" cy="265.2" r="0.8" fill="#58892e"/>
<circle cx="587.7" cy="277.3" r="1.0" fill="#3e6b20"/>
<circle cx="604.0" cy="271.7" r="1.1" fill="#80b247"/>
<circle cx="599.4" cy="269.7" r="0.8" fill="#58892e"/>
<circle cx="611.7" cy="283.6" r="1.1" fill="#365f1c"/>
<circle cx="595.1" cy="290.6" r="1.2" fill="#3e6b20"/>
<circle cx="593.4" cy="268.0" r="1.3" fill="#58892e"/>
<circle cx="586.6" cy="273.8" r="1.4" fill="#6c9f38"/>
<circle cx="602.2" cy="272.8" r="0.9" fill="#6c9f38"/>
<circle cx="590.1" cy="272.3" r="1.3" fill="#507f29"/>
<circle cx="612.1" cy="272.5" r="0.9" fill="#80b247"/>
<circle cx="611.4" cy="282.6" r="1.0" fill="#58892e"/>
<circle cx="598.4" cy="280.7" r="1.0" fill="#609232"/>
<circle cx="598.6" cy="290.2" r="1.4" fill="#58892e"/>
<circle cx="607.1" cy="277.7" r="0.9" fill="#58892e"/>
<circle cx="607.1" cy="268.2" r="1.4" fill="#58892e"/>
<circle cx="605.4" cy="287.7" r="1.1" fill="#609232"/>
<circle cx="597.0" cy="290.2" r="0.9" fill="#609232"/>
<circle cx="586.7" cy="272.0" r="1.0" fill="#609232"/>
<circle cx="615.5" cy="284.7" r="1.2" fill="#365f1c"/>
<circle cx="617.1" cy="278.8" r="1.1" fill="#507f29"/>
<circle cx="594.6" cy="277.3" r="0.9" fill="#507f29"/>
<circle cx="611.0" cy="266.2" r="0.9" fill="#609232"/>
<circle cx="591.4" cy="265.6" r="0.8" fill="#76a93f"/>
<circle cx="597.3" cy="271.0" r="1.2" fill="#6c9f38"/>
<circle cx="613.1" cy="287.8" r="0.8" fill="#3e6b20"/>
<circle cx="599.5" cy="285.3" r="0.9" fill="#609232"/>
<circle cx="614.5" cy="277.2" r="1.0" fill="#507f29"/>
<circle cx="607.8" cy="273.8" r="0.9" fill="#58892e"/>
<circle cx="604.6" cy="280.9" r="1.1" fill="#58892e"/>
<circle cx="606.2" cy="270.1" r="1.2" fill="#58892e"/>
<circle cx="615.5" cy="277.9" r="1.0" fill="#507f29"/>
<circle cx="590.3" cy="280.4" r="1.2" fill="#477723"/>
<circle cx="605.5" cy="285.2" r="0.7" fill="#3e6b20"/>
<circle cx="594.0" cy="275.7" r="1.0" fill="#507f29"/>
<circle cx="610.1" cy="276.3" r="0.7" fill="#507f29"/>
<circle cx="614.0" cy="283.0" r="1.0" fill="#477723"/>
<circle cx="610.1" cy="284.2" r="1.0" fill="#58892e"/>
<circle cx="613.7" cy="273.6" r="0.9" fill="#58892e"/>
<circle cx="602.3" cy="272.8" r="1.2" fill="#507f29"/>
<circle cx="606.0" cy="268.6" r="1.2" fill="#6c9f38"/>
<circle cx="610.9" cy="275.4" r="0.9" fill="#6c9f38"/>
<circle cx="614.3" cy="283.9" r="1.0" fill="#609232"/>
<circle cx="601.2" cy="263.5" r="0.8" fill="#6c9f38"/>
<circle cx="602.2" cy="284.5" r="0.8" fill="#507f29"/>
<circle cx="591.3" cy="288.2" r="1.4" fill="#507f29"/>
<circle cx="587.8" cy="282.0" r="1.0" fill="#76a93f"/>
<circle cx="595.4" cy="263.3" r="1.1" fill="#80b247"/>
<circle cx="593.3" cy="281.0" r="1.4" fill="#507f29"/>
<circle cx="595.0" cy="282.2" r="1.3" fill="#609232"/>
<circle cx="599.5" cy="261.9" r="0.8" fill="#80b247"/>
<circle cx="615.2" cy="274.7" r="1.3" fill="#507f29"/>
<circle cx="610.7" cy="270.9" r="0.7" fill="#6c9f38"/>
<circle cx="601.8" cy="287.4" r="0.8" fill="#365f1c"/>
<circle cx="603.6" cy="285.1" r="1.0" fill="#58892e"/>
<circle cx="615.7" cy="280.1" r="1.2" fill="#507f29"/>
<circle cx="595.8" cy="277.2" r="1.1" fill="#76a93f"/>
<circle cx="596.8" cy="274.9" r="1.3" fill="#58892e"/>
<circle cx="593.8" cy="291.7" r="1.4" fill="#58892e"/>
<circle cx="604.6" cy="271.1" r="1.1" fill="#507f29"/>
<circle cx="599.9" cy="273.0" r="0.8" fill="#609232"/>
<circle cx="587.8" cy="282.3" r="1.0" fill="#609232"/>
<circle cx="598.1" cy="290.1" r="0.9" fill="#58892e"/>
<circle cx="603.0" cy="286.5" r="0.8" fill="#507f29"/>
<circle cx="612.8" cy="271.9" r="0.9" fill="#6c9f38"/>
<circle cx="595.8" cy="271.1" r="1.0" fill="#507f29"/>
<circle cx="593.6" cy="265.8" r="0.9" fill="#76a93f"/>
<circle cx="610.0" cy="290.6" r="1.1" fill="#477723"/>
<circle cx="591.7" cy="270.8" r="1.2" fill="#58892e"/>
<circle cx="589.4" cy="287.8" r="1.4" fill="#3e6b20"/>
<circle cx="607.3" cy="266.6" r="1.1" fill="#507f29"/>
<circle cx="614.5" cy="283.2" r="1.1" fill="#609232"/>
<circle cx="594.3" cy="284.9" r="1.1" fill="#477723"/>
<circle cx="612.1" cy="268.5" r="1.2" fill="#609232"/>
<circle cx="595.8" cy="270.9" r="1.2" fill="#507f29"/>
<circle cx="592.9" cy="266.4" r="0.8" fill="#80b247"/>
<circle cx="598.3" cy="278.2" r="1.1" fill="#76a93f"/>
<circle cx="610.0" cy="266.9" r="1.1" fill="#6c9f38"/>
<circle cx="603.6" cy="289.0" r="1.1" fill="#609232"/>
<circle cx="601.7" cy="286.8" r="1.3" fill="#507f29"/>
<circle cx="608.2" cy="276.4" r="1.2" fill="#58892e"/>
<circle cx="594.5" cy="280.9" r="0.7" fill="#507f29"/>
<circle cx="593.8" cy="270.9" r="0.9" fill="#76a93f"/>
<circle cx="596.8" cy="271.3" r="0.8" fill="#609232"/>
<circle cx="608.0" cy="269.1" r="1.3" fill="#58892e"/>
<circle cx="593.4" cy="280.6" r="1.3" fill="#58892e"/>
<circle cx="586.3" cy="279.9" r="0.8" fill="#76a93f"/>
<circle cx="600.6" cy="271.3" r="1.2" fill="#507f29"/>
<circle cx="589.9" cy="277.2" r="0.7" fill="#609232"/>
<circle cx="588.8" cy="283.5" r="0.9" fill="#609232"/>
<circle cx="591.8" cy="283.7" r="0.8" fill="#80b247"/>
<circle cx="587.6" cy="277.5" r="0.9" fill="#80b247"/>
<circle cx="597.8" cy="282.3" r="1.4" fill="#609232"/>
<circle cx="607.4" cy="277.4" r="1.4" fill="#609232"/>
<circle cx="594.6" cy="277.9" r="1.4" fill="#80b247"/>
<circle cx="598.1" cy="277.5" r="0.8" fill="#76a93f"/>
<circle cx="587.2" cy="270.4" r="0.7" fill="#609232"/>
<circle cx="615.0" cy="280.0" r="0.9" fill="#58892e"/>
<circle cx="597.0" cy="267.6" r="1.0" fill="#80b247"/>
<circle cx="615.3" cy="283.6" r="0.9" fill="#3e6b20"/>
<circle cx="606.8" cy="277.8" r="0.7" fill="#507f29"/>
<circle cx="602.1" cy="288.1" r="1.2" fill="#477723"/>
<circle cx="615.8" cy="269.8" r="1.2" fill="#58892e"/>
<circle cx="596.7" cy="287.8" r="1.3" fill="#477723"/>
<circle cx="600.2" cy="277.4" r="0.9" fill="#609232"/>
<circle cx="610.1" cy="278.0" r="0.7" fill="#507f29"/>
<circle cx="615.2" cy="279.4" r="1.0" fill="#477723"/>
<circle cx="600.9" cy="274.3" r="0.7" fill="#76a93f"/>
<circle cx="598.3" cy="265.4" r="1.1" fill="#609232"/>
<circle cx="595.7" cy="264.6" r="0.7" fill="#6c9f38"/>
<circle cx="606.1" cy="269.2" r="1.3" fill="#6c9f38"/>
<circle cx="594.2" cy="268.6" r="1.2" fill="#6c9f38"/>
<circle cx="603.6" cy="287.7" r="0.9" fill="#365f1c"/>
<circle cx="602.1" cy="281.4" r="0.9" fill="#477723"/>
<circle cx="605.5" cy="277.9" r="1.2" fill="#3e6b20"/>
<circle cx="606.4" cy="265.0" r="0.7" fill="#6c9f38"/>
<circle cx="601.3" cy="287.7" r="1.2" fill="#58892e"/>
<circle cx="604.3" cy="261.9" r="1.0" fill="#6c9f38"/>
<circle cx="609.4" cy="274.1" r="1.2" fill="#3e6b20"/>
<circle cx="600.5" cy="271.4" r="0.9" fill="#507f29"/>
<circle cx="597.9" cy="290.7" r="1.1" fill="#477723"/>
<circle cx="587.2" cy="274.5" r="0.7" fill="#76a93f"/>
<circle cx="611.1" cy="279.1" r="1.2" fill="#58892e"/>
<circle cx="613.6" cy="278.4" r="1.3" fill="#477723"/>
<circle cx="596.3" cy="275.2" r="1.0" fill="#609232"/>
<circle cx="601.9" cy="285.0" r="1.0" fill="#58892e"/>
<circle cx="606.1" cy="264.8" r="0.7" fill="#76a93f"/>
<circle cx="598.0" cy="290.4" r="1.4" fill="#477723"/>
<circle cx="607.7" cy="286.7" r="1.4" fill="#365f1c"/>
<circle cx="597.2" cy="277.8" r="0.7" fill="#609232"/>
<circle cx="593.8" cy="269.0" r="0.7" fill="#6c9f38"/>
<circle cx="594.2" cy="267.9" r="1.1" fill="#6c9f38"/>
<circle cx="603.8" cy="287.7" r="0.7" fill="#3e6b20"/>
<circle cx="600.4" cy="283.9" r="0.7" fill="#507f29"/>
<path d="M576.30,323.30 L576.80,303.08 L578.20,303.08 L578.70,323.30 Z" fill="#4e4330"/>
<circle cx="588.10" cy="296.64" r="6.79" fill="#3c6a1d"/>
<circle cx="586.52" cy="300.99" r="5.60" fill="#3c6a1d"/>
<circle cx="583.95" cy="303.77" r="6.07" fill="#3c6a1d"/>
<circle cx="579.82" cy="305.67" r="5.67" fill="#3c6a1d"/>
<circle cx="576.15" cy="305.82" r="6.10" fill="#3c6a1d"/>
<circle cx="571.64" cy="304.12" r="6.11" fill="#3c6a1d"/>
<circle cx="568.72" cy="301.21" r="5.61" fill="#3c6a1d"/>
<circle cx="566.94" cy="295.33" r="6.07" fill="#3c6a1d"/>
<circle cx="567.99" cy="291.36" r="6.50" fill="#3c6a1d"/>
<circle cx="570.57" cy="287.98" r="5.57" fill="#3c6a1d"/>
<circle cx="576.07" cy="285.48" r="6.30" fill="#3c6a1d"/>
<circle cx="580.40" cy="285.77" r="6.34" fill="#3c6a1d"/>
<circle cx="585.28" cy="288.71" r="5.99" fill="#3c6a1d"/>
<circle cx="587.46" cy="292.15" r="5.99" fill="#3c6a1d"/>
<circle cx="593.09" cy="296.22" r="1.46" fill="#4a7a25"/>
<circle cx="592.55" cy="298.81" r="2.07" fill="#3f6d1f"/>
<circle cx="590.99" cy="301.09" r="2.21" fill="#3f6d1f"/>
<circle cx="588.28" cy="305.25" r="1.96" fill="#5a8c30"/>
<circle cx="586.86" cy="306.66" r="2.30" fill="#5a8c30"/>
<circle cx="583.70" cy="309.19" r="1.64" fill="#3f6d1f"/>
<circle cx="578.96" cy="310.78" r="1.88" fill="#4a7a25"/>
<circle cx="575.48" cy="310.37" r="2.34" fill="#3f6d1f"/>
<circle cx="572.56" cy="309.61" r="1.78" fill="#3f6d1f"/>
<circle cx="567.92" cy="307.70" r="2.20" fill="#3f6d1f"/>
<circle cx="565.42" cy="305.35" r="1.73" fill="#4a7a25"/>
<circle cx="564.75" cy="301.93" r="1.94" fill="#4a7a25"/>
<circle cx="562.94" cy="298.22" r="1.92" fill="#3f6d1f"/>
<circle cx="562.20" cy="295.43" r="1.47" fill="#3f6d1f"/>
<circle cx="563.16" cy="291.22" r="2.29" fill="#3f6d1f"/>
<circle cx="564.36" cy="287.87" r="2.09" fill="#5a8c30"/>
<circle cx="566.58" cy="285.33" r="1.68" fill="#5a8c30"/>
<circle cx="569.58" cy="283.46" r="1.40" fill="#3f6d1f"/>
<circle cx="571.62" cy="281.25" r="1.63" fill="#5a8c30"/>
<circle cx="574.42" cy="280.85" r="1.61" fill="#5a8c30"/>
<circle cx="580.88" cy="280.10" r="1.65" fill="#4a7a25"/>
<circle cx="582.77" cy="282.07" r="2.26" fill="#3f6d1f"/>
<circle cx="586.45" cy="283.65" r="2.14" fill="#3f6d1f"/>
<circle cx="588.53" cy="285.49" r="2.39" fill="#5a8c30"/>
<circle cx="591.18" cy="289.16" r="2.30" fill="#3f6d1f"/>
<circle cx="591.43" cy="291.30" r="1.76" fill="#3f6d1f"/>
<ellipse cx="577.55" cy="296.00" rx="12.35" ry="12.74" fill="#4f8228"/>
<circle cx="571.9" cy="284.8" r="1.0" fill="#609232"/>
<circle cx="580.3" cy="288.0" r="1.0" fill="#76a93f"/>
<circle cx="565.1" cy="303.1" r="1.3" fill="#507f29"/>
<circle cx="564.8" cy="292.7" r="1.4" fill="#609232"/>
<circle cx="583.4" cy="303.9" r="0.9" fill="#58892e"/>
<circle cx="577.7" cy="294.6" r="0.9" fill="#3e6b20"/>
<circle cx="590.0" cy="294.6" r="0.9" fill="#3e6b20"/>
<circle cx="573.6" cy="300.7" r="0.8" fill="#58892e"/>
<circle cx="565.2" cy="295.3" r="1.1" fill="#58892e"/>
<circle cx="573.5" cy="284.0" r="1.3" fill="#58892e"/>
<circle cx="578.4" cy="298.1" r="1.4" fill="#58892e"/>
<circle cx="573.4" cy="310.8" r="1.3" fill="#3e6b20"/>
<circle cx="567.9" cy="288.5" r="0.9" fill="#58892e"/>
<circle cx="581.5" cy="302.4" r="1.2" fill="#609232"/>
<circle cx="579.6" cy="308.3" r="1.0" fill="#507f29"/>
<circle cx="569.6" cy="284.6" r="1.0" fill="#6c9f38"/>
<circle cx="569.3" cy="282.6" r="1.0" fill="#6c9f38"/>
<circle cx="579.7" cy="281.3" r="0.9" fill="#609232"/>
<circle cx="580.7" cy="308.7" r="1.0" fill="#365f1c"/>
<circle cx="585.8" cy="299.3" r="1.1" fill="#58892e"/>
<circle cx="570.8" cy="300.1" r="0.9" fill="#507f29"/>
<circle cx="581.7" cy="286.7" r="1.4" fill="#609232"/>
<circle cx="565.4" cy="293.1" r="0.8" fill="#507f29"/>
<circle cx="571.1" cy="298.6" r="1.0" fill="#58892e"/>
<circle cx="590.1" cy="296.3" r="0.7" fill="#477723"/>
<circle cx="565.5" cy="306.2" r="1.4" fill="#507f29"/>
<circle cx="586.9" cy="286.2" r="1.2" fill="#58892e"/>
<circle cx="581.6" cy="285.7" r="1.0" fill="#76a93f"/>
<circle cx="571.5" cy="281.2" r="1.1" fill="#76a93f"/>
<circle cx="577.6" cy="283.3" r="1.3" fill="#76a93f"/>
<circle cx="579.4" cy="287.1" r="1.0" fill="#6c9f38"/>
<circle cx="564.1" cy="291.9" r="0.7" fill="#507f29"/>
<circle cx="580.5" cy="284.1" r="0.7" fill="#76a93f"/>
<circle cx="578.7" cy="290.0" r="1.3" fill="#80b247"/>
<circle cx="582.7" cy="295.0" r="1.3" fill="#76a93f"/>
<circle cx="580.4" cy="295.3" r="0.7" fill="#507f29"/>
<circle cx="576.5" cy="308.0" r="1.2" fill="#477723"/>
<circle cx="582.5" cy="290.9" r="1.2" fill="#80b247"/>
<circle cx="574.4" cy="291.1" r="0.7" fill="#6c9f38"/>
<circle cx="574.4" cy="290.8" r="1.1" fill="#76a93f"/>
<circle cx="575.0" cy="298.3" r="1.3" fill="#609232"/>
<circle cx="573.7" cy="291.4" r="1.2" fill="#6c9f38"/>
<circle cx="588.5" cy="291.6" r="1.3" fill="#76a93f"/>
<circle cx="585.4" cy="300.6" r="0.7" fill="#507f29"/>
<circle cx="581.9" cy="303.8" r="0.8" fill="#58892e"/>
<circle cx="585.2" cy="305.6" r="1.3" fill="#507f29"/>
<circle cx="577.6" cy="288.8" r="1.1" fill="#507f29"/>
<circle cx="564.9" cy="287.3" r="0.9" fill="#76a93f"/>
<circle cx="566.0" cy="287.3" r="0.8" fill="#76a93f"/>
<circle cx="573.9" cy="297.8" r="1.4" fill="#609232"/>
<circle cx="578.1" cy="290.9" r="1.1" fill="#609232"/>
<circle cx="571.0" cy="299.4" r="0.9" fill="#58892e"/>
<circle cx="563.2" cy="289.7" r="1.2" fill="#58892e"/>
<circle cx="584.3" cy="306.0" r="1.0" fill="#58892e"/>
<circle cx="591.9" cy="301.2" r="0.8" fill="#477723"/>
<circle cx="574.0" cy="283.1" r="1.3" fill="#609232"/>
<circle cx="578.8" cy="290.9" r="1.0" fill="#609232"/>
<circle cx="576.8" cy="289.2" r="0.7" fill="#76a93f"/>
<circle cx="586.3" cy="284.8" r="1.3" fill="#76a93f"/>
<circle cx="571.3" cy="284.5" r="1.4" fill="#6c9f38"/>
<circle cx="567.4" cy="284.3" r="0.8" fill="#609232"/>
<circle cx="575.8" cy="307.9" r="1.1" fill="#507f29"/>
<circle cx="569.9" cy="287.4" r="1.1" fill="#76a93f"/>
<circle cx="570.0" cy="301.5" r="1.3" fill="#3e6b20"/>
<circle cx="580.2" cy="284.3" r="0.9" fill="#6c9f38"/>
<circle cx="590.0" cy="289.5" r="0.9" fill="#58892e"/>
<circle cx="586.7" cy="304.5" r="1.0" fill="#365f1c"/>
<circle cx="583.5" cy="290.7" r="1.1" fill="#477723"/>
<circle cx="576.5" cy="311.8" r="1.2" fill="#3e6b20"/>
<circle cx="593.1" cy="294.1" r="0.9" fill="#477723"/>
<circle cx="578.9" cy="285.7" r="1.1" fill="#58892e"/>
<circle cx="579.7" cy="293.0" r="1.1" fill="#609232"/>
<circle cx="577.2" cy="291.9" r="0.8" fill="#58892e"/>
<circle cx="564.1" cy="302.0" r="1.3" fill="#58892e"/>
<circle cx="572.0" cy="302.7" r="1.3" fill="#609232"/>
<circle cx="584.7" cy="296.0" r="1.3" fill="#609232"/>
<circle cx="577.4" cy="287.4" r="1.2" fill="#507f29"/>
<circle cx="575.8" cy="281.2" r="1.0" fill="#80b247"/>
<circle cx="574.3" cy="291.3" r="1.3" fill="#365f1c"/>
<circle cx="583.6" cy="287.2" r="1.2" fill="#58892e"/>
<circle cx="578.6" cy="299.0" r="0.8" fill="#80b247"/>
<circle cx="573.6" cy="306.6" r="1.3" fill="#58892e"/>
<circle cx="577.1" cy="307.8" r="1.4" fill="#477723"/>
<circle cx="571.3" cy="299.5" r="1.4" fill="#609232"/>
<circle cx="581.3" cy="291.8" r="0.8" fill="#6c9f38"/>
<circle cx="581.2" cy="289.3" r="1.2" fill="#507f29"/>
<circle cx="567.4" cy="295.1" r="0.8" fill="#6c9f38"/>
<circle cx="580.3" cy="294.2" r="0.7" fill="#58892e"/>
<circle cx="584.2" cy="296.9" r="0.7" fill="#477723"/>
<circle cx="569.9" cy="300.9" r="1.2" fill="#507f29"/>
<circle cx="583.2" cy="291.0" r="0.7" fill="#3e6b20"/>
<circle cx="582.4" cy="298.0" r="1.3" fill="#76a93f"/>
<circle cx="574.0" cy="285.8" r="1.1" fill="#609232"/>
<circle cx="578.8" cy="292.8" r="0.8" fill="#477723"/>
<circle cx="571.4" cy="309.3" r="1.1" fill="#3e6b20"/>
<circle cx="578.2" cy="308.7" r="1.2" fill="#609232"/>
<circle cx="588.8" cy="292.8" r="1.3" fill="#507f29"/>
<circle cx="582.2" cy="285.7" r="1.3" fill="#609232"/>
<circle cx="574.9" cy="287.3" r="1.2" fill="#80b247"/>
<circle cx="573.9" cy="309.6" r="1.3" fill="#477723"/>
<circle cx="591.4" cy="301.2" r="1.0" fill="#477723"/>
<circle cx="564.8" cy="304.7" r="0.8" fill="#507f29"/>
<circle cx="581.5" cy="309.0" r="1.1" fill="#365f1c"/>
<circle cx="585.3" cy="298.7" r="1.1" fill="#58892e"/>
<circle cx="582.6" cy="290.2" r="1.1" fill="#58892e"/>
<circle cx="567.7" cy="305.1" r="0.9" fill="#80b247"/>
<circle cx="582.2" cy="304.2" r="0.8" fill="#507f29"/>
<circle cx="588.6" cy="287.9" r="0.8" fill="#6c9f38"/>
<circle cx="577.2" cy="293.5" r="1.0" fill="#507f29"/>
<circle cx="564.0" cy="289.3" r="1.1" fill="#58892e"/>
<circle cx="565.0" cy="291.2" r="1.3" fill="#507f29"/>
<circle cx="566.5" cy="299.7" r="0.9" fill="#365f1c"/>
<circle cx="580.9" cy="284.3" r="1.2" fill="#58892e"/>
<circle cx="587.1" cy="283.4" r="1.3" fill="#6c9f38"/>
<circle cx="580.8" cy="305.1" r="1.3" fill="#609232"/>
<circle cx="572.4" cy="291.0" r="1.4" fill="#58892e"/>
<circle cx="592.3" cy="301.0" r="1.1" fill="#3e6b20"/>
<circle cx="581.4" cy="307.1" r="1.1" fill="#365f1c"/>
<circle cx="584.6" cy="302.6" r="1.4" fill="#3e6b20"/>
<circle cx="582.7" cy="303.3" r="1.2" fill="#365f1c"/>
<circle cx="584.0" cy="291.7" r="1.0" fill="#507f29"/>
<circle cx="567.5" cy="291.0" r="1.2" fill="#76a93f"/>
<circle cx="574.8" cy="283.5" r="0.9" fill="#609232"/>
<circle cx="584.2" cy="288.4" r="1.2" fill="#507f29"/>
<circle cx="588.9" cy="303.6" r="1.3" fill="#365f1c"/>
<circle cx="583.5" cy="309.9" r="1.2" fill="#365f1c"/>
<circle cx="566.0" cy="306.0" r="0.9" fill="#507f29"/>
<circle cx="567.8" cy="305.2" r="1.0" fill="#507f29"/>
<circle cx="568.1" cy="283.4" r="0.8" fill="#76a93f"/>
<circle cx="577.5" cy="289.9" r="1.0" fill="#58892e"/>
<circle cx="567.9" cy="302.2" r="1.4" fill="#80b247"/>
<circle cx="577.6" cy="281.4" r="1.0" fill="#76a93f"/>
<circle cx="587.9" cy="302.0" r="1.1" fill="#477723"/>
<circle cx="568.7" cy="306.7" r="1.3" fill="#365f1c"/>
<circle cx="563.3" cy="296.3" r="1.2" fill="#609232"/>
<circle cx="586.2" cy="286.2" r="0.8" fill="#58892e"/>
<circle cx="564.9" cy="304.0" r="1.1" fill="#609232"/>
<circle cx="590.4" cy="299.8" r="1.2" fill="#477723"/>
<circle cx="591.4" cy="297.5" r="1.2" fill="#477723"/>
<circle cx="580.6" cy="308.0" r="1.1" fill="#477723"/>
<circle cx="592.2" cy="294.0" r="1.3" fill="#3e6b20"/>
<circle cx="569.1" cy="304.9" r="0.7" fill="#365f1c"/>
<circle cx="591.3" cy="292.4" r="1.2" fill="#3e6b20"/>
<circle cx="566.2" cy="294.8" r="1.2" fill="#507f29"/>
<circle cx="571.7" cy="286.2" r="0.9" fill="#609232"/>
<circle cx="571.3" cy="282.6" r="0.7" fill="#507f29"/>
<circle cx="586.6" cy="299.0" r="0.8" fill="#365f1c"/>
<circle cx="581.8" cy="301.4" r="0.9" fill="#477723"/>
<circle cx="563.8" cy="296.8" r="1.3" fill="#3e6b20"/>
<circle cx="576.7" cy="307.4" r="1.4" fill="#609232"/>
<circle cx="571.3" cy="282.7" r="1.2" fill="#76a93f"/>
<circle cx="578.1" cy="283.9" r="0.7" fill="#507f29"/>
<circle cx="589.0" cy="291.1" r="1.1" fill="#58892e"/>
<circle cx="571.0" cy="297.8" r="1.2" fill="#76a93f"/>
<circle cx="576.3" cy="296.3" r="1.0" fill="#58892e"/>
<circle cx="567.9" cy="308.7" r="0.9" fill="#58892e"/>
<circle cx="578.9" cy="307.9" r="1.2" fill="#3e6b20"/>
<circle cx="584.5" cy="299.0" r="1.4" fill="#507f29"/>
<circle cx="570.6" cy="282.8" r="1.0" fill="#80b247"/>
<circle cx="584.8" cy="298.2" r="0.9" fill="#76a93f"/>
<circle cx="586.6" cy="295.8" r="0.9" fill="#609232"/>
<circle cx="579.7" cy="294.2" r="1.1" fill="#6c9f38"/>
<circle cx="575.2" cy="283.9" r="0.9" fill="#609232"/>
<circle cx="582.0" cy="282.3" r="0.9" fill="#609232"/>
<circle cx="569.2" cy="295.6" r="0.9" fill="#58892e"/>
<circle cx="573.1" cy="305.4" r="0.9" fill="#3e6b20"/>
<circle cx="583.8" cy="282.7" r="1.0" fill="#76a93f"/>
<circle cx="584.7" cy="309.2" r="0.8" fill="#365f1c"/>
<circle cx="575.2" cy="289.8" r="1.3" fill="#609232"/>
<circle cx="588.5" cy="285.9" r="1.1" fill="#507f29"/>
<path d="M183.30,230.30 C183.70,233.86 184.25,235.83 184.25,237.25 A0.95,0.95 0 0 1 182.35,237.25 C182.35,235.83 182.90,233.86 183.30,230.30Z" fill="#5aa2ea"/>
<path d="M190.60,227.80 C191.00,231.40 191.55,233.40 191.55,234.85 A0.95,0.95 0 0 1 189.65,234.85 C189.65,233.40 190.20,231.40 190.60,227.80Z" fill="#5aa2ea"/>
<path d="M199.80,226.00 C200.20,229.87 200.75,232.02 200.75,233.65 A0.95,0.95 0 0 1 198.85,233.65 C198.85,232.02 199.40,229.87 199.80,226.00Z" fill="#5aa2ea"/>
<path d="M210.20,227.80 C210.60,230.86 211.15,232.56 211.15,233.65 A0.95,0.95 0 0 1 209.25,233.65 C209.25,232.56 209.80,230.86 210.20,227.80Z" fill="#5aa2ea"/>
<path d="M187.00,237.60 C187.40,241.47 187.95,243.62 187.95,245.25 A0.95,0.95 0 0 1 186.05,245.25 C186.05,243.62 186.60,241.47 187.00,237.60Z" fill="#5aa2ea"/>
<path d="M196.70,237.60 C197.10,241.20 197.65,243.20 197.65,244.65 A0.95,0.95 0 0 1 195.75,244.65 C195.75,243.20 196.30,241.20 196.70,237.60Z" fill="#5aa2ea"/>
<path d="M205.90,232.00 C206.30,237.53 206.85,240.61 206.85,243.35 A0.95,0.95 0 0 1 204.95,243.35 C204.95,240.61 205.50,237.53 205.90,232.00Z" fill="#5aa2ea"/>
<path d="M239.50,242.30 C239.90,245.86 240.45,247.83 240.45,249.25 A0.95,0.95 0 0 1 238.55,249.25 C238.55,247.83 239.10,245.86 239.50,242.30Z" fill="#5aa2ea"/>
<path d="M246.80,239.80 C247.20,243.40 247.75,245.40 247.75,246.85 A0.95,0.95 0 0 1 245.85,246.85 C245.85,245.40 246.40,243.40 246.80,239.80Z" fill="#5aa2ea"/>
<path d="M256.00,238.00 C256.40,241.87 256.95,244.02 256.95,245.65 A0.95,0.95 0 0 1 255.05,245.65 C255.05,244.02 255.60,241.87 256.00,238.00Z" fill="#5aa2ea"/>
<path d="M266.40,239.80 C266.80,242.86 267.35,244.56 267.35,245.65 A0.95,0.95 0 0 1 265.45,245.65 C265.45,244.56 266.00,242.86 266.40,239.80Z" fill="#5aa2ea"/>
<path d="M243.20,249.60 C243.60,253.47 244.15,255.62 244.15,257.25 A0.95,0.95 0 0 1 242.25,257.25 C242.25,255.62 242.80,253.47 243.20,249.60Z" fill="#5aa2ea"/>
<path d="M252.90,249.60 C253.30,253.20 253.85,255.20 253.85,256.65 A0.95,0.95 0 0 1 251.95,256.65 C251.95,255.20 252.50,253.20 252.90,249.60Z" fill="#5aa2ea"/>
<path d="M262.10,244.00 C262.50,249.53 263.05,252.61 263.05,255.35 A0.95,0.95 0 0 1 261.15,255.35 C261.15,252.61 261.70,249.53 262.10,244.00Z" fill="#5aa2ea"/>
<path d="M172.22,215.66 Q170.72,211.94 174.27,210.05 Q175.95,205.76 180.40,206.99 Q180.38,202.86 184.49,202.40 Q186.40,198.37 190.62,199.85 Q192.77,196.07 196.75,197.81 Q199.99,196.28 201.86,199.34 Q205.00,199.75 204.93,202.91 Q208.40,201.63 210.04,204.95 Q213.97,204.18 215.15,208.01 Q219.45,207.14 220.77,211.33 Q223.23,213.03 221.79,215.66 Q220.13,219.46 216.17,218.21 Q213.79,221.73 210.04,219.74 Q207.61,224.23 202.88,222.29 Q198.56,225.71 194.71,221.78 Q191.18,224.03 188.57,220.76 Q184.77,223.72 181.42,220.25 Q177.89,222.50 175.29,219.23 Q172.15,218.82 172.22,215.66 Z" fill="#e6f1fb" stroke="#a8c9ea" stroke-width="0.8"/>
<ellipse cx="196.75" cy="210.05" rx="17.37" ry="6.63" fill="#f7fbff"/>
<path d="M177.3,215.2 q5.1,3.1 11.2,0.5 M194.2,217.2 q6.1,2.0 13.3,-1.5 M186.5,205.5 q5.1,-2.0 10.2,0.5 M202.9,208.8 q4.1,-1.5 9.2,1.0" fill="none" stroke="#c5dcf2" stroke-width="0.9"/>
<path d="M228.42,227.86 Q226.92,224.14 230.47,222.25 Q232.16,217.96 236.60,219.19 Q236.58,215.06 240.69,214.60 Q242.60,210.57 246.82,212.05 Q248.97,208.27 252.95,210.01 Q256.19,208.48 258.06,211.54 Q261.20,211.95 261.13,215.11 Q264.60,213.83 266.24,217.15 Q270.17,216.38 271.35,220.21 Q275.65,219.34 276.97,223.53 Q279.43,225.23 277.99,227.86 Q276.33,231.66 272.37,230.41 Q269.99,233.93 266.24,231.94 Q263.81,236.43 259.08,234.49 Q254.76,237.91 250.91,233.98 Q247.38,236.23 244.77,232.96 Q240.97,235.92 237.62,232.45 Q234.09,234.70 231.49,231.43 Q228.35,231.02 228.42,227.86 Z" fill="#e6f1fb" stroke="#a8c9ea" stroke-width="0.8"/>
<ellipse cx="252.95" cy="222.25" rx="17.37" ry="6.63" fill="#f7fbff"/>
<path d="M233.5,227.3 q5.1,3.1 11.2,0.5 M250.4,229.4 q6.1,2.0 13.3,-1.5 M242.7,217.7 q5.1,-2.0 10.2,0.5 M259.1,221.0 q4.1,-1.5 9.2,1.0" fill="none" stroke="#c5dcf2" stroke-width="0.9"/>
<text x="165" y="213.1" font-size="12.3" fill="#1a1a1a" stroke="#1a1a1a" stroke-width="0.22" text-anchor="end"><tspan fill="#4a70c4" stroke="#4a70c4">Precipitation (MAP) (</tspan><tspan fill="#dc1d23" stroke="#dc1d23">22.7%</tspan><tspan fill="#4a70c4" stroke="#4a70c4">)</tspan></text>
<text x="165" y="227.8" font-size="12.3" fill="#1a1a1a" stroke="#1a1a1a" stroke-width="0.22" text-anchor="end"><tspan fill="#4a70c4" stroke="#4a70c4">MAP &amp; pH (</tspan><tspan fill="#dc1d23" stroke="#dc1d23">37.8%</tspan><tspan fill="#4a70c4" stroke="#4a70c4">)</tspan></text>
<text x="209.2" y="203.8" font-size="12.3" fill="#1a1a1a" stroke="#1a1a1a" stroke-width="0.22">Natural factors (<tspan fill="#dc1d23" stroke="#dc1d23">83.2%</tspan>)</text>
<text x="397.2" y="228.1" font-size="12.3" fill="#1a1a1a" stroke="#1a1a1a" stroke-width="0.22">Industrial factors(<tspan fill="#dc1d23" stroke="#dc1d23">1.4%</tspan>)</text>
<text x="249.8" y="267.2" font-size="12.3" fill="#1a1a1a" stroke="#1a1a1a" stroke-width="0.22">Agricultural factors(<tspan fill="#dc1d23" stroke="#dc1d23">1.6%</tspan>)</text>
<text x="296.6" y="308" font-size="12.3" fill="#1a1a1a" stroke="#1a1a1a" stroke-width="0.22">Transportation</text>
<text x="296.6" y="322" font-size="12.3" fill="#1a1a1a" stroke="#1a1a1a" stroke-width="0.22">factors</text>
<text x="296.6" y="337" font-size="12.3" fill="#1a1a1a" stroke="#1a1a1a" stroke-width="0.22">(<tspan fill="#dc1d23" stroke="#dc1d23">10.9%</tspan>)</text>
<text x="128.7" y="333.6" font-size="12.3" fill="#1a1a1a" stroke="#1a1a1a" stroke-width="0.22">Human activity intensity (<tspan fill="#dc1d23" stroke="#dc1d23">3.2%</tspan>)</text>
<text x="37.5" y="336.1" font-size="12.3" fill="#1a1a1a" stroke="#1a1a1a" stroke-width="0.22">Vadose Zone</text>
<text x="31.4" y="370.3" font-size="12.3" fill="#1a1a1a" stroke="#1a1a1a" stroke-width="0.22">Unconfined Aquifer</text>
<text x="124.8" y="397" font-size="12.3" fill="#1a1a1a" stroke="#1a1a1a" stroke-width="0.22" text-anchor="end"><tspan fill="#4a70c4" stroke="#4a70c4">pH (</tspan><tspan fill="#dc1d23" stroke="#dc1d23">26.0%</tspan><tspan fill="#4a70c4" stroke="#4a70c4">)</tspan></text>
<text x="124.8" y="411.5" font-size="12.3" fill="#1a1a1a" stroke="#1a1a1a" stroke-width="0.22" text-anchor="end"><tspan fill="#4a70c4" stroke="#4a70c4">Eh &amp; pH (</tspan><tspan fill="#dc1d23" stroke="#dc1d23">37.3%</tspan><tspan fill="#4a70c4" stroke="#4a70c4">)</tspan></text>
<text x="37.2" y="437" font-size="12.3" fill="#1a1a1a" stroke="#1a1a1a" stroke-width="0.22">Confined Aquifer</text>
<circle cx="162.2" cy="382" r="10.8" fill="none" stroke="#c8161c" stroke-width="1.1"/>
<text x="162.2" y="386.3" font-size="12.3" fill="#1a1a1a" stroke="#1a1a1a" stroke-width="0.22" text-anchor="middle">Eh</text>
<circle cx="142.6" cy="405.8" r="10.8" fill="none" stroke="#c8161c" stroke-width="1.1"/>
<text x="142.6" y="410.1" font-size="12.3" fill="#1a1a1a" stroke="#1a1a1a" stroke-width="0.22" text-anchor="middle">pH</text>
<rect x="152.9" y="343.4" width="91.10" height="19.60" rx="2.8" fill="none" stroke="#f1b52a" stroke-width="1.2"/>
<text x="156.9" y="356.4" font-size="12.3" fill="#1a1a1a" stroke="#1a1a1a" stroke-width="0.22">Rock weathering</text>
<rect x="293.4" y="350.9" width="64.30" height="19.80" rx="2.8" fill="none" stroke="#f1b52a" stroke-width="1.2"/>
<text x="295.9" y="364.5" font-size="12.3" fill="#1a1a1a" stroke="#1a1a1a" stroke-width="0.22">Evaporation</text>
<path d="M194.80,361.5 H197.80 V378.00 H199.40 L196.30,382 L193.20,378.00 H194.80 Z" fill="url(#gArr)"/>
<path d="M325.50,369 H328.50 V384.00 H330.10 L327.00,388 L323.90,384.00 H325.50 Z" fill="url(#gArr)"/>
<text x="197.6" y="388" font-size="12.3" fill="#7434a8" stroke="#7434a8" stroke-width="0.22">positive</text>
<text x="197.6" y="403.2" font-size="12.3" fill="#7434a8" stroke="#7434a8" stroke-width="0.22">correlation</text>
<text x="329.7" y="389" font-size="12.3" fill="#7434a8" stroke="#7434a8" stroke-width="0.22">negative</text>
<text x="329.1" y="404" font-size="12.3" fill="#7434a8" stroke="#7434a8" stroke-width="0.22">correlation</text>
<defs><linearGradient id="gCr" x1="0" y1="0" x2="1" y2="0"><stop offset="0" stop-color="#d8383a"/><stop offset="0.5" stop-color="#e8702a"/><stop offset="1" stop-color="#d83a3a"/></linearGradient></defs>
<rect x="268.2" y="381.4" width="41.8" height="19" fill="#fbe0c0" fill-opacity="0.45" stroke="url(#gCr)" stroke-width="1.2"/>
<text x="273.5" y="394.7" font-size="12.3" fill="#1a1a1a" stroke="#1a1a1a" stroke-width="0.22">Cr(VI)</text>
<path d="M240.3,407 L265.5,401.5" stroke="#f07b3a" stroke-width="1.1" fill="none"/>
<path d="M267.2,401.2 L261.2,398.8 M267.2,401.2 L262.2,405.2" stroke="#f07b3a" stroke-width="1.1" fill="none"/>
<path d="M343.7,409.2 L314,402.4" stroke="#f07b3a" stroke-width="1.1" fill="none"/>
<path d="M312.5,402.1 L318.6,399.2 M312.5,402.1 L317.5,406.2" stroke="#f07b3a" stroke-width="1.1" fill="none"/>
<rect x="192.3" y="409.5" width="77.00" height="19.70" rx="2.8" fill="none" stroke="#f1b52a" stroke-width="1.2"/>
<text x="197.6" y="423.5" font-size="12.3" fill="#1a1a1a" stroke="#1a1a1a" stroke-width="0.22">Na<tspan baseline-shift="4.18" font-size="7.63">+</tspan>, PO<tspan baseline-shift="-1.72" font-size="7.87">4</tspan><tspan baseline-shift="4.18" font-size="7.63">3-</tspan>,As</text>
<rect x="294.6" y="409.5" width="76.90" height="19.70" rx="2.8" fill="none" stroke="#f1b52a" stroke-width="1.2"/>
<text x="298.5" y="423.5" font-size="12.3" fill="#1a1a1a" stroke="#1a1a1a" stroke-width="0.22">Ca<tspan baseline-shift="4.18" font-size="7.63">2+</tspan>, Mn, Ni</text>
<path d="M280.00,415.5 H283.00 V431.00 H284.60 L281.50,435 L278.40,431.00 H280.00 Z" fill="url(#gArr)"/>
<rect x="217.4" y="436.4" width="169.60" height="20.00" rx="2.8" fill="none" stroke="#f1b52a" stroke-width="1.2"/>
<text x="219.6" y="449.9" font-size="12.3" fill="#1a1a1a" stroke="#1a1a1a" stroke-width="0.22">Cr(VI) concentration: 4-131 μg/L</text>
<rect x="386.9" y="376.2" width="176.70" height="20.20" rx="2.8" fill="none" stroke="#f1b52a" stroke-width="1.2"/>
<text x="391.7" y="390.6" font-size="12.3" fill="#1a1a1a" stroke="#1a1a1a" stroke-width="0.22">Cr(VI) concentration: 4-300 μg/L</text>
<rect x="386.9" y="398.4" width="176.70" height="19.40" rx="2.8" fill="none" stroke="#f1b52a" stroke-width="1.2"/>
<text x="389.7" y="412.2" font-size="12.3" fill="#1a1a1a" stroke="#1a1a1a" stroke-width="0.22">HCO<tspan baseline-shift="-1.72" font-size="7.87">3</tspan>-Na and HCO<tspan baseline-shift="-1.72" font-size="7.87">3</tspan>-Ca·Mg type</text>
<rect x="410.3" y="435.9" width="83.90" height="19.60" rx="2.8" fill="none" stroke="#f1b52a" stroke-width="1.2"/>
<text x="413.2" y="449.9" font-size="12.3" fill="#1a1a1a" stroke="#1a1a1a" stroke-width="0.22" xml:space="preserve">HCO<tspan baseline-shift="-1.72" font-size="7.87">3</tspan>-Na  type</text>
<path d="M450.80,364.5 H453.80 V374.00 H455.40 L452.30,378 L449.20,374.00 H450.80 Z" fill="url(#gArr)"/>
<path d="M450.80,416.5 H453.80 V430.00 H455.40 L452.30,434 L449.20,430.00 H450.80 Z" fill="url(#gArr)"/>
<g transform="translate(513.8,307.3) rotate(-45.6)"><rect x="-68" y="-9.4" width="136" height="18.8" rx="3" fill="none" stroke="#f1b52a" stroke-width="1.2"/><text x="-0.5" y="4.3" text-anchor="middle" font-size="12.6" fill="#1a1a1a">Concentration: 4-12 μg/L</text></g>
<text x="512.4" y="340.8" font-size="12.3" fill="#1a1a1a" stroke="#1a1a1a" stroke-width="0.22"><tspan fill="#4a70c4" stroke="#4a70c4">MAP &amp; WD (</tspan><tspan fill="#dc1d23" stroke="#dc1d23">34.4%</tspan><tspan fill="#4a70c4" stroke="#4a70c4">)</tspan></text>
<text x="512.4" y="355.7" font-size="12.3" fill="#1a1a1a" stroke="#1a1a1a" stroke-width="0.22"><tspan fill="#4a70c4" stroke="#4a70c4">pH &amp; WD (</tspan><tspan fill="#dc1d23" stroke="#dc1d23">34.9%</tspan><tspan fill="#4a70c4" stroke="#4a70c4">)</tspan></text>
<text x="512.4" y="370.2" font-size="12.3" fill="#1a1a1a" stroke="#1a1a1a" stroke-width="0.22"><tspan fill="#4a70c4" stroke="#4a70c4">Groundwater depth (WD) (</tspan><tspan fill="#dc1d23" stroke="#dc1d23">14.2%</tspan><tspan fill="#4a70c4" stroke="#4a70c4">)</tspan></text>
</svg></body></html>
